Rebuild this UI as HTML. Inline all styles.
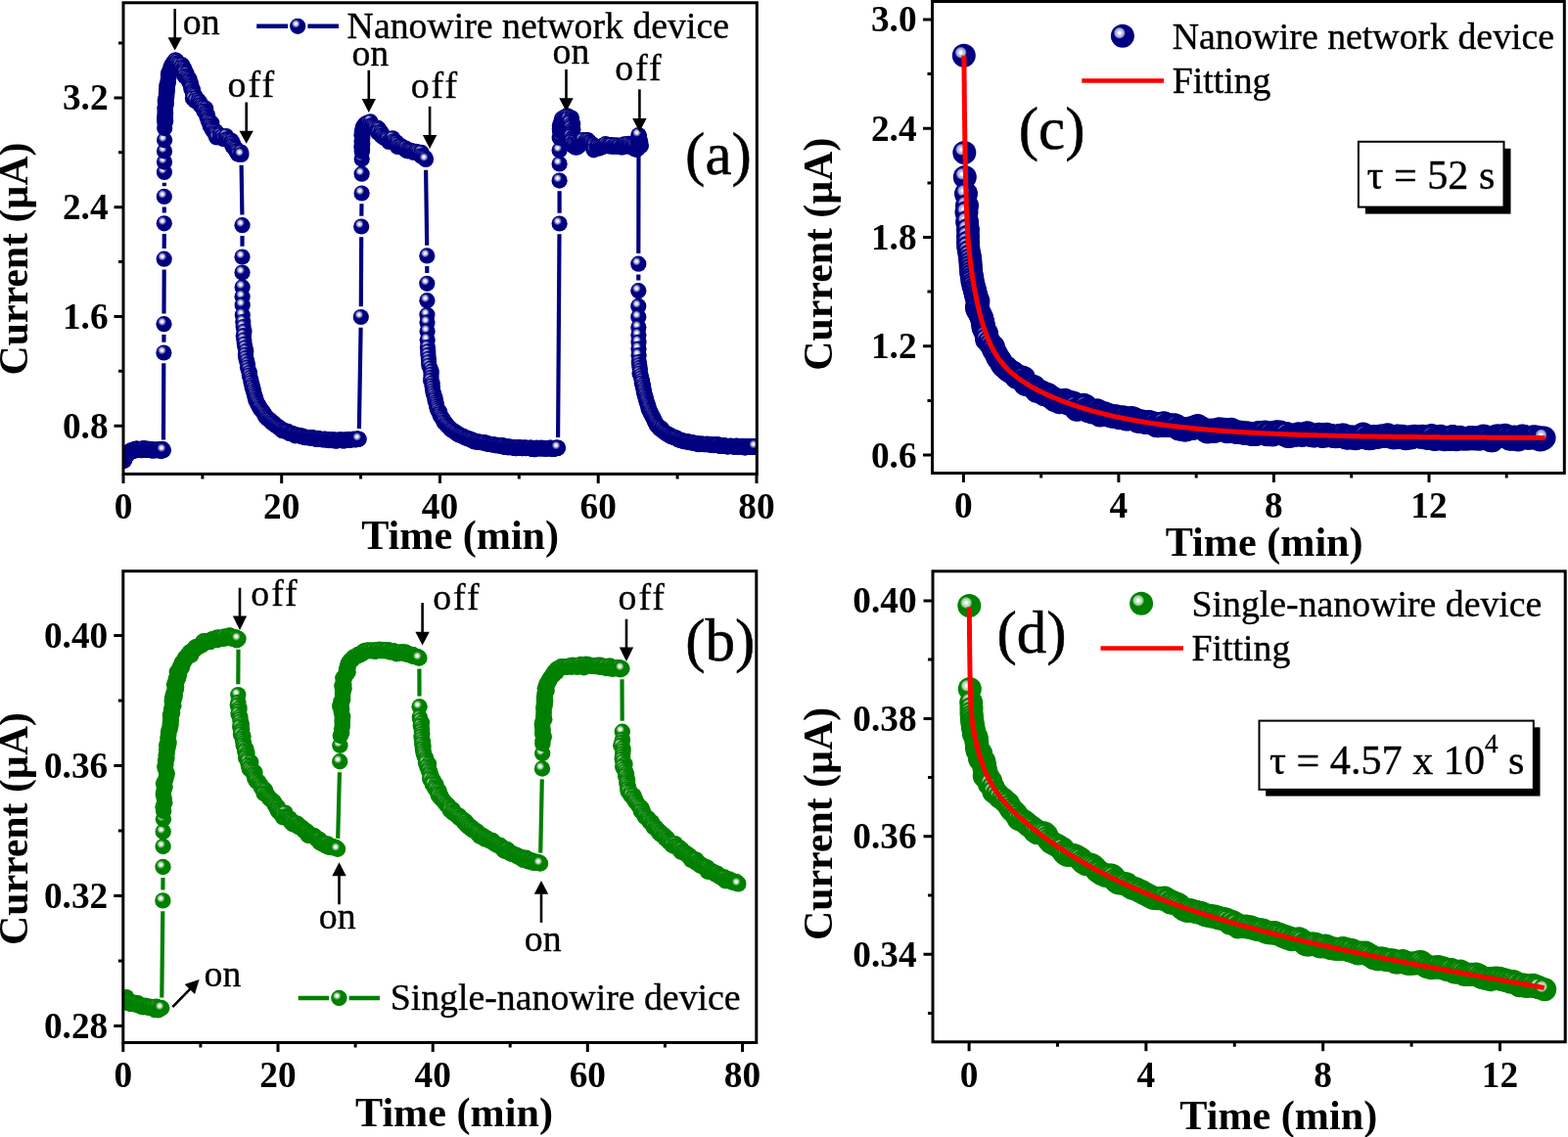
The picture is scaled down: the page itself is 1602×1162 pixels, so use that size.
<!DOCTYPE html>
<html><head><meta charset="utf-8"><title>Photocurrent response</title>
<style>html,body{margin:0;padding:0;background:#fff;}svg{display:block;}</style></head>
<body>
<svg width="1602" height="1162" viewBox="0 0 1602 1162" font-family="'Liberation Serif','Times New Roman',serif">
<rect width="1602" height="1162" fill="#fff"/>
<defs>
<radialGradient id="gN" cx="0.38" cy="0.345" r="0.27">
 <stop offset="0" stop-color="#ffffff"/><stop offset="0.2" stop-color="#f6f6ff"/>
 <stop offset="0.5" stop-color="#b4b4e0"/><stop offset="0.8" stop-color="#4848a0"/><stop offset="1" stop-color="#000080"/></radialGradient>
<radialGradient id="gN2" cx="0.37" cy="0.37" r="0.255">
 <stop offset="0" stop-color="#ffffff"/><stop offset="0.18" stop-color="#ffffff"/>
 <stop offset="0.35" stop-color="#dcdcf2"/><stop offset="0.5" stop-color="#b4b4de"/>
 <stop offset="0.64" stop-color="#bcbce2"/><stop offset="0.78" stop-color="#8484c4"/>
 <stop offset="0.92" stop-color="#3a3a98"/><stop offset="1" stop-color="#000080"/></radialGradient>
<radialGradient id="gG" cx="0.37" cy="0.36" r="0.27">
 <stop offset="0" stop-color="#ffffff"/><stop offset="0.2" stop-color="#f6fbf6"/>
 <stop offset="0.5" stop-color="#b0d8b0"/><stop offset="0.8" stop-color="#409c40"/><stop offset="1" stop-color="#008000"/></radialGradient>
<radialGradient id="gG2" cx="0.37" cy="0.37" r="0.255">
 <stop offset="0" stop-color="#ffffff"/><stop offset="0.18" stop-color="#ffffff"/>
 <stop offset="0.35" stop-color="#dcf0dc"/><stop offset="0.5" stop-color="#b4dab4"/>
 <stop offset="0.64" stop-color="#bcdebc"/><stop offset="0.78" stop-color="#84c084"/>
 <stop offset="0.92" stop-color="#3a9a3a"/><stop offset="1" stop-color="#008000"/></radialGradient>
<circle id="mA" r="8.1" fill="url(#gN)"/>
<circle id="mB" r="8.2" fill="url(#gG)"/>
<circle id="mC" r="12" fill="url(#gN2)"/>
<circle id="mD" r="12" fill="url(#gG2)"/>
<clipPath id="ca"><rect x="126" y="2.8" width="647.3" height="481.6"/></clipPath>
<clipPath id="cb"><rect x="125.8" y="583.7" width="647" height="481.8"/></clipPath>
<clipPath id="cc"><rect x="952.5" y="1.5" width="645.8" height="482"/></clipPath>
<clipPath id="cd"><rect x="953" y="583.8" width="646.2" height="481"/></clipPath>
</defs>
<g clip-path="url(#ca)">
<path d="M167.0 449.5L167.3 371.2M167.4 349.8L167.5 341.9M167.5 320.5L167.7 275.4M167.7 254.0L167.8 239.0M167.8 217.6L167.8 211.6M167.8 190.2L167.9 186.7M246.6 168.7L247.4 219.5M247.5 240.9L247.5 251.8M366.9 438.1L368.6 334.7M368.8 313.3L369.2 242.2M369.3 220.8L369.5 208.2M435.1 173.7L436.2 250.7M436.3 272.1L436.3 279.1M570.1 446.9L571.5 239.2M571.6 217.8L571.6 195.3M652.5 148.7L652.3 259.0M652.3 280.4L652.3 286.5" stroke="#000080" stroke-width="4.2" fill="none"/>
<use href="#mA" x="126.5" y="471.0"/>
<use href="#mA" x="126.9" y="470.5"/>
<use href="#mA" x="127.1" y="469.9"/>
<use href="#mA" x="127.0" y="469.3"/>
<use href="#mA" x="126.9" y="468.6"/>
<use href="#mA" x="126.7" y="467.9"/>
<use href="#mA" x="127.2" y="467.4"/>
<use href="#mA" x="127.4" y="466.9"/>
<use href="#mA" x="127.4" y="466.2"/>
<use href="#mA" x="128.0" y="465.7"/>
<use href="#mA" x="128.7" y="465.5"/>
<use href="#mA" x="129.6" y="465.4"/>
<use href="#mA" x="130.1" y="465.0"/>
<use href="#mA" x="129.7" y="463.9"/>
<use href="#mA" x="129.8" y="463.2"/>
<use href="#mA" x="130.2" y="462.7"/>
<use href="#mA" x="131.0" y="462.7"/>
<use href="#mA" x="131.7" y="462.6"/>
<use href="#mA" x="132.1" y="462.2"/>
<use href="#mA" x="132.6" y="461.8"/>
<use href="#mA" x="133.0" y="461.5"/>
<use href="#mA" x="133.4" y="460.7"/>
<use href="#mA" x="133.9" y="460.3"/>
<use href="#mA" x="134.7" y="460.6"/>
<use href="#mA" x="135.3" y="460.9"/>
<use href="#mA" x="136.0" y="461.2"/>
<use href="#mA" x="136.4" y="460.0"/>
<use href="#mA" x="137.0" y="459.4"/>
<use href="#mA" x="137.6" y="459.8"/>
<use href="#mA" x="138.2" y="459.4"/>
<use href="#mA" x="138.8" y="458.6"/>
<use href="#mA" x="139.4" y="458.8"/>
<use href="#mA" x="140.0" y="458.9"/>
<use href="#mA" x="140.6" y="458.6"/>
<use href="#mA" x="141.2" y="459.1"/>
<use href="#mA" x="141.9" y="459.9"/>
<use href="#mA" x="142.4" y="459.3"/>
<use href="#mA" x="143.0" y="459.2"/>
<use href="#mA" x="143.7" y="460.0"/>
<use href="#mA" x="144.3" y="460.2"/>
<use href="#mA" x="144.9" y="460.1"/>
<use href="#mA" x="145.5" y="459.9"/>
<use href="#mA" x="146.0" y="459.4"/>
<use href="#mA" x="146.6" y="458.1"/>
<use href="#mA" x="147.2" y="458.4"/>
<use href="#mA" x="147.9" y="459.4"/>
<use href="#mA" x="148.5" y="459.7"/>
<use href="#mA" x="149.1" y="459.9"/>
<use href="#mA" x="149.7" y="460.0"/>
<use href="#mA" x="150.3" y="459.4"/>
<use href="#mA" x="150.9" y="458.5"/>
<use href="#mA" x="151.5" y="459.1"/>
<use href="#mA" x="152.1" y="459.4"/>
<use href="#mA" x="152.7" y="459.1"/>
<use href="#mA" x="153.3" y="459.1"/>
<use href="#mA" x="153.9" y="459.2"/>
<use href="#mA" x="154.5" y="460.2"/>
<use href="#mA" x="155.1" y="460.6"/>
<use href="#mA" x="155.7" y="459.6"/>
<use href="#mA" x="156.3" y="459.5"/>
<use href="#mA" x="156.9" y="460.0"/>
<use href="#mA" x="157.5" y="460.5"/>
<use href="#mA" x="158.1" y="460.5"/>
<use href="#mA" x="158.7" y="459.7"/>
<use href="#mA" x="159.3" y="459.7"/>
<use href="#mA" x="159.9" y="459.9"/>
<use href="#mA" x="160.5" y="460.1"/>
<use href="#mA" x="161.1" y="460.1"/>
<use href="#mA" x="161.7" y="460.1"/>
<use href="#mA" x="162.3" y="459.7"/>
<use href="#mA" x="162.9" y="459.0"/>
<use href="#mA" x="163.5" y="459.7"/>
<use href="#mA" x="164.1" y="460.4"/>
<use href="#mA" x="164.6" y="461.1"/>
<use href="#mA" x="165.3" y="460.3"/>
<use href="#mA" x="165.9" y="458.8"/>
<use href="#mA" x="166.5" y="460.1"/>
<use href="#mA" x="166.9" y="460.2"/>
<use href="#mA" x="167.4" y="360.5"/>
<use href="#mA" x="167.5" y="331.2"/>
<use href="#mA" x="167.7" y="264.7"/>
<use href="#mA" x="167.8" y="228.3"/>
<use href="#mA" x="167.8" y="200.9"/>
<use href="#mA" x="167.9" y="176.0"/>
<use href="#mA" x="168.0" y="165.6"/>
<use href="#mA" x="168.0" y="154.5"/>
<use href="#mA" x="168.1" y="143.3"/>
<use href="#mA" x="168.2" y="131.0"/>
<use href="#mA" x="168.3" y="125.0"/>
<use href="#mA" x="169.2" y="123.8"/>
<use href="#mA" x="168.4" y="122.6"/>
<use href="#mA" x="168.2" y="121.4"/>
<use href="#mA" x="168.7" y="120.2"/>
<use href="#mA" x="168.4" y="119.0"/>
<use href="#mA" x="168.8" y="117.8"/>
<use href="#mA" x="168.7" y="116.6"/>
<use href="#mA" x="169.2" y="115.4"/>
<use href="#mA" x="168.6" y="114.2"/>
<use href="#mA" x="168.9" y="113.0"/>
<use href="#mA" x="168.7" y="111.8"/>
<use href="#mA" x="168.7" y="110.6"/>
<use href="#mA" x="168.6" y="109.4"/>
<use href="#mA" x="169.0" y="108.2"/>
<use href="#mA" x="169.6" y="107.1"/>
<use href="#mA" x="169.6" y="105.8"/>
<use href="#mA" x="168.8" y="104.6"/>
<use href="#mA" x="169.5" y="103.4"/>
<use href="#mA" x="168.8" y="102.2"/>
<use href="#mA" x="169.4" y="101.0"/>
<use href="#mA" x="169.8" y="99.9"/>
<use href="#mA" x="170.3" y="98.7"/>
<use href="#mA" x="170.0" y="97.5"/>
<use href="#mA" x="169.9" y="96.2"/>
<use href="#mA" x="170.0" y="95.1"/>
<use href="#mA" x="170.8" y="93.9"/>
<use href="#mA" x="170.2" y="92.7"/>
<use href="#mA" x="170.5" y="91.5"/>
<use href="#mA" x="170.6" y="90.3"/>
<use href="#mA" x="170.6" y="89.1"/>
<use href="#mA" x="170.4" y="87.8"/>
<use href="#mA" x="170.9" y="86.7"/>
<use href="#mA" x="171.5" y="85.6"/>
<use href="#mA" x="171.7" y="84.4"/>
<use href="#mA" x="171.5" y="83.1"/>
<use href="#mA" x="171.9" y="82.0"/>
<use href="#mA" x="172.0" y="80.8"/>
<use href="#mA" x="172.3" y="79.6"/>
<use href="#mA" x="172.5" y="78.5"/>
<use href="#mA" x="171.9" y="77.1"/>
<use href="#mA" x="172.8" y="76.0"/>
<use href="#mA" x="172.2" y="74.7"/>
<use href="#mA" x="172.9" y="73.6"/>
<use href="#mA" x="173.3" y="72.5"/>
<use href="#mA" x="174.0" y="71.4"/>
<use href="#mA" x="175.1" y="70.5"/>
<use href="#mA" x="174.3" y="69.0"/>
<use href="#mA" x="175.0" y="68.0"/>
<use href="#mA" x="175.8" y="67.0"/>
<use href="#mA" x="176.0" y="65.8"/>
<use href="#mA" x="176.8" y="64.8"/>
<use href="#mA" x="177.8" y="64.1"/>
<use href="#mA" x="178.1" y="62.8"/>
<use href="#mA" x="178.9" y="61.9"/>
<use href="#mA" x="179.4" y="61.5"/>
<use href="#mA" x="179.4" y="61.5"/>
<use href="#mA" x="180.8" y="62.5"/>
<use href="#mA" x="180.3" y="64.8"/>
<use href="#mA" x="182.0" y="65.5"/>
<use href="#mA" x="183.5" y="66.4"/>
<use href="#mA" x="186.3" y="66.4"/>
<use href="#mA" x="185.3" y="69.1"/>
<use href="#mA" x="187.7" y="69.2"/>
<use href="#mA" x="188.4" y="70.8"/>
<use href="#mA" x="187.8" y="73.2"/>
<use href="#mA" x="187.9" y="75.0"/>
<use href="#mA" x="190.7" y="75.2"/>
<use href="#mA" x="188.7" y="78.0"/>
<use href="#mA" x="190.7" y="78.8"/>
<use href="#mA" x="192.0" y="80.0"/>
<use href="#mA" x="193.6" y="81.0"/>
<use href="#mA" x="192.9" y="83.1"/>
<use href="#mA" x="193.9" y="84.4"/>
<use href="#mA" x="195.1" y="85.6"/>
<use href="#mA" x="195.2" y="87.4"/>
<use href="#mA" x="195.6" y="88.9"/>
<use href="#mA" x="195.3" y="90.7"/>
<use href="#mA" x="197.1" y="91.9"/>
<use href="#mA" x="197.2" y="93.5"/>
<use href="#mA" x="197.1" y="95.2"/>
<use href="#mA" x="197.6" y="96.7"/>
<use href="#mA" x="199.1" y="97.8"/>
<use href="#mA" x="196.9" y="100.5"/>
<use href="#mA" x="200.3" y="100.4"/>
<use href="#mA" x="199.2" y="103.1"/>
<use href="#mA" x="202.6" y="102.5"/>
<use href="#mA" x="202.6" y="104.5"/>
<use href="#mA" x="204.4" y="104.9"/>
<use href="#mA" x="204.2" y="107.3"/>
<use href="#mA" x="205.9" y="107.8"/>
<use href="#mA" x="206.5" y="109.5"/>
<use href="#mA" x="208.3" y="110.0"/>
<use href="#mA" x="210.2" y="110.9"/>
<use href="#mA" x="208.4" y="113.6"/>
<use href="#mA" x="210.3" y="114.5"/>
<use href="#mA" x="210.7" y="116.1"/>
<use href="#mA" x="211.9" y="117.3"/>
<use href="#mA" x="211.3" y="119.3"/>
<use href="#mA" x="212.7" y="120.4"/>
<use href="#mA" x="212.5" y="122.3"/>
<use href="#mA" x="212.9" y="123.8"/>
<use href="#mA" x="214.7" y="124.8"/>
<use href="#mA" x="216.3" y="125.8"/>
<use href="#mA" x="214.6" y="128.4"/>
<use href="#mA" x="216.3" y="129.3"/>
<use href="#mA" x="216.3" y="131.2"/>
<use href="#mA" x="217.0" y="132.7"/>
<use href="#mA" x="218.9" y="133.4"/>
<use href="#mA" x="220.5" y="134.3"/>
<use href="#mA" x="219.7" y="136.7"/>
<use href="#mA" x="220.5" y="138.2"/>
<use href="#mA" x="221.0" y="140.3"/>
<use href="#mA" x="224.7" y="138.0"/>
<use href="#mA" x="225.2" y="140.5"/>
<use href="#mA" x="227.1" y="139.6"/>
<use href="#mA" x="228.1" y="141.9"/>
<use href="#mA" x="231.0" y="139.0"/>
<use href="#mA" x="231.2" y="142.4"/>
<use href="#mA" x="232.9" y="142.7"/>
<use href="#mA" x="234.3" y="143.7"/>
<use href="#mA" x="236.7" y="143.9"/>
<use href="#mA" x="236.6" y="146.1"/>
<use href="#mA" x="238.1" y="147.0"/>
<use href="#mA" x="237.4" y="149.3"/>
<use href="#mA" x="238.6" y="150.5"/>
<use href="#mA" x="240.1" y="151.3"/>
<use href="#mA" x="241.4" y="152.3"/>
<use href="#mA" x="241.4" y="154.4"/>
<use href="#mA" x="242.4" y="155.6"/>
<use href="#mA" x="243.1" y="157.6"/>
<use href="#mA" x="246.2" y="155.5"/>
<use href="#mA" x="246.5" y="158.0"/>
<use href="#mA" x="247.5" y="230.2"/>
<use href="#mA" x="247.5" y="262.5"/>
<use href="#mA" x="247.5" y="278.6"/>
<use href="#mA" x="247.6" y="293.4"/>
<use href="#mA" x="247.6" y="303.2"/>
<use href="#mA" x="247.7" y="311.7"/>
<use href="#mA" x="247.8" y="322.0"/>
<use href="#mA" x="248.3" y="329.0"/>
<use href="#mA" x="248.6" y="334.0"/>
<use href="#mA" x="249.5" y="338.7"/>
<use href="#mA" x="248.8" y="343.2"/>
<use href="#mA" x="249.3" y="347.4"/>
<use href="#mA" x="249.8" y="351.5"/>
<use href="#mA" x="250.5" y="355.3"/>
<use href="#mA" x="251.3" y="358.9"/>
<use href="#mA" x="250.9" y="362.5"/>
<use href="#mA" x="251.3" y="365.9"/>
<use href="#mA" x="252.1" y="369.1"/>
<use href="#mA" x="253.0" y="372.2"/>
<use href="#mA" x="253.0" y="375.3"/>
<use href="#mA" x="253.7" y="378.1"/>
<use href="#mA" x="254.9" y="380.8"/>
<use href="#mA" x="254.8" y="383.6"/>
<use href="#mA" x="255.7" y="386.2"/>
<use href="#mA" x="256.4" y="388.7"/>
<use href="#mA" x="256.6" y="391.2"/>
<use href="#mA" x="257.7" y="393.5"/>
<use href="#mA" x="257.6" y="395.9"/>
<use href="#mA" x="258.7" y="398.0"/>
<use href="#mA" x="259.0" y="400.3"/>
<use href="#mA" x="259.8" y="402.4"/>
<use href="#mA" x="260.2" y="404.5"/>
<use href="#mA" x="261.1" y="406.4"/>
<use href="#mA" x="261.2" y="408.5"/>
<use href="#mA" x="262.0" y="410.3"/>
<use href="#mA" x="262.8" y="412.1"/>
<use href="#mA" x="263.8" y="413.7"/>
<use href="#mA" x="264.9" y="415.3"/>
<use href="#mA" x="265.3" y="417.1"/>
<use href="#mA" x="266.7" y="418.4"/>
<use href="#mA" x="267.9" y="419.7"/>
<use href="#mA" x="268.7" y="421.2"/>
<use href="#mA" x="269.7" y="422.5"/>
<use href="#mA" x="270.7" y="423.9"/>
<use href="#mA" x="271.1" y="425.7"/>
<use href="#mA" x="272.5" y="426.6"/>
<use href="#mA" x="273.2" y="428.1"/>
<use href="#mA" x="274.8" y="428.6"/>
<use href="#mA" x="276.2" y="429.4"/>
<use href="#mA" x="276.9" y="430.8"/>
<use href="#mA" x="277.7" y="432.1"/>
<use href="#mA" x="279.4" y="432.2"/>
<use href="#mA" x="280.5" y="433.2"/>
<use href="#mA" x="281.3" y="434.4"/>
<use href="#mA" x="282.5" y="435.1"/>
<use href="#mA" x="283.5" y="436.0"/>
<use href="#mA" x="284.7" y="436.6"/>
<use href="#mA" x="285.7" y="437.4"/>
<use href="#mA" x="286.8" y="438.2"/>
<use href="#mA" x="287.8" y="438.9"/>
<use href="#mA" x="288.5" y="440.2"/>
<use href="#mA" x="289.9" y="440.2"/>
<use href="#mA" x="291.3" y="440.3"/>
<use href="#mA" x="292.3" y="441.0"/>
<use href="#mA" x="293.6" y="440.9"/>
<use href="#mA" x="294.6" y="441.4"/>
<use href="#mA" x="295.3" y="442.8"/>
<use href="#mA" x="296.4" y="443.0"/>
<use href="#mA" x="297.7" y="442.9"/>
<use href="#mA" x="298.7" y="443.1"/>
<use href="#mA" x="299.7" y="443.6"/>
<use href="#mA" x="300.6" y="444.3"/>
<use href="#mA" x="301.5" y="445.3"/>
<use href="#mA" x="302.7" y="445.0"/>
<use href="#mA" x="303.8" y="444.7"/>
<use href="#mA" x="304.8" y="444.8"/>
<use href="#mA" x="305.7" y="445.4"/>
<use href="#mA" x="306.7" y="445.6"/>
<use href="#mA" x="307.8" y="445.4"/>
<use href="#mA" x="308.7" y="446.0"/>
<use href="#mA" x="309.7" y="445.8"/>
<use href="#mA" x="310.5" y="446.7"/>
<use href="#mA" x="311.4" y="447.1"/>
<use href="#mA" x="312.3" y="447.2"/>
<use href="#mA" x="313.3" y="447.0"/>
<use href="#mA" x="314.2" y="447.1"/>
<use href="#mA" x="315.1" y="447.3"/>
<use href="#mA" x="316.0" y="447.3"/>
<use href="#mA" x="316.9" y="447.4"/>
<use href="#mA" x="317.8" y="447.4"/>
<use href="#mA" x="318.7" y="447.2"/>
<use href="#mA" x="319.6" y="447.3"/>
<use href="#mA" x="320.3" y="448.1"/>
<use href="#mA" x="321.2" y="448.2"/>
<use href="#mA" x="322.0" y="448.3"/>
<use href="#mA" x="322.8" y="448.6"/>
<use href="#mA" x="323.6" y="448.8"/>
<use href="#mA" x="324.5" y="447.9"/>
<use href="#mA" x="325.3" y="448.2"/>
<use href="#mA" x="326.1" y="448.6"/>
<use href="#mA" x="326.9" y="448.9"/>
<use href="#mA" x="327.6" y="449.0"/>
<use href="#mA" x="328.4" y="448.8"/>
<use href="#mA" x="329.2" y="449.2"/>
<use href="#mA" x="329.9" y="449.4"/>
<use href="#mA" x="330.7" y="449.1"/>
<use href="#mA" x="331.5" y="448.7"/>
<use href="#mA" x="332.3" y="448.8"/>
<use href="#mA" x="333.0" y="449.2"/>
<use href="#mA" x="333.7" y="449.7"/>
<use href="#mA" x="334.4" y="449.6"/>
<use href="#mA" x="335.2" y="449.0"/>
<use href="#mA" x="335.9" y="449.1"/>
<use href="#mA" x="336.5" y="450.1"/>
<use href="#mA" x="337.3" y="449.9"/>
<use href="#mA" x="337.9" y="450.0"/>
<use href="#mA" x="338.6" y="450.1"/>
<use href="#mA" x="339.4" y="449.6"/>
<use href="#mA" x="340.0" y="449.5"/>
<use href="#mA" x="340.7" y="449.5"/>
<use href="#mA" x="341.4" y="449.3"/>
<use href="#mA" x="342.0" y="450.1"/>
<use href="#mA" x="342.7" y="450.7"/>
<use href="#mA" x="343.4" y="449.9"/>
<use href="#mA" x="344.0" y="450.2"/>
<use href="#mA" x="344.6" y="450.5"/>
<use href="#mA" x="345.3" y="449.8"/>
<use href="#mA" x="345.9" y="449.8"/>
<use href="#mA" x="346.6" y="450.0"/>
<use href="#mA" x="347.2" y="449.5"/>
<use href="#mA" x="347.8" y="449.4"/>
<use href="#mA" x="348.5" y="449.8"/>
<use href="#mA" x="349.1" y="450.2"/>
<use href="#mA" x="349.7" y="450.3"/>
<use href="#mA" x="350.3" y="449.7"/>
<use href="#mA" x="350.9" y="449.8"/>
<use href="#mA" x="351.5" y="450.5"/>
<use href="#mA" x="352.1" y="450.3"/>
<use href="#mA" x="352.7" y="450.0"/>
<use href="#mA" x="353.2" y="449.6"/>
<use href="#mA" x="353.8" y="449.5"/>
<use href="#mA" x="354.4" y="449.7"/>
<use href="#mA" x="355.0" y="449.7"/>
<use href="#mA" x="355.6" y="449.6"/>
<use href="#mA" x="356.1" y="449.7"/>
<use href="#mA" x="356.7" y="449.7"/>
<use href="#mA" x="357.2" y="449.5"/>
<use href="#mA" x="357.8" y="449.4"/>
<use href="#mA" x="358.3" y="449.2"/>
<use href="#mA" x="358.9" y="449.3"/>
<use href="#mA" x="359.4" y="449.4"/>
<use href="#mA" x="360.0" y="449.1"/>
<use href="#mA" x="360.5" y="448.9"/>
<use href="#mA" x="361.0" y="448.8"/>
<use href="#mA" x="361.5" y="448.8"/>
<use href="#mA" x="362.1" y="449.0"/>
<use href="#mA" x="362.7" y="449.2"/>
<use href="#mA" x="363.2" y="449.4"/>
<use href="#mA" x="363.7" y="449.2"/>
<use href="#mA" x="364.2" y="448.6"/>
<use href="#mA" x="364.7" y="448.5"/>
<use href="#mA" x="365.2" y="448.8"/>
<use href="#mA" x="365.7" y="448.8"/>
<use href="#mA" x="366.2" y="448.6"/>
<use href="#mA" x="366.7" y="448.8"/>
<use href="#mA" x="368.8" y="324.0"/>
<use href="#mA" x="369.2" y="231.5"/>
<use href="#mA" x="369.6" y="197.5"/>
<use href="#mA" x="369.6" y="177.7"/>
<use href="#mA" x="369.7" y="162.5"/>
<use href="#mA" x="369.8" y="155.0"/>
<use href="#mA" x="369.8" y="153.8"/>
<use href="#mA" x="370.1" y="152.6"/>
<use href="#mA" x="369.8" y="151.4"/>
<use href="#mA" x="369.8" y="150.2"/>
<use href="#mA" x="369.5" y="149.0"/>
<use href="#mA" x="370.2" y="147.8"/>
<use href="#mA" x="370.1" y="146.6"/>
<use href="#mA" x="370.1" y="145.4"/>
<use href="#mA" x="369.6" y="144.2"/>
<use href="#mA" x="370.0" y="143.0"/>
<use href="#mA" x="370.2" y="141.8"/>
<use href="#mA" x="370.2" y="140.6"/>
<use href="#mA" x="370.0" y="139.4"/>
<use href="#mA" x="369.5" y="138.2"/>
<use href="#mA" x="370.6" y="137.0"/>
<use href="#mA" x="369.8" y="135.7"/>
<use href="#mA" x="370.0" y="134.6"/>
<use href="#mA" x="371.1" y="133.5"/>
<use href="#mA" x="370.5" y="132.2"/>
<use href="#mA" x="370.7" y="131.0"/>
<use href="#mA" x="371.1" y="129.8"/>
<use href="#mA" x="371.8" y="128.7"/>
<use href="#mA" x="372.5" y="127.7"/>
<use href="#mA" x="373.3" y="126.7"/>
<use href="#mA" x="374.6" y="126.5"/>
<use href="#mA" x="375.4" y="125.5"/>
<use href="#mA" x="376.0" y="125.5"/>
<use href="#mA" x="376.0" y="125.5"/>
<use href="#mA" x="378.5" y="124.4"/>
<use href="#mA" x="377.7" y="128.8"/>
<use href="#mA" x="379.9" y="128.2"/>
<use href="#mA" x="381.2" y="129.1"/>
<use href="#mA" x="382.4" y="130.2"/>
<use href="#mA" x="383.5" y="131.4"/>
<use href="#mA" x="386.2" y="130.9"/>
<use href="#mA" x="387.2" y="132.3"/>
<use href="#mA" x="386.2" y="135.4"/>
<use href="#mA" x="389.1" y="134.9"/>
<use href="#mA" x="390.0" y="136.3"/>
<use href="#mA" x="389.6" y="138.7"/>
<use href="#mA" x="391.3" y="139.5"/>
<use href="#mA" x="392.2" y="140.7"/>
<use href="#mA" x="394.0" y="141.1"/>
<use href="#mA" x="394.8" y="141.8"/>
<use href="#mA" x="395.9" y="142.8"/>
<use href="#mA" x="397.3" y="144.9"/>
<use href="#mA" x="399.0" y="142.9"/>
<use href="#mA" x="401.2" y="141.3"/>
<use href="#mA" x="402.1" y="144.3"/>
<use href="#mA" x="403.4" y="145.4"/>
<use href="#mA" x="405.3" y="145.6"/>
<use href="#mA" x="405.8" y="147.4"/>
<use href="#mA" x="406.1" y="149.9"/>
<use href="#mA" x="407.9" y="150.1"/>
<use href="#mA" x="410.2" y="149.4"/>
<use href="#mA" x="411.4" y="150.5"/>
<use href="#mA" x="412.7" y="151.5"/>
<use href="#mA" x="414.4" y="151.6"/>
<use href="#mA" x="415.1" y="153.7"/>
<use href="#mA" x="416.6" y="154.3"/>
<use href="#mA" x="418.5" y="153.7"/>
<use href="#mA" x="420.0" y="154.1"/>
<use href="#mA" x="421.5" y="154.7"/>
<use href="#mA" x="422.8" y="155.9"/>
<use href="#mA" x="424.8" y="154.8"/>
<use href="#mA" x="426.4" y="155.3"/>
<use href="#mA" x="427.7" y="156.7"/>
<use href="#mA" x="430.4" y="155.8"/>
<use href="#mA" x="429.9" y="159.3"/>
<use href="#mA" x="431.4" y="159.9"/>
<use href="#mA" x="432.8" y="160.7"/>
<use href="#mA" x="434.4" y="161.3"/>
<use href="#mA" x="435.0" y="163.0"/>
<use href="#mA" x="436.3" y="261.4"/>
<use href="#mA" x="436.3" y="289.8"/>
<use href="#mA" x="436.4" y="307.2"/>
<use href="#mA" x="436.4" y="321.8"/>
<use href="#mA" x="436.5" y="329.6"/>
<use href="#mA" x="436.6" y="338.6"/>
<use href="#mA" x="436.7" y="347.5"/>
<use href="#mA" x="436.9" y="355.0"/>
<use href="#mA" x="437.3" y="359.0"/>
<use href="#mA" x="437.4" y="362.8"/>
<use href="#mA" x="437.9" y="366.5"/>
<use href="#mA" x="438.1" y="370.0"/>
<use href="#mA" x="438.3" y="373.5"/>
<use href="#mA" x="439.7" y="376.6"/>
<use href="#mA" x="440.7" y="379.7"/>
<use href="#mA" x="440.5" y="382.8"/>
<use href="#mA" x="440.5" y="385.9"/>
<use href="#mA" x="440.1" y="388.9"/>
<use href="#mA" x="441.7" y="391.5"/>
<use href="#mA" x="441.5" y="394.3"/>
<use href="#mA" x="441.9" y="396.9"/>
<use href="#mA" x="442.4" y="399.5"/>
<use href="#mA" x="442.7" y="402.0"/>
<use href="#mA" x="443.5" y="404.3"/>
<use href="#mA" x="444.6" y="406.5"/>
<use href="#mA" x="444.4" y="408.9"/>
<use href="#mA" x="445.3" y="411.1"/>
<use href="#mA" x="445.9" y="413.2"/>
<use href="#mA" x="446.2" y="415.4"/>
<use href="#mA" x="446.8" y="417.4"/>
<use href="#mA" x="447.5" y="419.4"/>
<use href="#mA" x="449.2" y="420.9"/>
<use href="#mA" x="449.2" y="423.1"/>
<use href="#mA" x="449.8" y="425.0"/>
<use href="#mA" x="451.2" y="426.4"/>
<use href="#mA" x="452.1" y="428.1"/>
<use href="#mA" x="453.3" y="429.5"/>
<use href="#mA" x="453.6" y="431.5"/>
<use href="#mA" x="455.4" y="432.4"/>
<use href="#mA" x="456.1" y="434.0"/>
<use href="#mA" x="457.4" y="435.2"/>
<use href="#mA" x="458.6" y="436.4"/>
<use href="#mA" x="459.7" y="437.6"/>
<use href="#mA" x="460.6" y="439.1"/>
<use href="#mA" x="462.2" y="439.6"/>
<use href="#mA" x="463.5" y="440.5"/>
<use href="#mA" x="464.7" y="441.5"/>
<use href="#mA" x="466.1" y="442.1"/>
<use href="#mA" x="467.1" y="443.4"/>
<use href="#mA" x="468.5" y="443.9"/>
<use href="#mA" x="469.7" y="444.7"/>
<use href="#mA" x="471.1" y="445.1"/>
<use href="#mA" x="472.3" y="445.8"/>
<use href="#mA" x="473.7" y="446.0"/>
<use href="#mA" x="474.8" y="446.9"/>
<use href="#mA" x="476.0" y="447.6"/>
<use href="#mA" x="477.3" y="448.1"/>
<use href="#mA" x="478.6" y="448.2"/>
<use href="#mA" x="479.8" y="448.8"/>
<use href="#mA" x="480.9" y="449.6"/>
<use href="#mA" x="482.2" y="449.4"/>
<use href="#mA" x="483.3" y="450.1"/>
<use href="#mA" x="484.3" y="451.2"/>
<use href="#mA" x="485.5" y="451.6"/>
<use href="#mA" x="486.9" y="451.0"/>
<use href="#mA" x="488.0" y="451.5"/>
<use href="#mA" x="489.1" y="452.0"/>
<use href="#mA" x="490.3" y="451.6"/>
<use href="#mA" x="491.4" y="452.0"/>
<use href="#mA" x="492.5" y="452.5"/>
<use href="#mA" x="493.7" y="452.3"/>
<use href="#mA" x="494.8" y="452.1"/>
<use href="#mA" x="495.9" y="452.5"/>
<use href="#mA" x="496.8" y="453.4"/>
<use href="#mA" x="497.9" y="453.2"/>
<use href="#mA" x="498.9" y="453.7"/>
<use href="#mA" x="499.9" y="454.0"/>
<use href="#mA" x="500.9" y="454.2"/>
<use href="#mA" x="501.9" y="454.2"/>
<use href="#mA" x="502.9" y="454.3"/>
<use href="#mA" x="504.0" y="454.3"/>
<use href="#mA" x="504.9" y="454.4"/>
<use href="#mA" x="505.9" y="454.8"/>
<use href="#mA" x="506.8" y="455.3"/>
<use href="#mA" x="507.8" y="455.0"/>
<use href="#mA" x="508.8" y="454.9"/>
<use href="#mA" x="509.7" y="455.2"/>
<use href="#mA" x="510.6" y="455.4"/>
<use href="#mA" x="511.5" y="455.8"/>
<use href="#mA" x="512.5" y="455.0"/>
<use href="#mA" x="513.4" y="455.3"/>
<use href="#mA" x="514.2" y="455.7"/>
<use href="#mA" x="515.0" y="456.8"/>
<use href="#mA" x="515.9" y="456.8"/>
<use href="#mA" x="516.8" y="456.4"/>
<use href="#mA" x="517.7" y="456.4"/>
<use href="#mA" x="518.5" y="456.9"/>
<use href="#mA" x="519.3" y="457.4"/>
<use href="#mA" x="520.2" y="456.6"/>
<use href="#mA" x="521.1" y="456.6"/>
<use href="#mA" x="521.9" y="457.0"/>
<use href="#mA" x="522.6" y="457.3"/>
<use href="#mA" x="523.5" y="457.2"/>
<use href="#mA" x="524.3" y="457.4"/>
<use href="#mA" x="525.1" y="457.1"/>
<use href="#mA" x="525.9" y="457.7"/>
<use href="#mA" x="526.6" y="458.2"/>
<use href="#mA" x="527.4" y="458.1"/>
<use href="#mA" x="528.2" y="457.8"/>
<use href="#mA" x="529.0" y="457.8"/>
<use href="#mA" x="529.8" y="457.4"/>
<use href="#mA" x="530.6" y="457.0"/>
<use href="#mA" x="531.2" y="458.0"/>
<use href="#mA" x="532.0" y="457.8"/>
<use href="#mA" x="532.7" y="457.9"/>
<use href="#mA" x="533.5" y="458.1"/>
<use href="#mA" x="534.2" y="458.2"/>
<use href="#mA" x="534.9" y="458.0"/>
<use href="#mA" x="535.7" y="457.7"/>
<use href="#mA" x="536.4" y="457.4"/>
<use href="#mA" x="537.1" y="458.1"/>
<use href="#mA" x="537.8" y="458.1"/>
<use href="#mA" x="538.5" y="457.9"/>
<use href="#mA" x="539.2" y="458.0"/>
<use href="#mA" x="539.8" y="458.0"/>
<use href="#mA" x="540.5" y="458.0"/>
<use href="#mA" x="541.2" y="458.1"/>
<use href="#mA" x="541.9" y="457.6"/>
<use href="#mA" x="542.6" y="457.7"/>
<use href="#mA" x="543.2" y="458.8"/>
<use href="#mA" x="543.8" y="458.7"/>
<use href="#mA" x="544.5" y="458.6"/>
<use href="#mA" x="545.2" y="458.9"/>
<use href="#mA" x="545.8" y="459.1"/>
<use href="#mA" x="546.4" y="459.2"/>
<use href="#mA" x="547.1" y="458.6"/>
<use href="#mA" x="547.7" y="458.1"/>
<use href="#mA" x="548.4" y="457.7"/>
<use href="#mA" x="549.0" y="458.0"/>
<use href="#mA" x="549.6" y="458.0"/>
<use href="#mA" x="550.2" y="458.0"/>
<use href="#mA" x="550.8" y="458.1"/>
<use href="#mA" x="551.4" y="458.3"/>
<use href="#mA" x="552.0" y="458.5"/>
<use href="#mA" x="552.6" y="458.2"/>
<use href="#mA" x="553.2" y="457.6"/>
<use href="#mA" x="553.8" y="458.2"/>
<use href="#mA" x="554.4" y="458.5"/>
<use href="#mA" x="555.0" y="458.0"/>
<use href="#mA" x="555.6" y="458.1"/>
<use href="#mA" x="556.2" y="458.6"/>
<use href="#mA" x="556.8" y="458.5"/>
<use href="#mA" x="557.3" y="458.4"/>
<use href="#mA" x="557.9" y="458.4"/>
<use href="#mA" x="558.5" y="458.3"/>
<use href="#mA" x="559.0" y="458.4"/>
<use href="#mA" x="559.6" y="458.3"/>
<use href="#mA" x="560.1" y="458.2"/>
<use href="#mA" x="560.7" y="458.1"/>
<use href="#mA" x="561.2" y="458.1"/>
<use href="#mA" x="561.8" y="457.8"/>
<use href="#mA" x="562.3" y="457.6"/>
<use href="#mA" x="562.9" y="457.9"/>
<use href="#mA" x="563.4" y="458.3"/>
<use href="#mA" x="564.0" y="458.7"/>
<use href="#mA" x="564.6" y="458.9"/>
<use href="#mA" x="565.1" y="458.9"/>
<use href="#mA" x="565.6" y="458.8"/>
<use href="#mA" x="566.1" y="458.6"/>
<use href="#mA" x="566.6" y="458.4"/>
<use href="#mA" x="567.1" y="458.2"/>
<use href="#mA" x="567.6" y="457.9"/>
<use href="#mA" x="568.1" y="457.5"/>
<use href="#mA" x="568.6" y="457.8"/>
<use href="#mA" x="569.2" y="458.2"/>
<use href="#mA" x="569.7" y="458.0"/>
<use href="#mA" x="570.0" y="457.6"/>
<use href="#mA" x="571.6" y="228.5"/>
<use href="#mA" x="571.6" y="184.6"/>
<use href="#mA" x="571.6" y="167.4"/>
<use href="#mA" x="571.6" y="153.6"/>
<use href="#mA" x="571.7" y="140.7"/>
<use href="#mA" x="572.0" y="134.0"/>
<use href="#mA" x="572.0" y="132.6"/>
<use href="#mA" x="571.9" y="131.2"/>
<use href="#mA" x="572.1" y="129.8"/>
<use href="#mA" x="571.9" y="128.3"/>
<use href="#mA" x="575.9" y="127.7"/>
<use href="#mA" x="573.1" y="125.7"/>
<use href="#mA" x="574.1" y="124.5"/>
<use href="#mA" x="574.5" y="123.2"/>
<use href="#mA" x="573.9" y="121.4"/>
<use href="#mA" x="576.2" y="121.4"/>
<use href="#mA" x="576.6" y="119.9"/>
<use href="#mA" x="578.2" y="120.8"/>
<use href="#mA" x="579.1" y="118.3"/>
<use href="#mA" x="580.6" y="118.9"/>
<use href="#mA" x="580.2" y="121.4"/>
<use href="#mA" x="584.0" y="120.5"/>
<use href="#mA" x="583.5" y="122.4"/>
<use href="#mA" x="582.2" y="124.1"/>
<use href="#mA" x="581.7" y="125.5"/>
<use href="#mA" x="585.2" y="126.7"/>
<use href="#mA" x="582.8" y="128.2"/>
<use href="#mA" x="584.0" y="129.6"/>
<use href="#mA" x="582.9" y="131.0"/>
<use href="#mA" x="585.4" y="132.3"/>
<use href="#mA" x="583.8" y="133.8"/>
<use href="#mA" x="584.9" y="135.1"/>
<use href="#mA" x="583.2" y="136.6"/>
<use href="#mA" x="582.7" y="138.0"/>
<use href="#mA" x="582.8" y="139.4"/>
<use href="#mA" x="585.5" y="140.6"/>
<use href="#mA" x="584.7" y="142.1"/>
<use href="#mA" x="585.3" y="143.4"/>
<use href="#mA" x="583.6" y="145.0"/>
<use href="#mA" x="586.0" y="145.7"/>
<use href="#mA" x="584.1" y="148.1"/>
<use href="#mA" x="585.6" y="148.8"/>
<use href="#mA" x="586.6" y="149.8"/>
<use href="#mA" x="588.1" y="150.7"/>
<use href="#mA" x="589.8" y="150.4"/>
<use href="#mA" x="590.9" y="149.3"/>
<use href="#mA" x="592.0" y="148.4"/>
<use href="#mA" x="592.0" y="146.0"/>
<use href="#mA" x="593.8" y="146.1"/>
<use href="#mA" x="595.0" y="145.4"/>
<use href="#mA" x="595.2" y="143.0"/>
<use href="#mA" x="597.5" y="145.3"/>
<use href="#mA" x="599.1" y="143.1"/>
<use href="#mA" x="600.9" y="143.4"/>
<use href="#mA" x="601.2" y="145.6"/>
<use href="#mA" x="602.7" y="145.8"/>
<use href="#mA" x="603.6" y="147.0"/>
<use href="#mA" x="604.4" y="148.4"/>
<use href="#mA" x="606.2" y="148.2"/>
<use href="#mA" x="606.5" y="150.2"/>
<use href="#mA" x="606.6" y="153.3"/>
<use href="#mA" x="609.7" y="149.9"/>
<use href="#mA" x="610.9" y="150.1"/>
<use href="#mA" x="612.3" y="151.6"/>
<use href="#mA" x="613.4" y="149.8"/>
<use href="#mA" x="614.9" y="150.4"/>
<use href="#mA" x="616.0" y="148.9"/>
<use href="#mA" x="617.6" y="149.2"/>
<use href="#mA" x="618.6" y="147.2"/>
<use href="#mA" x="620.3" y="148.4"/>
<use href="#mA" x="621.8" y="149.4"/>
<use href="#mA" x="623.1" y="148.0"/>
<use href="#mA" x="624.6" y="148.1"/>
<use href="#mA" x="625.9" y="150.0"/>
<use href="#mA" x="627.3" y="149.5"/>
<use href="#mA" x="629.0" y="148.4"/>
<use href="#mA" x="630.1" y="150.0"/>
<use href="#mA" x="631.6" y="148.7"/>
<use href="#mA" x="632.9" y="149.6"/>
<use href="#mA" x="634.6" y="150.5"/>
<use href="#mA" x="636.2" y="150.4"/>
<use href="#mA" x="636.8" y="148.4"/>
<use href="#mA" x="637.8" y="147.3"/>
<use href="#mA" x="639.3" y="147.6"/>
<use href="#mA" x="640.3" y="148.9"/>
<use href="#mA" x="642.2" y="146.9"/>
<use href="#mA" x="643.1" y="148.3"/>
<use href="#mA" x="643.6" y="150.1"/>
<use href="#mA" x="646.0" y="148.9"/>
<use href="#mA" x="647.3" y="149.4"/>
<use href="#mA" x="647.9" y="151.1"/>
<use href="#mA" x="648.9" y="152.5"/>
<use href="#mA" x="650.6" y="152.8"/>
<use href="#mA" x="652.0" y="151.6"/>
<use href="#mA" x="652.1" y="150.0"/>
<use href="#mA" x="654.9" y="149.0"/>
<use href="#mA" x="653.1" y="147.3"/>
<use href="#mA" x="652.7" y="145.9"/>
<use href="#mA" x="654.2" y="144.5"/>
<use href="#mA" x="652.0" y="143.0"/>
<use href="#mA" x="653.2" y="141.6"/>
<use href="#mA" x="652.9" y="140.2"/>
<use href="#mA" x="652.7" y="138.8"/>
<use href="#mA" x="652.5" y="138.0"/>
<use href="#mA" x="652.3" y="269.7"/>
<use href="#mA" x="652.3" y="297.2"/>
<use href="#mA" x="652.3" y="312.9"/>
<use href="#mA" x="652.3" y="324.1"/>
<use href="#mA" x="652.4" y="334.6"/>
<use href="#mA" x="652.4" y="342.6"/>
<use href="#mA" x="652.5" y="349.8"/>
<use href="#mA" x="652.5" y="356.5"/>
<use href="#mA" x="652.6" y="363.2"/>
<use href="#mA" x="652.8" y="370.0"/>
<use href="#mA" x="653.2" y="373.0"/>
<use href="#mA" x="653.6" y="375.9"/>
<use href="#mA" x="653.9" y="378.7"/>
<use href="#mA" x="653.5" y="381.5"/>
<use href="#mA" x="654.7" y="384.0"/>
<use href="#mA" x="655.2" y="386.6"/>
<use href="#mA" x="656.0" y="389.0"/>
<use href="#mA" x="655.8" y="391.5"/>
<use href="#mA" x="657.0" y="393.7"/>
<use href="#mA" x="657.0" y="396.1"/>
<use href="#mA" x="657.8" y="398.3"/>
<use href="#mA" x="657.8" y="400.5"/>
<use href="#mA" x="658.6" y="402.6"/>
<use href="#mA" x="658.9" y="404.7"/>
<use href="#mA" x="659.9" y="406.6"/>
<use href="#mA" x="660.2" y="408.7"/>
<use href="#mA" x="660.6" y="410.6"/>
<use href="#mA" x="661.4" y="412.4"/>
<use href="#mA" x="662.1" y="414.2"/>
<use href="#mA" x="662.5" y="416.0"/>
<use href="#mA" x="662.6" y="418.0"/>
<use href="#mA" x="663.6" y="419.5"/>
<use href="#mA" x="664.4" y="421.1"/>
<use href="#mA" x="665.0" y="422.8"/>
<use href="#mA" x="666.0" y="424.2"/>
<use href="#mA" x="666.6" y="425.8"/>
<use href="#mA" x="667.4" y="427.2"/>
<use href="#mA" x="668.3" y="428.6"/>
<use href="#mA" x="668.7" y="430.2"/>
<use href="#mA" x="669.4" y="431.6"/>
<use href="#mA" x="670.3" y="432.9"/>
<use href="#mA" x="670.8" y="434.4"/>
<use href="#mA" x="672.2" y="435.3"/>
<use href="#mA" x="673.2" y="436.3"/>
<use href="#mA" x="673.7" y="437.9"/>
<use href="#mA" x="675.8" y="437.8"/>
<use href="#mA" x="676.4" y="439.3"/>
<use href="#mA" x="677.2" y="440.5"/>
<use href="#mA" x="678.3" y="441.3"/>
<use href="#mA" x="679.4" y="442.0"/>
<use href="#mA" x="680.4" y="442.9"/>
<use href="#mA" x="681.6" y="443.6"/>
<use href="#mA" x="682.9" y="443.9"/>
<use href="#mA" x="683.7" y="445.0"/>
<use href="#mA" x="685.1" y="445.1"/>
<use href="#mA" x="685.9" y="446.2"/>
<use href="#mA" x="687.3" y="446.3"/>
<use href="#mA" x="688.2" y="447.1"/>
<use href="#mA" x="689.5" y="447.1"/>
<use href="#mA" x="690.6" y="447.5"/>
<use href="#mA" x="691.7" y="447.9"/>
<use href="#mA" x="692.6" y="448.9"/>
<use href="#mA" x="693.6" y="449.5"/>
<use href="#mA" x="694.7" y="449.6"/>
<use href="#mA" x="695.7" y="450.3"/>
<use href="#mA" x="696.9" y="450.2"/>
<use href="#mA" x="697.9" y="450.5"/>
<use href="#mA" x="698.9" y="451.0"/>
<use href="#mA" x="699.9" y="451.3"/>
<use href="#mA" x="701.1" y="451.1"/>
<use href="#mA" x="702.1" y="451.4"/>
<use href="#mA" x="703.1" y="451.6"/>
<use href="#mA" x="704.1" y="451.7"/>
<use href="#mA" x="705.1" y="452.0"/>
<use href="#mA" x="706.0" y="452.4"/>
<use href="#mA" x="707.0" y="452.3"/>
<use href="#mA" x="708.0" y="452.5"/>
<use href="#mA" x="709.0" y="452.5"/>
<use href="#mA" x="709.9" y="453.0"/>
<use href="#mA" x="710.8" y="453.0"/>
<use href="#mA" x="711.8" y="453.1"/>
<use href="#mA" x="712.6" y="454.0"/>
<use href="#mA" x="713.6" y="453.5"/>
<use href="#mA" x="714.4" y="454.2"/>
<use href="#mA" x="715.4" y="454.0"/>
<use href="#mA" x="716.3" y="453.6"/>
<use href="#mA" x="717.2" y="453.6"/>
<use href="#mA" x="718.1" y="453.9"/>
<use href="#mA" x="718.9" y="454.1"/>
<use href="#mA" x="719.8" y="454.1"/>
<use href="#mA" x="720.7" y="454.2"/>
<use href="#mA" x="721.5" y="454.1"/>
<use href="#mA" x="722.4" y="453.7"/>
<use href="#mA" x="723.2" y="454.1"/>
<use href="#mA" x="724.0" y="454.0"/>
<use href="#mA" x="724.9" y="454.0"/>
<use href="#mA" x="725.6" y="454.8"/>
<use href="#mA" x="726.5" y="454.5"/>
<use href="#mA" x="727.3" y="454.5"/>
<use href="#mA" x="728.0" y="454.7"/>
<use href="#mA" x="728.8" y="454.9"/>
<use href="#mA" x="729.6" y="455.1"/>
<use href="#mA" x="730.4" y="454.5"/>
<use href="#mA" x="731.2" y="454.4"/>
<use href="#mA" x="731.9" y="454.5"/>
<use href="#mA" x="732.7" y="454.7"/>
<use href="#mA" x="733.4" y="454.4"/>
<use href="#mA" x="734.2" y="454.7"/>
<use href="#mA" x="734.9" y="455.4"/>
<use href="#mA" x="735.6" y="456.0"/>
<use href="#mA" x="736.3" y="455.2"/>
<use href="#mA" x="737.1" y="455.5"/>
<use href="#mA" x="737.8" y="455.6"/>
<use href="#mA" x="738.5" y="455.0"/>
<use href="#mA" x="739.2" y="455.6"/>
<use href="#mA" x="739.9" y="455.7"/>
<use href="#mA" x="740.6" y="455.6"/>
<use href="#mA" x="741.3" y="455.7"/>
<use href="#mA" x="741.9" y="455.9"/>
<use href="#mA" x="742.6" y="456.2"/>
<use href="#mA" x="743.3" y="456.6"/>
<use href="#mA" x="744.0" y="456.3"/>
<use href="#mA" x="744.6" y="456.0"/>
<use href="#mA" x="745.3" y="456.0"/>
<use href="#mA" x="746.0" y="455.8"/>
<use href="#mA" x="746.6" y="455.7"/>
<use href="#mA" x="747.3" y="456.2"/>
<use href="#mA" x="747.9" y="456.2"/>
<use href="#mA" x="748.6" y="456.1"/>
<use href="#mA" x="749.2" y="456.4"/>
<use href="#mA" x="749.8" y="456.4"/>
<use href="#mA" x="750.5" y="456.2"/>
<use href="#mA" x="751.1" y="456.7"/>
<use href="#mA" x="751.7" y="456.7"/>
<use href="#mA" x="752.3" y="455.7"/>
<use href="#mA" x="752.9" y="455.8"/>
<use href="#mA" x="753.5" y="456.3"/>
<use href="#mA" x="754.1" y="456.6"/>
<use href="#mA" x="754.7" y="456.6"/>
<use href="#mA" x="755.3" y="456.3"/>
<use href="#mA" x="755.9" y="456.2"/>
<use href="#mA" x="756.5" y="456.1"/>
<use href="#mA" x="757.1" y="456.3"/>
<use href="#mA" x="757.7" y="456.2"/>
<use href="#mA" x="758.3" y="455.9"/>
<use href="#mA" x="758.9" y="456.1"/>
<use href="#mA" x="759.4" y="456.5"/>
<use href="#mA" x="760.0" y="457.1"/>
<use href="#mA" x="760.6" y="457.5"/>
<use href="#mA" x="761.1" y="457.2"/>
<use href="#mA" x="761.7" y="456.8"/>
<use href="#mA" x="762.2" y="456.2"/>
<use href="#mA" x="762.8" y="456.0"/>
<use href="#mA" x="763.3" y="456.1"/>
<use href="#mA" x="763.9" y="456.2"/>
<use href="#mA" x="764.4" y="456.3"/>
<use href="#mA" x="765.0" y="456.6"/>
<use href="#mA" x="765.5" y="456.9"/>
<use href="#mA" x="766.0" y="456.5"/>
<use href="#mA" x="766.6" y="456.1"/>
<use href="#mA" x="767.1" y="456.2"/>
<use href="#mA" x="767.6" y="456.3"/>
<use href="#mA" x="768.2" y="456.7"/>
<use href="#mA" x="768.7" y="456.9"/>
<use href="#mA" x="769.2" y="456.9"/>
<use href="#mA" x="769.7" y="456.7"/>
<use href="#mA" x="770.2" y="456.5"/>
<use href="#mA" x="770.7" y="456.2"/>
<use href="#mA" x="771.2" y="456.1"/>
<use href="#mA" x="771.7" y="456.5"/>
</g>
<rect x="126" y="2.8" width="647.3" height="481.6" fill="none" stroke="#000" stroke-width="3.0" stroke-linejoin="miter"/>
<path d="M126.0 484.4V493.9M206.9 484.4V489.4M287.7 484.4V493.9M368.6 484.4V489.4M449.5 484.4V493.9M530.3 484.4V489.4M611.2 484.4V493.9M692.1 484.4V489.4M773.0 484.4V493.9M126 435.2H116.5M126 379.3H121.0M126 323.4H116.5M126 267.6H121.0M126 211.7H116.5M126 155.8H121.0M126 99.9H116.5M126 44.0H121.0" stroke="#000" stroke-width="3.0" fill="none"/>
<text x="110.6" y="447.7" font-size="37.3" font-weight="bold" text-anchor="end" >0.8</text>
<text x="110.6" y="335.9" font-size="37.3" font-weight="bold" text-anchor="end" >1.6</text>
<text x="110.6" y="224.2" font-size="37.3" font-weight="bold" text-anchor="end" >2.4</text>
<text x="110.6" y="112.4" font-size="37.3" font-weight="bold" text-anchor="end" >3.2</text>
<text x="126.0" y="530.0" font-size="37.3" font-weight="bold" text-anchor="middle" >0</text>
<text x="287.7" y="530.0" font-size="37.3" font-weight="bold" text-anchor="middle" >20</text>
<text x="449.5" y="530.0" font-size="37.3" font-weight="bold" text-anchor="middle" >40</text>
<text x="611.2" y="530.0" font-size="37.3" font-weight="bold" text-anchor="middle" >60</text>
<text x="773.0" y="530.0" font-size="37.3" font-weight="bold" text-anchor="middle" >80</text>
<text x="369.2" y="561.1" font-size="42.2" font-weight="bold" text-anchor="start" >Time (min)</text>
<text x="28.3" y="264.5" font-size="41.8" font-weight="bold" text-anchor="middle" transform="rotate(-90 28.3 264.5)">Current (µA)</text>
<path d="M262.2 26.8H294.1M314.4 26.8H346" stroke="#000080" stroke-width="4.6"/>
<use href="#mA" x="304.2" y="26.8"/>
<text x="354.6" y="39.3" font-size="37.8" font-weight="normal" text-anchor="start" stroke="#000" stroke-width="0.35" >Nanowire network device</text>
<text x="700.1" y="177.8" font-size="61" font-weight="normal" text-anchor="start" stroke="#000" stroke-width="0.5" >(a)</text>
<text x="186.8" y="35.0" font-size="37.8" font-weight="normal" text-anchor="start" stroke="#000" stroke-width="0.35" >on</text>
<path d="M178.7 9.0V39.3" stroke="#000" stroke-width="2.6"/><path d="M171.5 38.3L185.9 38.3L178.7 51.6Z" fill="#000"/>
<text x="232.6" y="98.5" font-size="37.8" font-weight="normal" text-anchor="start" stroke="#000" stroke-width="0.35" letter-spacing="2.0">off</text>
<path d="M251.7 104.5V134.8" stroke="#000" stroke-width="2.6"/><path d="M244.5 133.8L258.9 133.8L251.7 146.7Z" fill="#000"/>
<text x="359.4" y="66.7" font-size="37.8" font-weight="normal" text-anchor="start" stroke="#000" stroke-width="0.35" >on</text>
<path d="M376.8 71.8V102.1" stroke="#000" stroke-width="2.6"/><path d="M369.6 101.1L384.0 101.1L376.8 114.9Z" fill="#000"/>
<text x="419.7" y="100.2" font-size="37.8" font-weight="normal" text-anchor="start" stroke="#000" stroke-width="0.35" letter-spacing="2.0">off</text>
<path d="M439.1 108.8V139.0" stroke="#000" stroke-width="2.6"/><path d="M431.9 138.0L446.3 138.0L439.1 151.9Z" fill="#000"/>
<text x="564.6" y="65.0" font-size="37.8" font-weight="normal" text-anchor="start" stroke="#000" stroke-width="0.35" >on</text>
<path d="M578.5 71.0V101.2" stroke="#000" stroke-width="2.6"/><path d="M571.3 100.2L585.7 100.2L578.5 114.0Z" fill="#000"/>
<text x="628.3" y="82.2" font-size="37.8" font-weight="normal" text-anchor="start" stroke="#000" stroke-width="0.35" letter-spacing="2.0">off</text>
<path d="M653.4 91.3V121.9" stroke="#000" stroke-width="2.6"/><path d="M646.2 120.9L660.6 120.9L653.4 134.7Z" fill="#000"/>
<g clip-path="url(#cb)">
<path d="M165.3 1019.4L166.3 931.3M166.4 909.5L166.5 896.9M243.5 663.7L243.3 699.2M345.2 856.9L346.9 789.2M428.4 683.4L428.5 711.4M552.2 871.6L553.8 796.4M635.5 694.2L635.7 736.8" stroke="#008000" stroke-width="4.2" fill="none"/>
<use href="#mB" x="127.0" y="1020.0"/>
<use href="#mB" x="129.1" y="1019.1"/>
<use href="#mB" x="128.2" y="1021.4"/>
<use href="#mB" x="129.1" y="1021.7"/>
<use href="#mB" x="129.6" y="1022.5"/>
<use href="#mB" x="129.6" y="1024.0"/>
<use href="#mB" x="130.2" y="1024.9"/>
<use href="#mB" x="131.6" y="1024.4"/>
<use href="#mB" x="133.0" y="1023.7"/>
<use href="#mB" x="133.2" y="1025.5"/>
<use href="#mB" x="133.9" y="1026.1"/>
<use href="#mB" x="135.4" y="1024.8"/>
<use href="#mB" x="136.3" y="1024.8"/>
<use href="#mB" x="137.0" y="1025.6"/>
<use href="#mB" x="138.1" y="1025.3"/>
<use href="#mB" x="138.6" y="1026.5"/>
<use href="#mB" x="139.4" y="1026.8"/>
<use href="#mB" x="140.9" y="1025.2"/>
<use href="#mB" x="141.4" y="1026.5"/>
<use href="#mB" x="142.1" y="1027.4"/>
<use href="#mB" x="142.9" y="1027.7"/>
<use href="#mB" x="143.7" y="1028.3"/>
<use href="#mB" x="144.5" y="1028.6"/>
<use href="#mB" x="145.5" y="1028.5"/>
<use href="#mB" x="146.3" y="1029.3"/>
<use href="#mB" x="147.3" y="1028.4"/>
<use href="#mB" x="148.3" y="1027.8"/>
<use href="#mB" x="149.1" y="1029.0"/>
<use href="#mB" x="150.0" y="1028.7"/>
<use href="#mB" x="150.8" y="1029.5"/>
<use href="#mB" x="151.7" y="1029.7"/>
<use href="#mB" x="152.7" y="1028.8"/>
<use href="#mB" x="153.5" y="1028.9"/>
<use href="#mB" x="154.4" y="1030.0"/>
<use href="#mB" x="155.3" y="1030.2"/>
<use href="#mB" x="156.2" y="1029.6"/>
<use href="#mB" x="157.1" y="1030.2"/>
<use href="#mB" x="157.9" y="1032.0"/>
<use href="#mB" x="158.8" y="1031.5"/>
<use href="#mB" x="159.9" y="1028.7"/>
<use href="#mB" x="160.7" y="1030.3"/>
<use href="#mB" x="161.5" y="1032.4"/>
<use href="#mB" x="162.4" y="1031.3"/>
<use href="#mB" x="163.4" y="1030.6"/>
<use href="#mB" x="164.3" y="1030.2"/>
<use href="#mB" x="165.2" y="1030.3"/>
<use href="#mB" x="166.4" y="920.4"/>
<use href="#mB" x="166.5" y="886.0"/>
<use href="#mB" x="166.6" y="865.0"/>
<use href="#mB" x="166.7" y="850.0"/>
<use href="#mB" x="166.9" y="837.2"/>
<use href="#mB" x="167.1" y="829.0"/>
<use href="#mB" x="166.5" y="824.5"/>
<use href="#mB" x="168.3" y="820.2"/>
<use href="#mB" x="167.7" y="816.0"/>
<use href="#mB" x="166.8" y="811.9"/>
<use href="#mB" x="167.4" y="808.1"/>
<use href="#mB" x="168.6" y="804.3"/>
<use href="#mB" x="167.0" y="800.6"/>
<use href="#mB" x="169.0" y="797.2"/>
<use href="#mB" x="169.9" y="793.8"/>
<use href="#mB" x="170.8" y="790.5"/>
<use href="#mB" x="169.4" y="787.2"/>
<use href="#mB" x="168.3" y="783.9"/>
<use href="#mB" x="169.5" y="780.9"/>
<use href="#mB" x="169.0" y="777.9"/>
<use href="#mB" x="170.5" y="775.1"/>
<use href="#mB" x="169.6" y="772.1"/>
<use href="#mB" x="170.7" y="769.4"/>
<use href="#mB" x="170.2" y="766.6"/>
<use href="#mB" x="171.6" y="764.1"/>
<use href="#mB" x="170.2" y="761.4"/>
<use href="#mB" x="172.6" y="759.1"/>
<use href="#mB" x="172.0" y="756.5"/>
<use href="#mB" x="171.4" y="754.0"/>
<use href="#mB" x="172.3" y="751.7"/>
<use href="#mB" x="172.1" y="749.3"/>
<use href="#mB" x="172.3" y="747.1"/>
<use href="#mB" x="173.7" y="744.9"/>
<use href="#mB" x="173.5" y="742.7"/>
<use href="#mB" x="174.6" y="740.6"/>
<use href="#mB" x="173.8" y="738.4"/>
<use href="#mB" x="174.8" y="736.4"/>
<use href="#mB" x="174.5" y="734.3"/>
<use href="#mB" x="174.2" y="732.3"/>
<use href="#mB" x="174.0" y="730.2"/>
<use href="#mB" x="176.1" y="728.6"/>
<use href="#mB" x="175.6" y="726.6"/>
<use href="#mB" x="175.1" y="724.6"/>
<use href="#mB" x="176.0" y="722.8"/>
<use href="#mB" x="177.4" y="721.2"/>
<use href="#mB" x="176.1" y="719.2"/>
<use href="#mB" x="175.9" y="717.4"/>
<use href="#mB" x="175.7" y="715.6"/>
<use href="#mB" x="178.0" y="714.2"/>
<use href="#mB" x="176.2" y="712.2"/>
<use href="#mB" x="178.8" y="710.9"/>
<use href="#mB" x="177.3" y="709.0"/>
<use href="#mB" x="177.8" y="707.4"/>
<use href="#mB" x="178.8" y="706.0"/>
<use href="#mB" x="179.7" y="704.5"/>
<use href="#mB" x="180.0" y="703.0"/>
<use href="#mB" x="180.1" y="701.5"/>
<use href="#mB" x="178.0" y="699.5"/>
<use href="#mB" x="179.7" y="698.3"/>
<use href="#mB" x="179.6" y="696.8"/>
<use href="#mB" x="180.7" y="695.5"/>
<use href="#mB" x="179.8" y="693.8"/>
<use href="#mB" x="182.2" y="693.0"/>
<use href="#mB" x="181.7" y="691.4"/>
<use href="#mB" x="182.6" y="690.2"/>
<use href="#mB" x="182.8" y="688.9"/>
<use href="#mB" x="180.8" y="686.7"/>
<use href="#mB" x="182.4" y="685.8"/>
<use href="#mB" x="182.8" y="684.6"/>
<use href="#mB" x="183.9" y="683.6"/>
<use href="#mB" x="185.5" y="682.8"/>
<use href="#mB" x="184.3" y="680.9"/>
<use href="#mB" x="186.3" y="680.4"/>
<use href="#mB" x="185.9" y="678.9"/>
<use href="#mB" x="185.7" y="677.3"/>
<use href="#mB" x="187.5" y="676.9"/>
<use href="#mB" x="187.6" y="675.6"/>
<use href="#mB" x="188.8" y="674.9"/>
<use href="#mB" x="188.7" y="673.4"/>
<use href="#mB" x="189.1" y="672.2"/>
<use href="#mB" x="190.7" y="671.9"/>
<use href="#mB" x="191.1" y="670.8"/>
<use href="#mB" x="191.7" y="669.8"/>
<use href="#mB" x="192.4" y="668.9"/>
<use href="#mB" x="195.1" y="669.7"/>
<use href="#mB" x="193.4" y="666.8"/>
<use href="#mB" x="195.5" y="667.2"/>
<use href="#mB" x="195.3" y="665.6"/>
<use href="#mB" x="196.3" y="665.0"/>
<use href="#mB" x="197.5" y="664.7"/>
<use href="#mB" x="198.5" y="664.3"/>
<use href="#mB" x="199.1" y="663.4"/>
<use href="#mB" x="199.3" y="662.0"/>
<use href="#mB" x="200.0" y="661.1"/>
<use href="#mB" x="201.2" y="661.1"/>
<use href="#mB" x="202.3" y="660.9"/>
<use href="#mB" x="203.4" y="660.8"/>
<use href="#mB" x="204.1" y="659.9"/>
<use href="#mB" x="204.9" y="659.5"/>
<use href="#mB" x="206.0" y="659.5"/>
<use href="#mB" x="206.6" y="658.4"/>
<use href="#mB" x="206.7" y="656.7"/>
<use href="#mB" x="207.4" y="655.7"/>
<use href="#mB" x="208.3" y="655.3"/>
<use href="#mB" x="209.6" y="656.0"/>
<use href="#mB" x="210.8" y="656.4"/>
<use href="#mB" x="211.3" y="655.2"/>
<use href="#mB" x="212.6" y="656.1"/>
<use href="#mB" x="213.4" y="655.5"/>
<use href="#mB" x="214.5" y="656.1"/>
<use href="#mB" x="215.1" y="655.2"/>
<use href="#mB" x="215.7" y="654.0"/>
<use href="#mB" x="216.5" y="653.5"/>
<use href="#mB" x="217.4" y="653.4"/>
<use href="#mB" x="218.3" y="653.3"/>
<use href="#mB" x="219.1" y="652.9"/>
<use href="#mB" x="219.8" y="652.4"/>
<use href="#mB" x="220.8" y="652.8"/>
<use href="#mB" x="221.8" y="654.1"/>
<use href="#mB" x="222.3" y="651.5"/>
<use href="#mB" x="223.2" y="651.9"/>
<use href="#mB" x="224.1" y="652.1"/>
<use href="#mB" x="224.9" y="651.6"/>
<use href="#mB" x="225.8" y="652.4"/>
<use href="#mB" x="226.6" y="652.9"/>
<use href="#mB" x="227.4" y="652.3"/>
<use href="#mB" x="228.2" y="652.4"/>
<use href="#mB" x="229.0" y="651.9"/>
<use href="#mB" x="229.6" y="650.5"/>
<use href="#mB" x="230.6" y="652.5"/>
<use href="#mB" x="231.3" y="651.5"/>
<use href="#mB" x="232.1" y="651.4"/>
<use href="#mB" x="232.9" y="651.9"/>
<use href="#mB" x="233.6" y="651.5"/>
<use href="#mB" x="234.3" y="649.4"/>
<use href="#mB" x="235.1" y="649.6"/>
<use href="#mB" x="235.9" y="650.8"/>
<use href="#mB" x="236.6" y="651.6"/>
<use href="#mB" x="237.2" y="652.7"/>
<use href="#mB" x="237.9" y="652.5"/>
<use href="#mB" x="238.7" y="652.0"/>
<use href="#mB" x="239.5" y="652.1"/>
<use href="#mB" x="240.4" y="651.2"/>
<use href="#mB" x="241.0" y="652.0"/>
<use href="#mB" x="241.3" y="653.8"/>
<use href="#mB" x="241.9" y="654.3"/>
<use href="#mB" x="242.8" y="653.5"/>
<use href="#mB" x="243.5" y="652.8"/>
<use href="#mB" x="243.3" y="710.1"/>
<use href="#mB" x="243.4" y="718.0"/>
<use href="#mB" x="242.8" y="721.0"/>
<use href="#mB" x="244.5" y="723.9"/>
<use href="#mB" x="244.2" y="726.8"/>
<use href="#mB" x="243.5" y="729.7"/>
<use href="#mB" x="245.3" y="732.3"/>
<use href="#mB" x="245.4" y="735.0"/>
<use href="#mB" x="245.6" y="737.6"/>
<use href="#mB" x="246.8" y="740.1"/>
<use href="#mB" x="245.2" y="742.9"/>
<use href="#mB" x="247.1" y="745.2"/>
<use href="#mB" x="246.6" y="747.8"/>
<use href="#mB" x="246.0" y="750.4"/>
<use href="#mB" x="248.5" y="752.4"/>
<use href="#mB" x="247.7" y="754.9"/>
<use href="#mB" x="248.3" y="757.2"/>
<use href="#mB" x="249.0" y="759.4"/>
<use href="#mB" x="248.7" y="761.7"/>
<use href="#mB" x="249.7" y="763.8"/>
<use href="#mB" x="251.4" y="765.6"/>
<use href="#mB" x="250.2" y="768.1"/>
<use href="#mB" x="252.4" y="769.7"/>
<use href="#mB" x="252.2" y="771.9"/>
<use href="#mB" x="251.1" y="774.4"/>
<use href="#mB" x="252.7" y="776.1"/>
<use href="#mB" x="253.0" y="778.1"/>
<use href="#mB" x="256.3" y="779.0"/>
<use href="#mB" x="253.8" y="782.0"/>
<use href="#mB" x="255.8" y="783.3"/>
<use href="#mB" x="254.7" y="785.8"/>
<use href="#mB" x="256.3" y="787.2"/>
<use href="#mB" x="258.5" y="788.2"/>
<use href="#mB" x="260.4" y="789.2"/>
<use href="#mB" x="259.4" y="791.8"/>
<use href="#mB" x="260.5" y="793.2"/>
<use href="#mB" x="260.2" y="795.4"/>
<use href="#mB" x="261.3" y="796.8"/>
<use href="#mB" x="262.0" y="798.4"/>
<use href="#mB" x="264.2" y="799.0"/>
<use href="#mB" x="264.7" y="800.7"/>
<use href="#mB" x="266.0" y="801.8"/>
<use href="#mB" x="266.9" y="803.2"/>
<use href="#mB" x="266.9" y="805.2"/>
<use href="#mB" x="268.4" y="806.1"/>
<use href="#mB" x="270.3" y="806.7"/>
<use href="#mB" x="271.2" y="808.0"/>
<use href="#mB" x="269.6" y="811.0"/>
<use href="#mB" x="272.0" y="811.2"/>
<use href="#mB" x="272.8" y="812.5"/>
<use href="#mB" x="274.0" y="813.5"/>
<use href="#mB" x="274.5" y="815.0"/>
<use href="#mB" x="275.4" y="816.1"/>
<use href="#mB" x="276.7" y="817.0"/>
<use href="#mB" x="277.8" y="817.9"/>
<use href="#mB" x="279.1" y="818.7"/>
<use href="#mB" x="280.2" y="819.7"/>
<use href="#mB" x="280.3" y="821.4"/>
<use href="#mB" x="281.0" y="822.6"/>
<use href="#mB" x="281.5" y="824.0"/>
<use href="#mB" x="283.4" y="824.2"/>
<use href="#mB" x="284.1" y="825.4"/>
<use href="#mB" x="283.5" y="827.6"/>
<use href="#mB" x="284.1" y="828.9"/>
<use href="#mB" x="286.0" y="828.9"/>
<use href="#mB" x="286.0" y="830.7"/>
<use href="#mB" x="288.0" y="830.6"/>
<use href="#mB" x="288.7" y="831.7"/>
<use href="#mB" x="291.4" y="830.6"/>
<use href="#mB" x="288.9" y="835.2"/>
<use href="#mB" x="291.2" y="834.5"/>
<use href="#mB" x="292.6" y="834.9"/>
<use href="#mB" x="293.5" y="835.7"/>
<use href="#mB" x="294.4" y="836.5"/>
<use href="#mB" x="296.0" y="836.4"/>
<use href="#mB" x="296.2" y="838.1"/>
<use href="#mB" x="296.9" y="839.1"/>
<use href="#mB" x="297.4" y="840.4"/>
<use href="#mB" x="298.9" y="840.4"/>
<use href="#mB" x="299.0" y="842.3"/>
<use href="#mB" x="301.1" y="841.2"/>
<use href="#mB" x="302.3" y="841.5"/>
<use href="#mB" x="303.6" y="841.6"/>
<use href="#mB" x="303.3" y="844.0"/>
<use href="#mB" x="305.0" y="843.5"/>
<use href="#mB" x="305.3" y="845.1"/>
<use href="#mB" x="306.5" y="845.2"/>
<use href="#mB" x="307.9" y="845.2"/>
<use href="#mB" x="308.4" y="846.3"/>
<use href="#mB" x="309.4" y="846.8"/>
<use href="#mB" x="310.0" y="847.8"/>
<use href="#mB" x="310.4" y="849.0"/>
<use href="#mB" x="311.6" y="849.1"/>
<use href="#mB" x="312.9" y="849.1"/>
<use href="#mB" x="313.5" y="850.1"/>
<use href="#mB" x="314.1" y="850.9"/>
<use href="#mB" x="314.7" y="851.9"/>
<use href="#mB" x="314.7" y="853.7"/>
<use href="#mB" x="315.8" y="853.9"/>
<use href="#mB" x="317.3" y="853.4"/>
<use href="#mB" x="318.4" y="853.6"/>
<use href="#mB" x="319.4" y="853.8"/>
<use href="#mB" x="320.4" y="854.0"/>
<use href="#mB" x="321.3" y="854.5"/>
<use href="#mB" x="322.0" y="855.3"/>
<use href="#mB" x="322.6" y="856.0"/>
<use href="#mB" x="323.2" y="856.9"/>
<use href="#mB" x="323.8" y="857.6"/>
<use href="#mB" x="325.0" y="857.6"/>
<use href="#mB" x="325.8" y="858.0"/>
<use href="#mB" x="326.8" y="858.2"/>
<use href="#mB" x="326.4" y="860.6"/>
<use href="#mB" x="327.7" y="860.2"/>
<use href="#mB" x="327.9" y="861.7"/>
<use href="#mB" x="329.0" y="861.6"/>
<use href="#mB" x="329.6" y="862.3"/>
<use href="#mB" x="330.9" y="862.0"/>
<use href="#mB" x="331.7" y="862.2"/>
<use href="#mB" x="331.9" y="863.8"/>
<use href="#mB" x="332.7" y="864.3"/>
<use href="#mB" x="334.6" y="862.4"/>
<use href="#mB" x="334.5" y="864.7"/>
<use href="#mB" x="335.1" y="865.5"/>
<use href="#mB" x="336.2" y="865.0"/>
<use href="#mB" x="337.1" y="865.3"/>
<use href="#mB" x="337.7" y="865.9"/>
<use href="#mB" x="338.6" y="866.1"/>
<use href="#mB" x="339.8" y="865.2"/>
<use href="#mB" x="340.3" y="866.3"/>
<use href="#mB" x="341.4" y="865.8"/>
<use href="#mB" x="342.2" y="865.9"/>
<use href="#mB" x="342.9" y="866.3"/>
<use href="#mB" x="343.7" y="866.7"/>
<use href="#mB" x="344.3" y="867.3"/>
<use href="#mB" x="345.0" y="867.8"/>
<use href="#mB" x="347.2" y="778.3"/>
<use href="#mB" x="347.4" y="761.7"/>
<use href="#mB" x="347.8" y="752.0"/>
<use href="#mB" x="349.2" y="748.6"/>
<use href="#mB" x="349.1" y="745.2"/>
<use href="#mB" x="349.8" y="742.0"/>
<use href="#mB" x="349.7" y="738.8"/>
<use href="#mB" x="349.6" y="735.8"/>
<use href="#mB" x="350.2" y="732.8"/>
<use href="#mB" x="349.3" y="730.0"/>
<use href="#mB" x="348.7" y="727.2"/>
<use href="#mB" x="349.2" y="724.5"/>
<use href="#mB" x="347.2" y="721.8"/>
<use href="#mB" x="348.8" y="719.3"/>
<use href="#mB" x="348.4" y="716.8"/>
<use href="#mB" x="350.2" y="714.5"/>
<use href="#mB" x="350.1" y="712.1"/>
<use href="#mB" x="350.0" y="709.8"/>
<use href="#mB" x="350.4" y="707.6"/>
<use href="#mB" x="350.0" y="705.4"/>
<use href="#mB" x="351.6" y="703.4"/>
<use href="#mB" x="349.3" y="701.1"/>
<use href="#mB" x="351.3" y="699.3"/>
<use href="#mB" x="350.8" y="697.2"/>
<use href="#mB" x="351.2" y="695.3"/>
<use href="#mB" x="350.3" y="693.1"/>
<use href="#mB" x="352.1" y="691.6"/>
<use href="#mB" x="353.4" y="690.0"/>
<use href="#mB" x="353.5" y="688.2"/>
<use href="#mB" x="355.6" y="687.0"/>
<use href="#mB" x="353.9" y="684.7"/>
<use href="#mB" x="355.2" y="683.3"/>
<use href="#mB" x="354.7" y="681.3"/>
<use href="#mB" x="355.9" y="680.0"/>
<use href="#mB" x="355.7" y="678.1"/>
<use href="#mB" x="357.3" y="677.1"/>
<use href="#mB" x="357.5" y="675.3"/>
<use href="#mB" x="359.2" y="674.6"/>
<use href="#mB" x="360.4" y="673.7"/>
<use href="#mB" x="360.9" y="671.9"/>
<use href="#mB" x="362.2" y="671.2"/>
<use href="#mB" x="363.7" y="670.7"/>
<use href="#mB" x="365.1" y="670.4"/>
<use href="#mB" x="365.9" y="668.9"/>
<use href="#mB" x="367.7" y="669.4"/>
<use href="#mB" x="368.5" y="667.9"/>
<use href="#mB" x="370.0" y="667.9"/>
<use href="#mB" x="371.1" y="667.2"/>
<use href="#mB" x="371.8" y="665.4"/>
<use href="#mB" x="373.2" y="665.3"/>
<use href="#mB" x="374.4" y="664.8"/>
<use href="#mB" x="375.7" y="664.7"/>
<use href="#mB" x="377.1" y="665.2"/>
<use href="#mB" x="378.3" y="664.4"/>
<use href="#mB" x="379.6" y="665.2"/>
<use href="#mB" x="380.7" y="665.1"/>
<use href="#mB" x="381.9" y="664.5"/>
<use href="#mB" x="383.1" y="665.8"/>
<use href="#mB" x="384.2" y="665.5"/>
<use href="#mB" x="385.3" y="664.2"/>
<use href="#mB" x="386.5" y="664.6"/>
<use href="#mB" x="387.5" y="663.8"/>
<use href="#mB" x="388.6" y="665.0"/>
<use href="#mB" x="389.7" y="665.1"/>
<use href="#mB" x="390.8" y="664.0"/>
<use href="#mB" x="391.8" y="665.0"/>
<use href="#mB" x="392.9" y="665.2"/>
<use href="#mB" x="393.9" y="664.6"/>
<use href="#mB" x="395.0" y="664.6"/>
<use href="#mB" x="396.0" y="664.1"/>
<use href="#mB" x="397.0" y="664.4"/>
<use href="#mB" x="397.8" y="665.9"/>
<use href="#mB" x="398.7" y="666.5"/>
<use href="#mB" x="399.9" y="665.0"/>
<use href="#mB" x="400.8" y="665.1"/>
<use href="#mB" x="401.8" y="665.3"/>
<use href="#mB" x="402.7" y="665.8"/>
<use href="#mB" x="403.5" y="666.5"/>
<use href="#mB" x="404.4" y="666.4"/>
<use href="#mB" x="405.1" y="668.2"/>
<use href="#mB" x="406.2" y="666.7"/>
<use href="#mB" x="407.0" y="667.6"/>
<use href="#mB" x="407.9" y="667.3"/>
<use href="#mB" x="408.8" y="667.2"/>
<use href="#mB" x="409.8" y="666.7"/>
<use href="#mB" x="410.8" y="666.1"/>
<use href="#mB" x="411.4" y="667.2"/>
<use href="#mB" x="412.3" y="667.4"/>
<use href="#mB" x="413.1" y="667.5"/>
<use href="#mB" x="414.2" y="666.5"/>
<use href="#mB" x="414.9" y="667.3"/>
<use href="#mB" x="415.3" y="668.8"/>
<use href="#mB" x="416.3" y="668.1"/>
<use href="#mB" x="417.1" y="668.3"/>
<use href="#mB" x="417.9" y="668.6"/>
<use href="#mB" x="418.6" y="668.9"/>
<use href="#mB" x="419.3" y="669.3"/>
<use href="#mB" x="419.9" y="670.0"/>
<use href="#mB" x="421.0" y="669.0"/>
<use href="#mB" x="421.8" y="669.1"/>
<use href="#mB" x="422.4" y="669.8"/>
<use href="#mB" x="422.8" y="670.9"/>
<use href="#mB" x="423.5" y="671.0"/>
<use href="#mB" x="424.3" y="670.9"/>
<use href="#mB" x="425.1" y="670.9"/>
<use href="#mB" x="425.9" y="671.0"/>
<use href="#mB" x="426.6" y="671.1"/>
<use href="#mB" x="427.2" y="671.6"/>
<use href="#mB" x="427.7" y="672.4"/>
<use href="#mB" x="428.4" y="672.5"/>
<use href="#mB" x="428.6" y="722.3"/>
<use href="#mB" x="428.8" y="733.0"/>
<use href="#mB" x="429.5" y="736.0"/>
<use href="#mB" x="431.0" y="738.8"/>
<use href="#mB" x="429.8" y="741.8"/>
<use href="#mB" x="431.0" y="744.5"/>
<use href="#mB" x="430.9" y="747.3"/>
<use href="#mB" x="431.3" y="750.0"/>
<use href="#mB" x="430.5" y="752.8"/>
<use href="#mB" x="431.0" y="755.4"/>
<use href="#mB" x="431.9" y="757.9"/>
<use href="#mB" x="431.3" y="760.6"/>
<use href="#mB" x="432.5" y="762.9"/>
<use href="#mB" x="431.9" y="765.6"/>
<use href="#mB" x="432.6" y="767.9"/>
<use href="#mB" x="432.8" y="770.3"/>
<use href="#mB" x="433.6" y="772.6"/>
<use href="#mB" x="435.1" y="774.6"/>
<use href="#mB" x="435.2" y="777.0"/>
<use href="#mB" x="435.0" y="779.4"/>
<use href="#mB" x="438.0" y="780.9"/>
<use href="#mB" x="436.3" y="783.6"/>
<use href="#mB" x="438.1" y="785.3"/>
<use href="#mB" x="437.9" y="787.6"/>
<use href="#mB" x="439.5" y="789.3"/>
<use href="#mB" x="439.3" y="791.6"/>
<use href="#mB" x="440.6" y="793.3"/>
<use href="#mB" x="439.2" y="796.1"/>
<use href="#mB" x="442.3" y="796.9"/>
<use href="#mB" x="443.3" y="798.7"/>
<use href="#mB" x="441.8" y="801.5"/>
<use href="#mB" x="445.4" y="801.9"/>
<use href="#mB" x="443.9" y="804.8"/>
<use href="#mB" x="444.9" y="806.4"/>
<use href="#mB" x="447.2" y="807.3"/>
<use href="#mB" x="448.8" y="808.5"/>
<use href="#mB" x="447.7" y="811.3"/>
<use href="#mB" x="447.9" y="813.3"/>
<use href="#mB" x="450.6" y="813.6"/>
<use href="#mB" x="450.3" y="816.0"/>
<use href="#mB" x="452.0" y="816.9"/>
<use href="#mB" x="453.1" y="818.3"/>
<use href="#mB" x="453.9" y="819.8"/>
<use href="#mB" x="455.5" y="820.7"/>
<use href="#mB" x="456.0" y="822.4"/>
<use href="#mB" x="457.8" y="823.1"/>
<use href="#mB" x="458.7" y="824.4"/>
<use href="#mB" x="459.2" y="826.1"/>
<use href="#mB" x="459.7" y="827.9"/>
<use href="#mB" x="462.6" y="827.4"/>
<use href="#mB" x="462.1" y="830.0"/>
<use href="#mB" x="463.3" y="831.0"/>
<use href="#mB" x="464.7" y="831.7"/>
<use href="#mB" x="466.3" y="832.3"/>
<use href="#mB" x="467.1" y="833.6"/>
<use href="#mB" x="469.1" y="833.6"/>
<use href="#mB" x="469.1" y="835.8"/>
<use href="#mB" x="470.4" y="836.6"/>
<use href="#mB" x="472.1" y="836.8"/>
<use href="#mB" x="473.0" y="837.9"/>
<use href="#mB" x="473.4" y="839.7"/>
<use href="#mB" x="475.6" y="839.3"/>
<use href="#mB" x="475.3" y="841.8"/>
<use href="#mB" x="477.3" y="841.6"/>
<use href="#mB" x="477.2" y="843.8"/>
<use href="#mB" x="479.1" y="843.7"/>
<use href="#mB" x="479.3" y="845.6"/>
<use href="#mB" x="481.4" y="845.1"/>
<use href="#mB" x="481.8" y="846.7"/>
<use href="#mB" x="482.5" y="848.1"/>
<use href="#mB" x="484.4" y="847.6"/>
<use href="#mB" x="484.9" y="849.1"/>
<use href="#mB" x="486.1" y="849.7"/>
<use href="#mB" x="487.6" y="849.8"/>
<use href="#mB" x="488.4" y="850.9"/>
<use href="#mB" x="488.6" y="852.7"/>
<use href="#mB" x="490.2" y="852.5"/>
<use href="#mB" x="490.2" y="854.7"/>
<use href="#mB" x="492.2" y="854.0"/>
<use href="#mB" x="493.6" y="854.2"/>
<use href="#mB" x="494.5" y="855.0"/>
<use href="#mB" x="495.1" y="856.3"/>
<use href="#mB" x="495.6" y="857.6"/>
<use href="#mB" x="497.6" y="856.8"/>
<use href="#mB" x="498.5" y="857.5"/>
<use href="#mB" x="499.2" y="858.6"/>
<use href="#mB" x="500.5" y="858.7"/>
<use href="#mB" x="501.1" y="859.8"/>
<use href="#mB" x="503.0" y="858.9"/>
<use href="#mB" x="503.4" y="860.5"/>
<use href="#mB" x="504.3" y="861.1"/>
<use href="#mB" x="505.1" y="861.9"/>
<use href="#mB" x="506.1" y="862.4"/>
<use href="#mB" x="507.2" y="862.7"/>
<use href="#mB" x="507.8" y="863.8"/>
<use href="#mB" x="509.1" y="863.8"/>
<use href="#mB" x="510.4" y="863.7"/>
<use href="#mB" x="511.3" y="864.2"/>
<use href="#mB" x="511.7" y="865.8"/>
<use href="#mB" x="513.0" y="865.6"/>
<use href="#mB" x="513.5" y="866.7"/>
<use href="#mB" x="514.0" y="868.1"/>
<use href="#mB" x="514.9" y="868.6"/>
<use href="#mB" x="515.5" y="869.6"/>
<use href="#mB" x="517.3" y="868.4"/>
<use href="#mB" x="518.5" y="868.3"/>
<use href="#mB" x="518.5" y="870.5"/>
<use href="#mB" x="519.7" y="870.4"/>
<use href="#mB" x="520.3" y="871.5"/>
<use href="#mB" x="521.6" y="871.0"/>
<use href="#mB" x="522.0" y="872.4"/>
<use href="#mB" x="523.0" y="872.6"/>
<use href="#mB" x="523.9" y="872.9"/>
<use href="#mB" x="524.9" y="873.1"/>
<use href="#mB" x="525.8" y="873.4"/>
<use href="#mB" x="526.7" y="873.7"/>
<use href="#mB" x="527.6" y="874.1"/>
<use href="#mB" x="528.2" y="875.0"/>
<use href="#mB" x="529.4" y="874.6"/>
<use href="#mB" x="529.9" y="875.8"/>
<use href="#mB" x="530.8" y="876.1"/>
<use href="#mB" x="531.8" y="876.1"/>
<use href="#mB" x="532.6" y="876.7"/>
<use href="#mB" x="533.7" y="876.4"/>
<use href="#mB" x="534.4" y="877.0"/>
<use href="#mB" x="534.6" y="878.9"/>
<use href="#mB" x="536.2" y="877.3"/>
<use href="#mB" x="537.4" y="876.8"/>
<use href="#mB" x="538.1" y="877.4"/>
<use href="#mB" x="538.8" y="878.0"/>
<use href="#mB" x="539.1" y="879.6"/>
<use href="#mB" x="539.8" y="880.5"/>
<use href="#mB" x="540.9" y="879.7"/>
<use href="#mB" x="541.6" y="880.4"/>
<use href="#mB" x="542.9" y="879.1"/>
<use href="#mB" x="543.5" y="880.2"/>
<use href="#mB" x="544.2" y="880.9"/>
<use href="#mB" x="544.8" y="881.8"/>
<use href="#mB" x="545.6" y="881.8"/>
<use href="#mB" x="546.9" y="880.5"/>
<use href="#mB" x="547.4" y="881.8"/>
<use href="#mB" x="548.2" y="881.8"/>
<use href="#mB" x="549.2" y="881.2"/>
<use href="#mB" x="550.1" y="881.3"/>
<use href="#mB" x="550.7" y="882.1"/>
<use href="#mB" x="551.6" y="882.0"/>
<use href="#mB" x="552.0" y="882.5"/>
<use href="#mB" x="554.0" y="785.5"/>
<use href="#mB" x="554.2" y="770.0"/>
<use href="#mB" x="554.4" y="760.0"/>
<use href="#mB" x="554.5" y="756.5"/>
<use href="#mB" x="555.8" y="753.1"/>
<use href="#mB" x="554.2" y="749.9"/>
<use href="#mB" x="554.7" y="746.8"/>
<use href="#mB" x="554.3" y="743.7"/>
<use href="#mB" x="553.8" y="740.8"/>
<use href="#mB" x="554.2" y="738.0"/>
<use href="#mB" x="556.3" y="735.3"/>
<use href="#mB" x="555.3" y="732.6"/>
<use href="#mB" x="555.5" y="730.0"/>
<use href="#mB" x="555.7" y="727.5"/>
<use href="#mB" x="555.5" y="725.0"/>
<use href="#mB" x="555.4" y="722.7"/>
<use href="#mB" x="556.8" y="720.4"/>
<use href="#mB" x="556.0" y="718.1"/>
<use href="#mB" x="557.2" y="716.0"/>
<use href="#mB" x="555.9" y="713.7"/>
<use href="#mB" x="556.8" y="711.7"/>
<use href="#mB" x="556.5" y="709.6"/>
<use href="#mB" x="556.7" y="707.6"/>
<use href="#mB" x="558.6" y="705.9"/>
<use href="#mB" x="556.8" y="703.6"/>
<use href="#mB" x="558.3" y="702.0"/>
<use href="#mB" x="558.2" y="700.0"/>
<use href="#mB" x="558.8" y="698.2"/>
<use href="#mB" x="560.6" y="697.0"/>
<use href="#mB" x="561.0" y="695.4"/>
<use href="#mB" x="561.5" y="693.7"/>
<use href="#mB" x="562.7" y="692.4"/>
<use href="#mB" x="563.6" y="691.1"/>
<use href="#mB" x="565.2" y="690.3"/>
<use href="#mB" x="565.3" y="688.4"/>
<use href="#mB" x="566.1" y="687.0"/>
<use href="#mB" x="568.5" y="687.2"/>
<use href="#mB" x="568.1" y="684.5"/>
<use href="#mB" x="569.3" y="683.6"/>
<use href="#mB" x="570.7" y="682.9"/>
<use href="#mB" x="572.0" y="682.2"/>
<use href="#mB" x="573.3" y="681.2"/>
<use href="#mB" x="574.8" y="681.5"/>
<use href="#mB" x="576.3" y="681.5"/>
<use href="#mB" x="577.6" y="681.4"/>
<use href="#mB" x="579.0" y="681.9"/>
<use href="#mB" x="580.2" y="681.0"/>
<use href="#mB" x="581.5" y="680.8"/>
<use href="#mB" x="582.7" y="680.4"/>
<use href="#mB" x="584.1" y="681.7"/>
<use href="#mB" x="585.2" y="679.8"/>
<use href="#mB" x="586.4" y="680.3"/>
<use href="#mB" x="587.7" y="681.0"/>
<use href="#mB" x="588.9" y="681.2"/>
<use href="#mB" x="590.1" y="681.8"/>
<use href="#mB" x="591.2" y="680.3"/>
<use href="#mB" x="592.3" y="680.0"/>
<use href="#mB" x="593.4" y="679.0"/>
<use href="#mB" x="594.5" y="680.4"/>
<use href="#mB" x="595.6" y="680.7"/>
<use href="#mB" x="596.7" y="682.3"/>
<use href="#mB" x="597.8" y="679.7"/>
<use href="#mB" x="598.9" y="678.8"/>
<use href="#mB" x="599.9" y="680.0"/>
<use href="#mB" x="601.0" y="679.9"/>
<use href="#mB" x="602.0" y="679.4"/>
<use href="#mB" x="603.0" y="679.9"/>
<use href="#mB" x="604.0" y="680.6"/>
<use href="#mB" x="605.0" y="680.8"/>
<use href="#mB" x="606.0" y="680.2"/>
<use href="#mB" x="606.9" y="680.6"/>
<use href="#mB" x="607.9" y="681.1"/>
<use href="#mB" x="608.9" y="680.4"/>
<use href="#mB" x="609.8" y="680.3"/>
<use href="#mB" x="610.8" y="679.8"/>
<use href="#mB" x="611.6" y="680.6"/>
<use href="#mB" x="612.5" y="681.8"/>
<use href="#mB" x="613.5" y="679.8"/>
<use href="#mB" x="614.3" y="681.0"/>
<use href="#mB" x="615.2" y="681.9"/>
<use href="#mB" x="616.1" y="681.5"/>
<use href="#mB" x="616.9" y="681.4"/>
<use href="#mB" x="617.8" y="681.3"/>
<use href="#mB" x="618.7" y="680.9"/>
<use href="#mB" x="619.4" y="683.0"/>
<use href="#mB" x="620.2" y="682.8"/>
<use href="#mB" x="621.1" y="682.3"/>
<use href="#mB" x="622.0" y="681.1"/>
<use href="#mB" x="622.9" y="680.4"/>
<use href="#mB" x="623.6" y="681.2"/>
<use href="#mB" x="624.3" y="682.8"/>
<use href="#mB" x="625.0" y="683.6"/>
<use href="#mB" x="625.8" y="683.2"/>
<use href="#mB" x="626.6" y="682.8"/>
<use href="#mB" x="627.3" y="683.5"/>
<use href="#mB" x="628.2" y="682.2"/>
<use href="#mB" x="629.0" y="682.2"/>
<use href="#mB" x="629.7" y="682.5"/>
<use href="#mB" x="630.5" y="682.7"/>
<use href="#mB" x="631.2" y="683.1"/>
<use href="#mB" x="632.0" y="682.3"/>
<use href="#mB" x="632.8" y="682.1"/>
<use href="#mB" x="633.3" y="683.9"/>
<use href="#mB" x="633.9" y="684.3"/>
<use href="#mB" x="634.7" y="683.5"/>
<use href="#mB" x="635.4" y="683.3"/>
<use href="#mB" x="635.8" y="747.7"/>
<use href="#mB" x="636.0" y="756.0"/>
<use href="#mB" x="635.3" y="759.0"/>
<use href="#mB" x="634.3" y="762.0"/>
<use href="#mB" x="636.4" y="764.8"/>
<use href="#mB" x="636.5" y="767.6"/>
<use href="#mB" x="636.2" y="770.5"/>
<use href="#mB" x="636.1" y="773.2"/>
<use href="#mB" x="635.7" y="775.9"/>
<use href="#mB" x="636.6" y="778.5"/>
<use href="#mB" x="638.5" y="781.0"/>
<use href="#mB" x="636.2" y="783.7"/>
<use href="#mB" x="637.6" y="786.1"/>
<use href="#mB" x="638.9" y="788.4"/>
<use href="#mB" x="640.0" y="790.6"/>
<use href="#mB" x="639.1" y="793.2"/>
<use href="#mB" x="640.6" y="795.2"/>
<use href="#mB" x="641.1" y="797.5"/>
<use href="#mB" x="640.3" y="800.0"/>
<use href="#mB" x="640.9" y="802.2"/>
<use href="#mB" x="642.1" y="804.2"/>
<use href="#mB" x="641.4" y="806.7"/>
<use href="#mB" x="641.7" y="809.0"/>
<use href="#mB" x="644.1" y="810.3"/>
<use href="#mB" x="644.3" y="812.6"/>
<use href="#mB" x="647.5" y="813.0"/>
<use href="#mB" x="646.9" y="815.8"/>
<use href="#mB" x="648.9" y="816.9"/>
<use href="#mB" x="648.9" y="819.2"/>
<use href="#mB" x="650.5" y="820.5"/>
<use href="#mB" x="651.6" y="822.1"/>
<use href="#mB" x="652.7" y="823.7"/>
<use href="#mB" x="654.3" y="824.9"/>
<use href="#mB" x="655.8" y="826.2"/>
<use href="#mB" x="654.8" y="829.0"/>
<use href="#mB" x="657.0" y="829.7"/>
<use href="#mB" x="657.6" y="831.5"/>
<use href="#mB" x="658.2" y="833.3"/>
<use href="#mB" x="659.0" y="834.9"/>
<use href="#mB" x="660.9" y="835.6"/>
<use href="#mB" x="662.4" y="836.5"/>
<use href="#mB" x="663.0" y="838.3"/>
<use href="#mB" x="663.6" y="840.0"/>
<use href="#mB" x="665.9" y="840.1"/>
<use href="#mB" x="666.5" y="841.8"/>
<use href="#mB" x="667.3" y="843.3"/>
<use href="#mB" x="667.5" y="845.3"/>
<use href="#mB" x="669.7" y="845.4"/>
<use href="#mB" x="670.8" y="846.6"/>
<use href="#mB" x="671.4" y="848.1"/>
<use href="#mB" x="672.9" y="848.8"/>
<use href="#mB" x="673.0" y="850.9"/>
<use href="#mB" x="675.2" y="850.9"/>
<use href="#mB" x="675.2" y="852.9"/>
<use href="#mB" x="677.2" y="853.0"/>
<use href="#mB" x="678.6" y="853.7"/>
<use href="#mB" x="679.4" y="855.0"/>
<use href="#mB" x="679.5" y="856.9"/>
<use href="#mB" x="681.7" y="856.6"/>
<use href="#mB" x="681.9" y="858.5"/>
<use href="#mB" x="683.0" y="859.4"/>
<use href="#mB" x="683.7" y="860.7"/>
<use href="#mB" x="685.1" y="861.3"/>
<use href="#mB" x="686.0" y="862.3"/>
<use href="#mB" x="686.6" y="863.6"/>
<use href="#mB" x="689.7" y="862.1"/>
<use href="#mB" x="689.0" y="864.9"/>
<use href="#mB" x="690.7" y="864.9"/>
<use href="#mB" x="692.1" y="865.2"/>
<use href="#mB" x="693.5" y="865.6"/>
<use href="#mB" x="693.9" y="867.2"/>
<use href="#mB" x="694.4" y="868.5"/>
<use href="#mB" x="696.4" y="868.0"/>
<use href="#mB" x="695.9" y="870.8"/>
<use href="#mB" x="697.5" y="870.7"/>
<use href="#mB" x="698.9" y="870.9"/>
<use href="#mB" x="699.9" y="871.5"/>
<use href="#mB" x="701.1" y="872.1"/>
<use href="#mB" x="701.6" y="873.3"/>
<use href="#mB" x="702.4" y="874.2"/>
<use href="#mB" x="704.0" y="874.1"/>
<use href="#mB" x="704.5" y="875.4"/>
<use href="#mB" x="705.7" y="875.8"/>
<use href="#mB" x="705.8" y="877.5"/>
<use href="#mB" x="706.2" y="878.9"/>
<use href="#mB" x="707.9" y="878.5"/>
<use href="#mB" x="709.6" y="878.1"/>
<use href="#mB" x="710.6" y="878.6"/>
<use href="#mB" x="711.7" y="879.0"/>
<use href="#mB" x="711.2" y="881.6"/>
<use href="#mB" x="712.9" y="881.1"/>
<use href="#mB" x="713.4" y="882.2"/>
<use href="#mB" x="714.5" y="882.6"/>
<use href="#mB" x="714.8" y="884.0"/>
<use href="#mB" x="715.7" y="884.6"/>
<use href="#mB" x="717.2" y="884.3"/>
<use href="#mB" x="718.1" y="884.8"/>
<use href="#mB" x="718.6" y="886.0"/>
<use href="#mB" x="719.7" y="886.2"/>
<use href="#mB" x="721.0" y="886.1"/>
<use href="#mB" x="721.9" y="886.4"/>
<use href="#mB" x="722.9" y="886.9"/>
<use href="#mB" x="723.1" y="888.5"/>
<use href="#mB" x="722.9" y="890.7"/>
<use href="#mB" x="724.6" y="889.7"/>
<use href="#mB" x="725.4" y="890.3"/>
<use href="#mB" x="726.2" y="891.0"/>
<use href="#mB" x="727.6" y="890.5"/>
<use href="#mB" x="728.4" y="891.0"/>
<use href="#mB" x="729.1" y="891.7"/>
<use href="#mB" x="730.1" y="892.0"/>
<use href="#mB" x="730.5" y="893.3"/>
<use href="#mB" x="731.4" y="893.5"/>
<use href="#mB" x="732.9" y="892.7"/>
<use href="#mB" x="733.1" y="894.4"/>
<use href="#mB" x="734.0" y="894.6"/>
<use href="#mB" x="735.1" y="894.5"/>
<use href="#mB" x="735.6" y="895.5"/>
<use href="#mB" x="736.1" y="896.5"/>
<use href="#mB" x="737.2" y="896.4"/>
<use href="#mB" x="738.0" y="896.9"/>
<use href="#mB" x="738.7" y="897.5"/>
<use href="#mB" x="740.1" y="896.5"/>
<use href="#mB" x="740.7" y="897.4"/>
<use href="#mB" x="740.6" y="899.7"/>
<use href="#mB" x="741.4" y="900.3"/>
<use href="#mB" x="742.6" y="899.7"/>
<use href="#mB" x="743.4" y="900.0"/>
<use href="#mB" x="744.9" y="898.5"/>
<use href="#mB" x="745.6" y="899.3"/>
<use href="#mB" x="746.3" y="899.6"/>
<use href="#mB" x="747.2" y="899.7"/>
<use href="#mB" x="747.8" y="900.5"/>
<use href="#mB" x="748.2" y="901.8"/>
<use href="#mB" x="749.5" y="900.8"/>
<use href="#mB" x="750.1" y="901.4"/>
<use href="#mB" x="751.2" y="900.9"/>
<use href="#mB" x="752.0" y="901.1"/>
<use href="#mB" x="752.3" y="902.5"/>
<use href="#mB" x="753.0" y="903.0"/>
<use href="#mB" x="754.0" y="902.7"/>
<use href="#mB" x="754.3" y="903.4"/>
</g>
<rect x="125.8" y="583.7" width="647.0" height="481.8" fill="none" stroke="#000" stroke-width="3.0" stroke-linejoin="miter"/>
<path d="M125.8 1065.5V1075.0M204.9 1065.5V1070.5M284.0 1065.5V1075.0M363.1 1065.5V1070.5M442.2 1065.5V1075.0M521.2 1065.5V1070.5M600.3 1065.5V1075.0M679.4 1065.5V1070.5M758.5 1065.5V1075.0M125.8 1048.6H116.3M125.8 982.1H120.8M125.8 915.5H116.3M125.8 849.0H120.8M125.8 782.5H116.3M125.8 715.9H120.8M125.8 649.4H116.3" stroke="#000" stroke-width="3.0" fill="none"/>
<text x="110.2" y="1061.1" font-size="37.3" font-weight="bold" text-anchor="end" >0.28</text>
<text x="110.2" y="928.0" font-size="37.3" font-weight="bold" text-anchor="end" >0.32</text>
<text x="110.2" y="795.0" font-size="37.3" font-weight="bold" text-anchor="end" >0.36</text>
<text x="110.2" y="661.9" font-size="37.3" font-weight="bold" text-anchor="end" >0.40</text>
<text x="125.8" y="1111.2" font-size="37.3" font-weight="bold" text-anchor="middle" >0</text>
<text x="284.0" y="1111.2" font-size="37.3" font-weight="bold" text-anchor="middle" >20</text>
<text x="442.2" y="1111.2" font-size="37.3" font-weight="bold" text-anchor="middle" >40</text>
<text x="600.3" y="1111.2" font-size="37.3" font-weight="bold" text-anchor="middle" >60</text>
<text x="758.5" y="1111.2" font-size="37.3" font-weight="bold" text-anchor="middle" >80</text>
<text x="363.0" y="1151.2" font-size="42.2" font-weight="bold" text-anchor="start" >Time (min)</text>
<text x="28.3" y="847.0" font-size="41.8" font-weight="bold" text-anchor="middle" transform="rotate(-90 28.3 847)">Current (µA)</text>
<path d="M304.7 1020H336.2M356.6 1020H388" stroke="#008000" stroke-width="4.6"/>
<use href="#mB" x="346.4" y="1020"/>
<text x="398.7" y="1032.3" font-size="37.8" font-weight="normal" text-anchor="start" stroke="#000" stroke-width="0.35" >Single-nanowire device</text>
<text x="700.2" y="674.7" font-size="61" font-weight="normal" text-anchor="start" stroke="#000" stroke-width="0.5" >(b)</text>
<text x="256.3" y="619.2" font-size="37.8" font-weight="normal" text-anchor="start" stroke="#000" stroke-width="0.35" letter-spacing="2.0">off</text>
<path d="M245.0 600.7V630.6" stroke="#000" stroke-width="2.6"/><path d="M237.8 629.6L252.2 629.6L245.0 644.0Z" fill="#000"/>
<text x="442.2" y="623.4" font-size="37.8" font-weight="normal" text-anchor="start" stroke="#000" stroke-width="0.35" letter-spacing="2.0">off</text>
<path d="M431.6 616.1V646.7" stroke="#000" stroke-width="2.6"/><path d="M424.4 645.7L438.8 645.7L431.6 659.5Z" fill="#000"/>
<text x="631.5" y="623.4" font-size="37.8" font-weight="normal" text-anchor="start" stroke="#000" stroke-width="0.35" letter-spacing="2.0">off</text>
<path d="M640.0 632.7V662.6" stroke="#000" stroke-width="2.6"/><path d="M632.8 661.6L647.2 661.6L640.0 676.0Z" fill="#000"/>
<path d="M176.3 1029.2L194.6 1010.3" stroke="#000" stroke-width="2.6"/><path d="M199.0 1016.1L188.7 1006.1L203.6 1001.0Z" fill="#000"/>
<text x="208.5" y="1007.5" font-size="37.8" font-weight="normal" text-anchor="start" stroke="#000" stroke-width="0.35" >on</text>
<path d="M346.5 924.3V894.3" stroke="#000" stroke-width="2.6"/><path d="M339.3 895.3L353.7 895.3L346.5 881.3Z" fill="#000"/>
<text x="325.8" y="948.7" font-size="37.8" font-weight="normal" text-anchor="start" stroke="#000" stroke-width="0.35" >on</text>
<path d="M553.0 942.9V912.8" stroke="#000" stroke-width="2.6"/><path d="M545.8 913.8L560.2 913.8L553.0 899.9Z" fill="#000"/>
<text x="535.8" y="971.9" font-size="37.8" font-weight="normal" text-anchor="start" stroke="#000" stroke-width="0.35" >on</text>
<g clip-path="url(#cc)">
<use href="#mC" x="984.8" y="56.8"/>
<use href="#mC" x="985.3" y="155.9"/>
<use href="#mC" x="985.8" y="180.9"/>
<use href="#mC" x="987.0" y="198.1"/>
<use href="#mC" x="988.0" y="210.2"/>
<use href="#mC" x="987.5" y="217.0"/>
<use href="#mC" x="988.1" y="226.7"/>
<use href="#mC" x="989.0" y="234.7"/>
<use href="#mC" x="989.0" y="241.5"/>
<use href="#mC" x="989.0" y="247.4"/>
<use href="#mC" x="989.2" y="252.5"/>
<use href="#mC" x="989.9" y="257.1"/>
<use href="#mC" x="990.9" y="261.3"/>
<use href="#mC" x="991.2" y="265.2"/>
<use href="#mC" x="991.6" y="268.8"/>
<use href="#mC" x="991.7" y="272.3"/>
<use href="#mC" x="992.0" y="275.5"/>
<use href="#mC" x="992.2" y="278.7"/>
<use href="#mC" x="992.8" y="281.6"/>
<use href="#mC" x="993.4" y="284.5"/>
<use href="#mC" x="993.4" y="287.3"/>
<use href="#mC" x="994.3" y="289.9"/>
<use href="#mC" x="994.6" y="292.5"/>
<use href="#mC" x="995.6" y="294.9"/>
<use href="#mC" x="996.0" y="297.3"/>
<use href="#mC" x="996.7" y="299.6"/>
<use href="#mC" x="997.1" y="301.9"/>
<use href="#mC" x="997.7" y="304.1"/>
<use href="#mC" x="998.7" y="306.1"/>
<use href="#mC" x="999.4" y="308.1"/>
<use href="#mC" x="999.0" y="310.3"/>
<use href="#mC" x="998.2" y="312.6"/>
<use href="#mC" x="998.0" y="314.6"/>
<use href="#mC" x="998.5" y="316.5"/>
<use href="#mC" x="999.9" y="318.1"/>
<use href="#mC" x="1000.6" y="319.8"/>
<use href="#mC" x="1001.4" y="321.4"/>
<use href="#mC" x="1002.1" y="323.0"/>
<use href="#mC" x="1002.9" y="324.5"/>
<use href="#mC" x="1003.4" y="326.1"/>
<use href="#mC" x="1003.5" y="327.7"/>
<use href="#mC" x="1004.0" y="329.2"/>
<use href="#mC" x="1004.4" y="330.7"/>
<use href="#mC" x="1004.8" y="332.1"/>
<use href="#mC" x="1004.3" y="333.8"/>
<use href="#mC" x="1004.9" y="335.1"/>
<use href="#mC" x="1005.3" y="336.4"/>
<use href="#mC" x="1006.2" y="337.6"/>
<use href="#mC" x="1006.7" y="338.8"/>
<use href="#mC" x="1007.3" y="340.0"/>
<use href="#mC" x="1008.1" y="341.0"/>
<use href="#mC" x="1008.0" y="342.4"/>
<use href="#mC" x="1007.7" y="343.4"/>
<use href="#mC" x="1008.1" y="347.1"/>
<use href="#mC" x="1010.7" y="349.6"/>
<use href="#mC" x="1012.6" y="352.2"/>
<use href="#mC" x="1014.8" y="354.3"/>
<use href="#mC" x="1015.1" y="357.3"/>
<use href="#mC" x="1016.5" y="359.6"/>
<use href="#mC" x="1017.8" y="361.8"/>
<use href="#mC" x="1018.8" y="364.0"/>
<use href="#mC" x="1019.8" y="366.2"/>
<use href="#mC" x="1021.5" y="367.8"/>
<use href="#mC" x="1022.5" y="369.7"/>
<use href="#mC" x="1023.4" y="371.7"/>
<use href="#mC" x="1024.5" y="373.6"/>
<use href="#mC" x="1026.1" y="374.9"/>
<use href="#mC" x="1028.2" y="375.5"/>
<use href="#mC" x="1028.7" y="377.6"/>
<use href="#mC" x="1030.6" y="378.5"/>
<use href="#mC" x="1031.9" y="379.7"/>
<use href="#mC" x="1033.9" y="380.1"/>
<use href="#mC" x="1035.4" y="381.0"/>
<use href="#mC" x="1036.3" y="382.6"/>
<use href="#mC" x="1037.4" y="384.0"/>
<use href="#mC" x="1038.4" y="385.4"/>
<use href="#mC" x="1040.0" y="386.0"/>
<use href="#mC" x="1042.8" y="384.9"/>
<use href="#mC" x="1044.1" y="385.9"/>
<use href="#mC" x="1045.9" y="386.0"/>
<use href="#mC" x="1045.7" y="389.1"/>
<use href="#mC" x="1046.7" y="390.5"/>
<use href="#mC" x="1047.2" y="392.6"/>
<use href="#mC" x="1048.8" y="393.0"/>
<use href="#mC" x="1050.6" y="393.1"/>
<use href="#mC" x="1052.0" y="393.7"/>
<use href="#mC" x="1053.4" y="394.3"/>
<use href="#mC" x="1054.8" y="394.9"/>
<use href="#mC" x="1056.4" y="395.1"/>
<use href="#mC" x="1057.2" y="396.9"/>
<use href="#mC" x="1058.3" y="397.9"/>
<use href="#mC" x="1059.0" y="399.7"/>
<use href="#mC" x="1060.8" y="399.5"/>
<use href="#mC" x="1062.1" y="400.3"/>
<use href="#mC" x="1063.8" y="400.3"/>
<use href="#mC" x="1064.9" y="401.3"/>
<use href="#mC" x="1066.0" y="402.4"/>
<use href="#mC" x="1067.2" y="403.3"/>
<use href="#mC" x="1068.8" y="403.2"/>
<use href="#mC" x="1070.6" y="402.9"/>
<use href="#mC" x="1071.5" y="404.3"/>
<use href="#mC" x="1072.7" y="405.1"/>
<use href="#mC" x="1073.9" y="406.0"/>
<use href="#mC" x="1075.3" y="406.5"/>
<use href="#mC" x="1076.3" y="407.9"/>
<use href="#mC" x="1077.4" y="408.9"/>
<use href="#mC" x="1079.2" y="408.3"/>
<use href="#mC" x="1080.2" y="409.6"/>
<use href="#mC" x="1081.6" y="410.1"/>
<use href="#mC" x="1082.7" y="411.2"/>
<use href="#mC" x="1084.6" y="410.1"/>
<use href="#mC" x="1086.4" y="409.5"/>
<use href="#mC" x="1088.1" y="408.8"/>
<use href="#mC" x="1089.3" y="409.7"/>
<use href="#mC" x="1090.2" y="411.3"/>
<use href="#mC" x="1091.3" y="412.5"/>
<use href="#mC" x="1092.9" y="411.9"/>
<use href="#mC" x="1094.7" y="411.2"/>
<use href="#mC" x="1096.0" y="411.6"/>
<use href="#mC" x="1097.4" y="411.9"/>
<use href="#mC" x="1098.2" y="413.8"/>
<use href="#mC" x="1099.2" y="415.2"/>
<use href="#mC" x="1099.6" y="418.4"/>
<use href="#mC" x="1101.0" y="418.8"/>
<use href="#mC" x="1102.7" y="418.1"/>
<use href="#mC" x="1104.7" y="416.2"/>
<use href="#mC" x="1106.9" y="413.8"/>
<use href="#mC" x="1108.2" y="414.2"/>
<use href="#mC" x="1109.4" y="415.0"/>
<use href="#mC" x="1109.9" y="418.3"/>
<use href="#mC" x="1111.0" y="419.4"/>
<use href="#mC" x="1112.1" y="420.3"/>
<use href="#mC" x="1113.6" y="420.2"/>
<use href="#mC" x="1114.9" y="420.6"/>
<use href="#mC" x="1116.1" y="421.5"/>
<use href="#mC" x="1117.6" y="421.1"/>
<use href="#mC" x="1119.2" y="420.7"/>
<use href="#mC" x="1121.0" y="419.2"/>
<use href="#mC" x="1121.8" y="421.3"/>
<use href="#mC" x="1122.8" y="422.8"/>
<use href="#mC" x="1123.8" y="424.5"/>
<use href="#mC" x="1125.6" y="423.0"/>
<use href="#mC" x="1127.1" y="422.6"/>
<use href="#mC" x="1128.6" y="422.3"/>
<use href="#mC" x="1129.7" y="423.5"/>
<use href="#mC" x="1131.1" y="423.5"/>
<use href="#mC" x="1132.3" y="424.3"/>
<use href="#mC" x="1133.7" y="424.3"/>
<use href="#mC" x="1134.8" y="425.3"/>
<use href="#mC" x="1136.2" y="425.5"/>
<use href="#mC" x="1137.5" y="425.8"/>
<use href="#mC" x="1139.0" y="425.5"/>
<use href="#mC" x="1140.4" y="425.3"/>
<use href="#mC" x="1141.6" y="426.3"/>
<use href="#mC" x="1142.9" y="426.5"/>
<use href="#mC" x="1144.1" y="427.3"/>
<use href="#mC" x="1145.6" y="426.8"/>
<use href="#mC" x="1147.1" y="426.2"/>
<use href="#mC" x="1148.3" y="426.9"/>
<use href="#mC" x="1149.7" y="426.7"/>
<use href="#mC" x="1150.8" y="428.4"/>
<use href="#mC" x="1152.2" y="428.3"/>
<use href="#mC" x="1153.6" y="428.2"/>
<use href="#mC" x="1155.1" y="427.4"/>
<use href="#mC" x="1156.5" y="427.0"/>
<use href="#mC" x="1157.7" y="427.8"/>
<use href="#mC" x="1159.1" y="427.9"/>
<use href="#mC" x="1160.2" y="429.0"/>
<use href="#mC" x="1161.5" y="429.6"/>
<use href="#mC" x="1162.6" y="430.8"/>
<use href="#mC" x="1164.1" y="430.3"/>
<use href="#mC" x="1165.3" y="430.9"/>
<use href="#mC" x="1166.8" y="430.4"/>
<use href="#mC" x="1168.1" y="430.8"/>
<use href="#mC" x="1169.4" y="431.2"/>
<use href="#mC" x="1170.6" y="432.0"/>
<use href="#mC" x="1172.0" y="431.9"/>
<use href="#mC" x="1173.5" y="431.0"/>
<use href="#mC" x="1174.8" y="431.3"/>
<use href="#mC" x="1176.0" y="432.0"/>
<use href="#mC" x="1177.2" y="432.8"/>
<use href="#mC" x="1178.7" y="432.4"/>
<use href="#mC" x="1180.0" y="432.7"/>
<use href="#mC" x="1181.0" y="434.7"/>
<use href="#mC" x="1182.3" y="435.2"/>
<use href="#mC" x="1183.6" y="435.2"/>
<use href="#mC" x="1185.2" y="434.0"/>
<use href="#mC" x="1186.7" y="432.7"/>
<use href="#mC" x="1188.0" y="432.8"/>
<use href="#mC" x="1189.4" y="432.2"/>
<use href="#mC" x="1190.4" y="435.0"/>
<use href="#mC" x="1191.8" y="434.9"/>
<use href="#mC" x="1193.1" y="435.1"/>
<use href="#mC" x="1194.5" y="434.2"/>
<use href="#mC" x="1195.8" y="434.6"/>
<use href="#mC" x="1197.1" y="434.9"/>
<use href="#mC" x="1198.4" y="435.2"/>
<use href="#mC" x="1199.9" y="434.3"/>
<use href="#mC" x="1201.2" y="434.7"/>
<use href="#mC" x="1202.4" y="435.4"/>
<use href="#mC" x="1203.5" y="437.8"/>
<use href="#mC" x="1204.7" y="438.5"/>
<use href="#mC" x="1206.1" y="438.4"/>
<use href="#mC" x="1207.5" y="438.0"/>
<use href="#mC" x="1208.8" y="438.3"/>
<use href="#mC" x="1210.0" y="439.4"/>
<use href="#mC" x="1211.3" y="439.5"/>
<use href="#mC" x="1212.7" y="438.9"/>
<use href="#mC" x="1214.2" y="438.1"/>
<use href="#mC" x="1215.6" y="437.6"/>
<use href="#mC" x="1216.8" y="438.0"/>
<use href="#mC" x="1218.2" y="438.1"/>
<use href="#mC" x="1219.6" y="437.6"/>
<use href="#mC" x="1221.0" y="436.1"/>
<use href="#mC" x="1222.4" y="435.7"/>
<use href="#mC" x="1223.8" y="435.0"/>
<use href="#mC" x="1225.0" y="436.6"/>
<use href="#mC" x="1226.3" y="437.1"/>
<use href="#mC" x="1227.6" y="437.5"/>
<use href="#mC" x="1228.8" y="438.0"/>
<use href="#mC" x="1230.1" y="438.7"/>
<use href="#mC" x="1231.3" y="440.0"/>
<use href="#mC" x="1232.6" y="440.8"/>
<use href="#mC" x="1233.9" y="441.5"/>
<use href="#mC" x="1235.3" y="440.8"/>
<use href="#mC" x="1236.6" y="440.5"/>
<use href="#mC" x="1238.0" y="439.6"/>
<use href="#mC" x="1239.3" y="440.8"/>
<use href="#mC" x="1240.6" y="440.9"/>
<use href="#mC" x="1242.0" y="440.2"/>
<use href="#mC" x="1243.3" y="439.6"/>
<use href="#mC" x="1244.7" y="438.6"/>
<use href="#mC" x="1246.1" y="438.6"/>
<use href="#mC" x="1247.4" y="439.1"/>
<use href="#mC" x="1248.7" y="438.7"/>
<use href="#mC" x="1250.0" y="438.7"/>
<use href="#mC" x="1251.3" y="439.2"/>
<use href="#mC" x="1252.6" y="440.2"/>
<use href="#mC" x="1253.8" y="441.3"/>
<use href="#mC" x="1255.3" y="439.7"/>
<use href="#mC" x="1256.6" y="439.3"/>
<use href="#mC" x="1258.0" y="438.8"/>
<use href="#mC" x="1259.2" y="440.2"/>
<use href="#mC" x="1260.5" y="440.4"/>
<use href="#mC" x="1261.8" y="441.4"/>
<use href="#mC" x="1263.1" y="441.5"/>
<use href="#mC" x="1264.4" y="442.0"/>
<use href="#mC" x="1265.8" y="441.4"/>
<use href="#mC" x="1267.1" y="442.0"/>
<use href="#mC" x="1268.4" y="441.8"/>
<use href="#mC" x="1269.7" y="442.6"/>
<use href="#mC" x="1271.0" y="442.5"/>
<use href="#mC" x="1272.3" y="443.0"/>
<use href="#mC" x="1273.7" y="442.4"/>
<use href="#mC" x="1275.0" y="442.5"/>
<use href="#mC" x="1276.3" y="443.1"/>
<use href="#mC" x="1277.6" y="443.8"/>
<use href="#mC" x="1278.9" y="443.8"/>
<use href="#mC" x="1280.2" y="443.7"/>
<use href="#mC" x="1281.6" y="443.3"/>
<use href="#mC" x="1282.9" y="443.9"/>
<use href="#mC" x="1284.2" y="443.4"/>
<use href="#mC" x="1285.6" y="442.0"/>
<use href="#mC" x="1286.9" y="442.1"/>
<use href="#mC" x="1288.3" y="442.3"/>
<use href="#mC" x="1289.5" y="442.9"/>
<use href="#mC" x="1290.9" y="442.0"/>
<use href="#mC" x="1292.3" y="441.4"/>
<use href="#mC" x="1293.5" y="443.6"/>
<use href="#mC" x="1294.8" y="444.2"/>
<use href="#mC" x="1296.1" y="443.8"/>
<use href="#mC" x="1297.5" y="442.8"/>
<use href="#mC" x="1298.8" y="442.2"/>
<use href="#mC" x="1300.1" y="444.6"/>
<use href="#mC" x="1301.4" y="443.6"/>
<use href="#mC" x="1302.8" y="442.4"/>
<use href="#mC" x="1304.2" y="441.3"/>
<use href="#mC" x="1305.5" y="441.8"/>
<use href="#mC" x="1306.7" y="443.1"/>
<use href="#mC" x="1308.1" y="441.6"/>
<use href="#mC" x="1309.4" y="442.2"/>
<use href="#mC" x="1310.7" y="443.7"/>
<use href="#mC" x="1312.0" y="443.9"/>
<use href="#mC" x="1313.3" y="444.4"/>
<use href="#mC" x="1314.7" y="443.0"/>
<use href="#mC" x="1315.9" y="445.9"/>
<use href="#mC" x="1317.2" y="445.4"/>
<use href="#mC" x="1318.5" y="445.7"/>
<use href="#mC" x="1319.9" y="444.9"/>
<use href="#mC" x="1321.2" y="445.0"/>
<use href="#mC" x="1322.6" y="444.8"/>
<use href="#mC" x="1323.9" y="444.6"/>
<use href="#mC" x="1325.2" y="444.0"/>
<use href="#mC" x="1326.6" y="443.2"/>
<use href="#mC" x="1327.9" y="444.1"/>
<use href="#mC" x="1329.2" y="444.3"/>
<use href="#mC" x="1330.5" y="445.1"/>
<use href="#mC" x="1331.8" y="444.0"/>
<use href="#mC" x="1333.2" y="443.3"/>
<use href="#mC" x="1334.5" y="442.8"/>
<use href="#mC" x="1335.9" y="442.3"/>
<use href="#mC" x="1337.2" y="443.0"/>
<use href="#mC" x="1338.4" y="444.0"/>
<use href="#mC" x="1339.7" y="445.1"/>
<use href="#mC" x="1341.1" y="445.2"/>
<use href="#mC" x="1342.4" y="445.5"/>
<use href="#mC" x="1343.7" y="445.2"/>
<use href="#mC" x="1345.0" y="444.8"/>
<use href="#mC" x="1346.4" y="444.7"/>
<use href="#mC" x="1347.7" y="443.7"/>
<use href="#mC" x="1349.0" y="445.2"/>
<use href="#mC" x="1350.3" y="445.4"/>
<use href="#mC" x="1351.6" y="446.0"/>
<use href="#mC" x="1353.0" y="444.5"/>
<use href="#mC" x="1354.3" y="444.3"/>
<use href="#mC" x="1355.6" y="443.8"/>
<use href="#mC" x="1356.9" y="445.2"/>
<use href="#mC" x="1358.2" y="445.1"/>
<use href="#mC" x="1359.6" y="445.1"/>
<use href="#mC" x="1360.9" y="445.2"/>
<use href="#mC" x="1362.2" y="445.8"/>
<use href="#mC" x="1363.5" y="446.0"/>
<use href="#mC" x="1364.8" y="446.2"/>
<use href="#mC" x="1366.2" y="445.6"/>
<use href="#mC" x="1367.5" y="445.8"/>
<use href="#mC" x="1368.8" y="445.1"/>
<use href="#mC" x="1370.1" y="444.8"/>
<use href="#mC" x="1371.5" y="444.8"/>
<use href="#mC" x="1372.8" y="444.6"/>
<use href="#mC" x="1374.1" y="446.2"/>
<use href="#mC" x="1375.4" y="447.5"/>
<use href="#mC" x="1376.7" y="447.4"/>
<use href="#mC" x="1378.0" y="447.5"/>
<use href="#mC" x="1379.4" y="446.5"/>
<use href="#mC" x="1380.7" y="447.0"/>
<use href="#mC" x="1382.0" y="446.5"/>
<use href="#mC" x="1383.3" y="446.8"/>
<use href="#mC" x="1384.6" y="448.2"/>
<use href="#mC" x="1385.9" y="447.7"/>
<use href="#mC" x="1387.3" y="446.8"/>
<use href="#mC" x="1388.6" y="446.1"/>
<use href="#mC" x="1390.0" y="445.7"/>
<use href="#mC" x="1391.3" y="446.3"/>
<use href="#mC" x="1392.6" y="443.4"/>
<use href="#mC" x="1393.9" y="444.4"/>
<use href="#mC" x="1395.2" y="445.2"/>
<use href="#mC" x="1396.5" y="447.7"/>
<use href="#mC" x="1397.8" y="447.7"/>
<use href="#mC" x="1399.2" y="448.3"/>
<use href="#mC" x="1400.5" y="447.8"/>
<use href="#mC" x="1401.8" y="447.8"/>
<use href="#mC" x="1403.2" y="446.2"/>
<use href="#mC" x="1404.5" y="446.0"/>
<use href="#mC" x="1405.8" y="446.1"/>
<use href="#mC" x="1407.1" y="446.9"/>
<use href="#mC" x="1408.4" y="446.2"/>
<use href="#mC" x="1409.8" y="445.8"/>
<use href="#mC" x="1411.1" y="445.4"/>
<use href="#mC" x="1412.4" y="445.8"/>
<use href="#mC" x="1413.7" y="445.9"/>
<use href="#mC" x="1415.1" y="445.7"/>
<use href="#mC" x="1416.4" y="445.2"/>
<use href="#mC" x="1417.7" y="444.2"/>
<use href="#mC" x="1419.0" y="445.7"/>
<use href="#mC" x="1420.3" y="445.8"/>
<use href="#mC" x="1421.6" y="446.7"/>
<use href="#mC" x="1423.0" y="445.9"/>
<use href="#mC" x="1424.3" y="447.4"/>
<use href="#mC" x="1425.6" y="446.4"/>
<use href="#mC" x="1426.9" y="445.8"/>
<use href="#mC" x="1428.3" y="445.5"/>
<use href="#mC" x="1429.6" y="446.9"/>
<use href="#mC" x="1430.9" y="446.7"/>
<use href="#mC" x="1432.2" y="445.8"/>
<use href="#mC" x="1433.5" y="446.0"/>
<use href="#mC" x="1434.9" y="447.1"/>
<use href="#mC" x="1436.2" y="448.2"/>
<use href="#mC" x="1437.5" y="447.1"/>
<use href="#mC" x="1438.8" y="446.7"/>
<use href="#mC" x="1440.1" y="446.5"/>
<use href="#mC" x="1441.5" y="447.5"/>
<use href="#mC" x="1442.8" y="446.4"/>
<use href="#mC" x="1444.1" y="446.4"/>
<use href="#mC" x="1445.4" y="445.8"/>
<use href="#mC" x="1446.8" y="445.9"/>
<use href="#mC" x="1448.1" y="445.9"/>
<use href="#mC" x="1449.4" y="446.1"/>
<use href="#mC" x="1450.7" y="446.6"/>
<use href="#mC" x="1452.0" y="446.7"/>
<use href="#mC" x="1453.4" y="445.7"/>
<use href="#mC" x="1454.7" y="446.0"/>
<use href="#mC" x="1456.0" y="446.0"/>
<use href="#mC" x="1457.3" y="447.2"/>
<use href="#mC" x="1458.6" y="447.9"/>
<use href="#mC" x="1460.0" y="446.9"/>
<use href="#mC" x="1461.3" y="445.7"/>
<use href="#mC" x="1462.6" y="445.1"/>
<use href="#mC" x="1463.9" y="446.2"/>
<use href="#mC" x="1465.2" y="448.7"/>
<use href="#mC" x="1466.5" y="448.9"/>
<use href="#mC" x="1467.9" y="448.1"/>
<use href="#mC" x="1469.2" y="447.2"/>
<use href="#mC" x="1470.5" y="446.2"/>
<use href="#mC" x="1471.9" y="445.8"/>
<use href="#mC" x="1473.2" y="447.1"/>
<use href="#mC" x="1474.5" y="447.8"/>
<use href="#mC" x="1475.8" y="449.3"/>
<use href="#mC" x="1477.1" y="448.0"/>
<use href="#mC" x="1478.4" y="449.0"/>
<use href="#mC" x="1479.8" y="448.7"/>
<use href="#mC" x="1481.1" y="449.1"/>
<use href="#mC" x="1482.4" y="447.3"/>
<use href="#mC" x="1483.7" y="446.1"/>
<use href="#mC" x="1485.1" y="446.3"/>
<use href="#mC" x="1486.4" y="448.0"/>
<use href="#mC" x="1487.7" y="449.2"/>
<use href="#mC" x="1489.0" y="448.5"/>
<use href="#mC" x="1490.3" y="447.6"/>
<use href="#mC" x="1491.7" y="446.8"/>
<use href="#mC" x="1493.0" y="447.7"/>
<use href="#mC" x="1494.3" y="448.0"/>
<use href="#mC" x="1495.6" y="448.8"/>
<use href="#mC" x="1496.9" y="448.1"/>
<use href="#mC" x="1498.3" y="448.3"/>
<use href="#mC" x="1499.6" y="448.3"/>
<use href="#mC" x="1500.9" y="448.6"/>
<use href="#mC" x="1502.2" y="447.1"/>
<use href="#mC" x="1503.6" y="447.1"/>
<use href="#mC" x="1504.9" y="448.1"/>
<use href="#mC" x="1506.2" y="448.5"/>
<use href="#mC" x="1507.5" y="448.1"/>
<use href="#mC" x="1508.8" y="447.3"/>
<use href="#mC" x="1510.2" y="448.3"/>
<use href="#mC" x="1511.5" y="448.8"/>
<use href="#mC" x="1512.8" y="447.1"/>
<use href="#mC" x="1514.1" y="446.8"/>
<use href="#mC" x="1515.4" y="445.6"/>
<use href="#mC" x="1516.8" y="446.1"/>
<use href="#mC" x="1518.1" y="446.2"/>
<use href="#mC" x="1519.4" y="446.8"/>
<use href="#mC" x="1520.7" y="447.9"/>
<use href="#mC" x="1522.0" y="449.6"/>
<use href="#mC" x="1523.4" y="450.3"/>
<use href="#mC" x="1524.7" y="450.3"/>
<use href="#mC" x="1526.0" y="447.6"/>
<use href="#mC" x="1527.3" y="446.6"/>
<use href="#mC" x="1528.7" y="445.5"/>
<use href="#mC" x="1530.0" y="445.7"/>
<use href="#mC" x="1531.3" y="445.4"/>
<use href="#mC" x="1532.6" y="445.7"/>
<use href="#mC" x="1533.9" y="445.9"/>
<use href="#mC" x="1535.3" y="446.0"/>
<use href="#mC" x="1536.6" y="445.5"/>
<use href="#mC" x="1537.9" y="444.7"/>
<use href="#mC" x="1539.2" y="445.7"/>
<use href="#mC" x="1540.5" y="446.7"/>
<use href="#mC" x="1541.9" y="448.3"/>
<use href="#mC" x="1543.2" y="448.7"/>
<use href="#mC" x="1544.5" y="448.4"/>
<use href="#mC" x="1545.8" y="448.2"/>
<use href="#mC" x="1547.1" y="446.5"/>
<use href="#mC" x="1548.5" y="448.3"/>
<use href="#mC" x="1549.8" y="448.6"/>
<use href="#mC" x="1551.1" y="449.5"/>
<use href="#mC" x="1552.4" y="447.2"/>
<use href="#mC" x="1553.8" y="446.6"/>
<use href="#mC" x="1555.1" y="445.5"/>
<use href="#mC" x="1556.4" y="445.8"/>
<use href="#mC" x="1557.7" y="446.0"/>
<use href="#mC" x="1559.0" y="447.3"/>
<use href="#mC" x="1560.4" y="447.5"/>
<use href="#mC" x="1561.7" y="447.7"/>
<use href="#mC" x="1563.0" y="446.9"/>
<use href="#mC" x="1564.3" y="447.5"/>
<use href="#mC" x="1565.6" y="446.5"/>
<use href="#mC" x="1567.0" y="446.6"/>
<use href="#mC" x="1568.3" y="446.8"/>
<use href="#mC" x="1569.6" y="446.4"/>
<use href="#mC" x="1570.9" y="448.3"/>
<use href="#mC" x="1572.2" y="447.6"/>
<use href="#mC" x="1573.6" y="449.6"/>
<use href="#mC" x="1574.9" y="447.6"/>
<use href="#mC" x="1576.2" y="448.4"/>
<use href="#mC" x="1577.6" y="447.6"/>
</g>
<path d="M984.9 56.7L984.9 60.2L985.0 63.7L985.0 67.1L985.0 70.4L985.0 73.7L985.1 76.9L985.1 80.0L985.1 83.1L985.2 86.1L985.2 89.1L985.2 92.0L985.2 94.9L985.3 97.7L985.3 100.4L985.3 103.1L985.4 105.8L985.4 108.4L985.4 110.9L985.4 113.4L985.5 115.9L985.5 118.3L985.5 120.7L985.6 123.0L985.6 125.2L985.6 127.5L985.6 129.7L985.7 131.8L985.7 133.9L985.7 136.0L985.8 138.1L985.8 140.1L985.8 142.0L985.8 143.9L985.9 145.8L985.9 147.7L985.9 149.5L986.0 151.3L986.0 153.1L986.0 154.8L986.0 156.5L986.1 158.2L986.1 159.8L986.1 161.4L986.2 163.0L986.2 164.6L986.2 166.1L986.2 167.6L986.3 169.1L986.3 170.5L986.3 171.9L986.4 173.3L986.4 174.7L986.4 176.1L986.4 177.4L986.5 178.7L986.5 180.0L986.5 181.2L986.6 182.5L986.6 183.7L986.6 184.9L986.6 186.1L986.7 187.3L986.7 188.4L986.7 189.5L986.8 190.6L986.8 191.7L986.8 192.8L986.8 193.8L986.9 194.9L986.9 195.9L986.9 196.9L987.0 197.9L987.0 198.9L987.0 199.8L987.0 200.8L987.1 201.7L987.1 202.6L987.1 203.5L987.2 204.4L987.2 205.3L987.2 206.1L987.2 207.0L987.3 207.8L987.3 208.6L987.3 209.5L987.4 210.3L987.4 211.0L987.4 211.8L987.4 212.6L987.5 213.3L987.5 214.1L987.5 214.8L987.6 215.5L987.6 216.2L987.6 216.9L987.6 217.6L987.7 218.3L987.7 219.0L987.7 219.7L987.8 220.3L987.8 221.0L987.8 221.6L987.8 222.2L987.9 222.9L987.9 223.5L987.9 224.1L988.0 224.7L988.0 225.3L988.0 225.9L988.0 226.4L988.1 227.0L988.1 227.6L988.1 228.1L988.2 228.7L988.2 229.2L988.2 229.7L988.2 230.3L988.3 230.8L988.3 231.3L988.3 231.8L988.4 232.3L988.4 232.8L988.4 233.3L988.4 233.8L988.5 234.3L988.5 234.8L988.5 235.2L988.6 235.7L988.6 236.2L988.6 236.6L988.6 237.1L988.7 237.5L988.7 238.0L988.7 238.4L988.8 238.8L988.8 239.3L988.8 239.7L988.8 240.1L988.9 240.5L988.9 240.9L988.9 241.4L989.0 241.8L989.0 242.2L989.0 242.6L989.0 243.0L989.1 243.3L989.1 243.7L989.1 244.1L989.2 244.5L989.2 244.9L989.2 245.2L989.2 245.6L989.3 246.0L989.3 246.3L989.3 246.7L989.4 247.1L989.4 247.4L989.4 247.8L989.4 248.1L989.5 248.5L989.5 248.8L989.5 249.1L989.6 249.5L989.6 249.8L989.6 250.2L989.6 250.5L989.7 250.8L989.7 251.1L989.7 251.5L989.8 251.8L989.8 252.1L989.8 252.4L989.8 252.7L989.9 253.0L989.9 253.3L989.9 253.7L990.0 254.0L990.0 254.3L990.0 254.6L990.0 254.9L990.1 255.2L990.1 255.5L990.1 255.8L990.2 256.0L990.2 256.3L990.2 256.6L990.2 256.9L990.3 257.2L990.3 257.5L990.3 257.8L990.4 258.0L990.4 258.3L990.4 258.6L990.4 258.9L990.5 259.1L990.5 259.4L990.5 259.7L990.6 259.9L990.6 260.2L990.6 260.5L990.6 260.7L990.7 261.0L990.7 261.3L990.7 261.5L990.8 261.8L990.8 262.1L990.8 262.3L990.8 262.6L990.9 262.8L990.9 263.1L990.9 263.3L991.0 263.6L991.0 263.8L991.0 264.1L991.0 264.3L991.1 264.6L991.1 264.8L991.1 265.1L991.2 265.3L991.2 265.5L991.2 265.8L991.2 266.0L991.3 266.3L991.3 266.5L991.3 266.7L991.4 267.0L991.4 267.2L991.4 267.4L991.4 267.7L991.5 267.9L991.5 268.1L991.5 268.4L991.6 268.6L991.6 268.8L991.6 269.0L991.6 269.3L991.7 269.5L991.7 269.7L991.7 269.9L991.8 270.2L991.8 270.4L991.8 270.6L991.8 270.8L991.9 271.1L991.9 271.3L991.9 271.5L992.0 271.7L992.0 271.9L992.0 272.1L992.0 272.4L992.1 272.6L992.1 272.8L992.1 273.0L992.1 273.2L992.2 273.4L992.2 273.6L992.2 273.8L992.3 274.1L992.3 274.3L992.3 274.5L992.3 274.7L992.4 274.9L992.4 275.1L992.4 275.3L992.5 275.5L992.5 275.7L992.5 275.9L992.5 276.1L992.6 276.3L992.6 276.5L992.6 276.7L992.7 276.9L992.7 277.1L992.7 277.3L992.7 277.5L992.8 277.7L992.8 277.9L992.8 278.1L992.9 278.3L992.9 278.5L992.9 278.7L992.9 278.9L993.0 279.1L993.0 279.3L993.0 279.5L993.1 279.7L993.1 279.9L993.1 280.1L993.1 280.3L993.2 280.5L993.2 280.7L993.2 280.8L993.3 281.0L993.3 281.2L993.3 281.4L993.3 281.6L993.4 281.8L993.4 282.0L993.4 282.2L993.5 282.4L993.5 282.5L993.5 282.7L993.5 282.9L993.6 283.1L993.6 283.3L993.6 283.5L993.7 283.7L993.7 283.8L993.7 284.0L993.7 284.2L993.8 284.4L993.8 284.6L993.8 284.7L993.9 284.9L993.9 285.1L993.9 285.3L993.9 285.5L994.0 285.6L994.0 285.8L994.0 286.0L994.1 286.2L994.1 286.4L994.1 286.5L994.1 286.7L994.2 286.9L994.2 287.1L994.2 287.2L994.3 287.4L994.3 287.6L994.3 287.8L994.3 287.9L994.4 288.1L994.4 288.3L994.4 288.5L994.5 288.6L994.5 288.8L994.5 289.0L994.5 289.1L994.6 289.3L994.6 289.5L994.6 289.7L994.7 289.8L994.7 290.0L994.7 290.2L994.7 290.3L994.8 290.5L994.8 290.7L994.8 290.8L994.9 291.0L994.9 291.2L994.9 291.3L994.9 291.5L995.0 291.7L995.0 291.8L995.0 292.0L995.1 292.2L995.1 292.3L995.1 292.5L995.1 292.7L995.2 292.8L995.2 293.0L995.2 293.1L995.3 293.3L995.3 293.5L995.3 293.6L995.3 293.8L995.4 294.0L995.4 294.1L995.4 294.3L995.5 294.4L995.5 294.6L995.5 294.8L995.5 294.9L995.6 295.1L995.6 295.2L995.6 295.4L995.7 295.6L995.7 295.7L995.7 295.9L995.7 296.0L995.8 296.2L995.8 296.3L995.8 296.5L995.9 296.7L995.9 296.8L995.9 297.0L995.9 297.1L996.0 297.3L996.0 297.4L996.0 297.6L996.1 297.7L996.1 297.9L996.1 298.0L996.1 298.2L996.2 298.3L996.2 298.5L996.2 298.6L996.3 298.8L996.3 299.0L996.3 299.0L997.3 303.9L998.2 308.6L999.2 313.0L1000.2 317.1L1001.1 321.0L1002.1 324.7L1003.1 328.1L1004.1 331.4L1005.0 334.4L1006.0 337.3L1007.0 340.1L1008.0 342.7L1008.9 345.1L1009.9 347.4L1010.9 349.6L1011.8 351.8L1012.8 353.7L1013.8 355.6L1014.8 357.5L1015.7 359.2L1016.7 360.8L1017.7 362.4L1018.6 363.9L1019.6 365.4L1020.6 366.8L1021.6 368.1L1022.5 369.4L1023.5 370.6L1024.5 371.8L1025.4 372.9L1026.4 374.0L1027.4 375.1L1028.4 376.1L1029.3 377.1L1030.3 378.1L1031.3 379.0L1032.2 379.9L1033.2 380.8L1034.2 381.6L1035.2 382.5L1036.1 383.3L1037.1 384.1L1038.1 384.8L1039.1 385.6L1040.0 386.3L1041.0 387.0L1042.0 387.7L1042.9 388.4L1043.9 389.1L1044.9 389.7L1045.9 390.4L1046.8 391.0L1047.8 391.6L1048.8 392.2L1049.7 392.8L1050.7 393.4L1051.7 394.0L1052.7 394.6L1053.6 395.1L1054.6 395.7L1055.6 396.2L1056.5 396.8L1057.5 397.3L1058.5 397.8L1059.5 398.3L1060.4 398.8L1061.4 399.3L1062.4 399.8L1063.3 400.3L1064.3 400.8L1065.3 401.3L1066.3 401.7L1067.2 402.2L1068.2 402.6L1069.2 403.1L1070.2 403.5L1071.1 404.0L1072.1 404.4L1073.1 404.8L1074.0 405.3L1075.0 405.7L1076.0 406.1L1077.0 406.5L1077.9 406.9L1078.9 407.3L1079.9 407.7L1080.8 408.1L1081.8 408.5L1082.8 408.9L1083.8 409.3L1084.7 409.6L1085.7 410.0L1086.7 410.4L1087.6 410.7L1088.6 411.1L1089.6 411.5L1090.6 411.8L1091.5 412.2L1092.5 412.5L1093.5 412.8L1094.5 413.2L1095.4 413.5L1096.4 413.8L1097.4 414.2L1098.3 414.5L1099.3 414.8L1100.3 415.1L1101.3 415.5L1102.2 415.8L1103.2 416.1L1104.2 416.4L1105.1 416.7L1106.1 417.0L1107.1 417.3L1108.1 417.6L1109.0 417.9L1110.0 418.2L1111.0 418.5L1111.9 418.7L1112.9 419.0L1113.9 419.3L1114.9 419.6L1115.8 419.8L1116.8 420.1L1117.8 420.4L1118.7 420.6L1119.7 420.9L1120.7 421.2L1121.7 421.4L1122.6 421.7L1123.6 421.9L1124.6 422.2L1125.6 422.4L1126.5 422.7L1127.5 422.9L1128.5 423.1L1129.4 423.4L1130.4 423.6L1131.4 423.8L1132.4 424.1L1133.3 424.3L1134.3 424.5L1135.3 424.8L1136.2 425.0L1137.2 425.2L1138.2 425.4L1139.2 425.6L1140.1 425.8L1141.1 426.1L1142.1 426.3L1143.0 426.5L1144.0 426.7L1145.0 426.9L1146.0 427.1L1146.9 427.3L1147.9 427.5L1148.9 427.7L1149.8 427.9L1150.8 428.1L1151.8 428.2L1152.8 428.4L1153.7 428.6L1154.7 428.8L1155.7 429.0L1156.7 429.2L1157.6 429.3L1158.6 429.5L1159.6 429.7L1160.5 429.9L1161.5 430.0L1162.5 430.2L1163.5 430.4L1164.4 430.6L1165.4 430.7L1166.4 430.9L1167.3 431.0L1168.3 431.2L1169.3 431.4L1170.3 431.5L1171.2 431.7L1172.2 431.8L1173.2 432.0L1174.1 432.1L1175.1 432.3L1176.1 432.4L1177.1 432.6L1178.0 432.7L1179.0 432.9L1180.0 433.0L1180.9 433.2L1181.9 433.3L1182.9 433.4L1183.9 433.6L1184.8 433.7L1185.8 433.8L1186.8 434.0L1187.8 434.1L1188.7 434.2L1189.7 434.4L1190.7 434.5L1191.6 434.6L1192.6 434.8L1193.6 434.9L1194.6 435.0L1195.5 435.1L1196.5 435.2L1197.5 435.4L1198.4 435.5L1199.4 435.6L1200.4 435.7L1201.4 435.8L1202.3 435.9L1203.3 436.1L1204.3 436.2L1205.2 436.3L1206.2 436.4L1207.2 436.5L1208.2 436.6L1209.1 436.7L1210.1 436.8L1211.1 436.9L1212.0 437.0L1213.0 437.1L1214.0 437.2L1215.0 437.3L1215.9 437.4L1216.9 437.5L1217.9 437.6L1218.9 437.7L1219.8 437.8L1220.8 437.9L1221.8 438.0L1222.7 438.1L1223.7 438.2L1224.7 438.3L1225.7 438.4L1226.6 438.5L1227.6 438.6L1228.6 438.6L1229.5 438.7L1230.5 438.8L1231.5 438.9L1232.5 439.0L1233.4 439.1L1234.4 439.2L1235.4 439.2L1236.3 439.3L1237.3 439.4L1238.3 439.5L1239.3 439.6L1240.2 439.6L1241.2 439.7L1242.2 439.8L1243.2 439.9L1244.1 439.9L1245.1 440.0L1246.1 440.1L1247.0 440.2L1248.0 440.2L1249.0 440.3L1250.0 440.4L1250.9 440.5L1251.9 440.5L1252.9 440.6L1253.8 440.7L1254.8 440.7L1255.8 440.8L1256.8 440.9L1257.7 440.9L1258.7 441.0L1259.7 441.1L1260.6 441.1L1261.6 441.2L1262.6 441.2L1263.6 441.3L1264.5 441.4L1265.5 441.4L1266.5 441.5L1267.4 441.5L1268.4 441.6L1269.4 441.7L1270.4 441.7L1271.3 441.8L1272.3 441.8L1273.3 441.9L1274.3 441.9L1275.2 442.0L1276.2 442.1L1277.2 442.1L1278.1 442.2L1279.1 442.2L1280.1 442.3L1281.1 442.3L1282.0 442.4L1283.0 442.4L1284.0 442.5L1284.9 442.5L1285.9 442.6L1286.9 442.6L1287.9 442.7L1288.8 442.7L1289.8 442.8L1290.8 442.8L1291.7 442.9L1292.7 442.9L1293.7 443.0L1294.7 443.0L1295.6 443.0L1296.6 443.1L1297.6 443.1L1298.5 443.2L1299.5 443.2L1300.5 443.3L1301.5 443.3L1302.4 443.3L1303.4 443.4L1304.4 443.4L1305.4 443.5L1306.3 443.5L1307.3 443.6L1308.3 443.6L1309.2 443.6L1310.2 443.7L1311.2 443.7L1312.2 443.7L1313.1 443.8L1314.1 443.8L1315.1 443.9L1316.0 443.9L1317.0 443.9L1318.0 444.0L1319.0 444.0L1319.9 444.0L1320.9 444.1L1321.9 444.1L1322.8 444.1L1323.8 444.2L1324.8 444.2L1325.8 444.2L1326.7 444.3L1327.7 444.3L1328.7 444.3L1329.6 444.4L1330.6 444.4L1331.6 444.4L1332.6 444.5L1333.5 444.5L1334.5 444.5L1335.5 444.6L1336.5 444.6L1337.4 444.6L1338.4 444.6L1339.4 444.7L1340.3 444.7L1341.3 444.7L1342.3 444.8L1343.3 444.8L1344.2 444.8L1345.2 444.8L1346.2 444.9L1347.1 444.9L1348.1 444.9L1349.1 445.0L1350.1 445.0L1351.0 445.0L1352.0 445.0L1353.0 445.1L1353.9 445.1L1354.9 445.1L1355.9 445.1L1356.9 445.2L1357.8 445.2L1358.8 445.2L1359.8 445.2L1360.7 445.2L1361.7 445.3L1362.7 445.3L1363.7 445.3L1364.6 445.3L1365.6 445.4L1366.6 445.4L1367.6 445.4L1368.5 445.4L1369.5 445.4L1370.5 445.5L1371.4 445.5L1372.4 445.5L1373.4 445.5L1374.4 445.6L1375.3 445.6L1376.3 445.6L1377.3 445.6L1378.2 445.6L1379.2 445.7L1380.2 445.7L1381.2 445.7L1382.1 445.7L1383.1 445.7L1384.1 445.7L1385.0 445.8L1386.0 445.8L1387.0 445.8L1388.0 445.8L1388.9 445.8L1389.9 445.9L1390.9 445.9L1391.8 445.9L1392.8 445.9L1393.8 445.9L1394.8 445.9L1395.7 446.0L1396.7 446.0L1397.7 446.0L1398.7 446.0L1399.6 446.0L1400.6 446.0L1401.6 446.1L1402.5 446.1L1403.5 446.1L1404.5 446.1L1405.5 446.1L1406.4 446.1L1407.4 446.1L1408.4 446.2L1409.3 446.2L1410.3 446.2L1411.3 446.2L1412.3 446.2L1413.2 446.2L1414.2 446.2L1415.2 446.3L1416.1 446.3L1417.1 446.3L1418.1 446.3L1419.1 446.3L1420.0 446.3L1421.0 446.3L1422.0 446.3L1423.0 446.4L1423.9 446.4L1424.9 446.4L1425.9 446.4L1426.8 446.4L1427.8 446.4L1428.8 446.4L1429.8 446.4L1430.7 446.5L1431.7 446.5L1432.7 446.5L1433.6 446.5L1434.6 446.5L1435.6 446.5L1436.6 446.5L1437.5 446.5L1438.5 446.5L1439.5 446.6L1440.4 446.6L1441.4 446.6L1442.4 446.6L1443.4 446.6L1444.3 446.6L1445.3 446.6L1446.3 446.6L1447.2 446.6L1448.2 446.6L1449.2 446.7L1450.2 446.7L1451.1 446.7L1452.1 446.7L1453.1 446.7L1454.1 446.7L1455.0 446.7L1456.0 446.7L1457.0 446.7L1457.9 446.7L1458.9 446.7L1459.9 446.8L1460.9 446.8L1461.8 446.8L1462.8 446.8L1463.8 446.8L1464.7 446.8L1465.7 446.8L1466.7 446.8L1467.7 446.8L1468.6 446.8L1469.6 446.8L1470.6 446.8L1471.5 446.9L1472.5 446.9L1473.5 446.9L1474.5 446.9L1475.4 446.9L1476.4 446.9L1477.4 446.9L1478.3 446.9L1479.3 446.9L1480.3 446.9L1481.3 446.9L1482.2 446.9L1483.2 446.9L1484.2 446.9L1485.2 447.0L1486.1 447.0L1487.1 447.0L1488.1 447.0L1489.0 447.0L1490.0 447.0L1491.0 447.0L1492.0 447.0L1492.9 447.0L1493.9 447.0L1494.9 447.0L1495.8 447.0L1496.8 447.0L1497.8 447.0L1498.8 447.0L1499.7 447.0L1500.7 447.1L1501.7 447.1L1502.6 447.1L1503.6 447.1L1504.6 447.1L1505.6 447.1L1506.5 447.1L1507.5 447.1L1508.5 447.1L1509.4 447.1L1510.4 447.1L1511.4 447.1L1512.4 447.1L1513.3 447.1L1514.3 447.1L1515.3 447.1L1516.3 447.1L1517.2 447.1L1518.2 447.1L1519.2 447.2L1520.1 447.2L1521.1 447.2L1522.1 447.2L1523.1 447.2L1524.0 447.2L1525.0 447.2L1526.0 447.2L1526.9 447.2L1527.9 447.2L1528.9 447.2L1529.9 447.2L1530.8 447.2L1531.8 447.2L1532.8 447.2L1533.7 447.2L1534.7 447.2L1535.7 447.2L1536.7 447.2L1537.6 447.2L1538.6 447.2L1539.6 447.2L1540.5 447.2L1541.5 447.3L1542.5 447.3L1543.5 447.3L1544.4 447.3L1545.4 447.3L1546.4 447.3L1547.4 447.3L1548.3 447.3L1549.3 447.3L1550.3 447.3L1551.2 447.3L1552.2 447.3L1553.2 447.3L1554.2 447.3L1555.1 447.3L1556.1 447.3L1557.1 447.3L1558.0 447.3L1559.0 447.3L1560.0 447.3L1561.0 447.3L1561.9 447.3L1562.9 447.3L1563.9 447.3L1564.8 447.3L1565.8 447.3L1566.8 447.3L1567.8 447.3L1568.7 447.3L1569.7 447.3L1570.7 447.4L1571.7 447.4L1572.6 447.4L1573.6 447.4L1574.6 447.4L1575.5 447.4L1576.5 447.4L1577.5 447.4L1578.5 447.4" stroke="#ff0000" stroke-width="5" fill="none" clip-path="url(#cc)"/>
<rect x="952.5" y="1.5" width="645.8" height="482.0" fill="none" stroke="#000" stroke-width="3.0" stroke-linejoin="miter"/>
<path d="M984.4 483.5V493.0M1063.7 483.5V488.5M1142.9 483.5V493.0M1222.2 483.5V488.5M1301.4 483.5V493.0M1380.7 483.5V488.5M1460.0 483.5V493.0M1539.2 483.5V488.5M952.5 465.1H943.0M952.5 409.5H947.5M952.5 353.8H943.0M952.5 298.1H947.5M952.5 242.5H943.0M952.5 186.9H947.5M952.5 131.2H943.0M952.5 75.6H947.5M952.5 19.9H943.0" stroke="#000" stroke-width="3.0" fill="none"/>
<text x="936.6" y="477.6" font-size="37.3" font-weight="bold" text-anchor="end" >0.6</text>
<text x="936.6" y="366.3" font-size="37.3" font-weight="bold" text-anchor="end" >1.2</text>
<text x="936.6" y="255.0" font-size="37.3" font-weight="bold" text-anchor="end" >1.8</text>
<text x="936.6" y="143.7" font-size="37.3" font-weight="bold" text-anchor="end" >2.4</text>
<text x="936.6" y="32.4" font-size="37.3" font-weight="bold" text-anchor="end" >3.0</text>
<text x="984.4" y="529.3" font-size="37.3" font-weight="bold" text-anchor="middle" >0</text>
<text x="1142.9" y="529.3" font-size="37.3" font-weight="bold" text-anchor="middle" >4</text>
<text x="1301.4" y="529.3" font-size="37.3" font-weight="bold" text-anchor="middle" >8</text>
<text x="1460.0" y="529.3" font-size="37.3" font-weight="bold" text-anchor="middle" >12</text>
<text x="1190.7" y="567.7" font-size="42.2" font-weight="bold" text-anchor="start" >Time (min)</text>
<text x="850.0" y="259.6" font-size="41.8" font-weight="bold" text-anchor="middle" transform="rotate(-90 850 259.6)">Current (µA)</text>
<use href="#mC" x="1146.9" y="36.8"/>
<path d="M1105.3 82.5H1189.1" stroke="#ff0000" stroke-width="4.6"/>
<text x="1197.7" y="49.5" font-size="37.8" font-weight="normal" text-anchor="start" stroke="#000" stroke-width="0.35" >Nanowire network device</text>
<text x="1197.7" y="95.2" font-size="37.8" font-weight="normal" text-anchor="start" stroke="#000" stroke-width="0.35" >Fitting</text>
<text x="1040.8" y="151.5" font-size="61" font-weight="normal" text-anchor="start" stroke="#000" stroke-width="0.5" >(c)</text>
<rect x="1394.9" y="151.8" width="148.6" height="66.8" fill="#000"/>
<rect x="1387.9" y="144.8" width="148.6" height="66.8" fill="#fff" stroke="#000" stroke-width="2"/>
<text x="1396.4" y="192.7" font-size="42.2" font-weight="normal" text-anchor="start" stroke="#000" stroke-width="0.35" >τ = 52 s</text>
<g clip-path="url(#cd)">
<use href="#mD" x="990.3" y="619.1"/>
<use href="#mD" x="990.8" y="703.9"/>
<use href="#mD" x="992.2" y="718.0"/>
<use href="#mD" x="992.5" y="723.9"/>
<use href="#mD" x="992.5" y="728.4"/>
<use href="#mD" x="992.8" y="732.0"/>
<use href="#mD" x="992.9" y="734.9"/>
<use href="#mD" x="993.5" y="737.4"/>
<use href="#mD" x="993.5" y="739.7"/>
<use href="#mD" x="994.0" y="741.7"/>
<use href="#mD" x="994.0" y="743.6"/>
<use href="#mD" x="994.8" y="745.2"/>
<use href="#mD" x="994.7" y="747.0"/>
<use href="#mD" x="995.1" y="748.6"/>
<use href="#mD" x="995.0" y="750.2"/>
<use href="#mD" x="996.0" y="751.5"/>
<use href="#mD" x="997.1" y="752.8"/>
<use href="#mD" x="997.7" y="754.1"/>
<use href="#mD" x="997.5" y="755.6"/>
<use href="#mD" x="997.4" y="757.1"/>
<use href="#mD" x="997.6" y="758.4"/>
<use href="#mD" x="998.3" y="759.6"/>
<use href="#mD" x="997.9" y="761.0"/>
<use href="#mD" x="997.9" y="762.3"/>
<use href="#mD" x="998.2" y="763.5"/>
<use href="#mD" x="998.6" y="764.7"/>
<use href="#mD" x="998.5" y="765.9"/>
<use href="#mD" x="998.5" y="767.1"/>
<use href="#mD" x="999.7" y="768.0"/>
<use href="#mD" x="1001.0" y="768.8"/>
<use href="#mD" x="1001.9" y="769.7"/>
<use href="#mD" x="1002.2" y="770.7"/>
<use href="#mD" x="1001.9" y="771.9"/>
<use href="#mD" x="1001.4" y="773.2"/>
<use href="#mD" x="1001.1" y="774.3"/>
<use href="#mD" x="1001.2" y="775.4"/>
<use href="#mD" x="1001.5" y="776.3"/>
<use href="#mD" x="1002.7" y="776.9"/>
<use href="#mD" x="1004.4" y="777.4"/>
<use href="#mD" x="1005.2" y="778.1"/>
<use href="#mD" x="1005.5" y="778.9"/>
<use href="#mD" x="1004.9" y="780.1"/>
<use href="#mD" x="1005.1" y="781.0"/>
<use href="#mD" x="1005.6" y="781.8"/>
<use href="#mD" x="1006.1" y="782.5"/>
<use href="#mD" x="1006.3" y="783.3"/>
<use href="#mD" x="1005.8" y="784.4"/>
<use href="#mD" x="1005.8" y="785.3"/>
<use href="#mD" x="1005.7" y="786.2"/>
<use href="#mD" x="1006.2" y="786.8"/>
<use href="#mD" x="1006.8" y="787.5"/>
<use href="#mD" x="1007.3" y="788.1"/>
<use href="#mD" x="1006.4" y="789.3"/>
<use href="#mD" x="1006.5" y="790.1"/>
<use href="#mD" x="1006.1" y="791.1"/>
<use href="#mD" x="1006.7" y="791.6"/>
<use href="#mD" x="1005.7" y="792.9"/>
<use href="#mD" x="1007.2" y="793.0"/>
<use href="#mD" x="1007.1" y="793.9"/>
<use href="#mD" x="1008.2" y="794.1"/>
<use href="#mD" x="1008.2" y="794.9"/>
<use href="#mD" x="1009.8" y="794.9"/>
<use href="#mD" x="1009.9" y="795.6"/>
<use href="#mD" x="1010.0" y="796.3"/>
<use href="#mD" x="1010.2" y="796.9"/>
<use href="#mD" x="1010.1" y="797.7"/>
<use href="#mD" x="1010.9" y="798.0"/>
<use href="#mD" x="1011.7" y="798.3"/>
<use href="#mD" x="1012.3" y="798.7"/>
<use href="#mD" x="1011.8" y="799.7"/>
<use href="#mD" x="1010.8" y="801.0"/>
<use href="#mD" x="1012.2" y="800.9"/>
<use href="#mD" x="1012.1" y="801.1"/>
<use href="#mD" x="1014.7" y="804.7"/>
<use href="#mD" x="1015.4" y="809.3"/>
<use href="#mD" x="1018.9" y="811.6"/>
<use href="#mD" x="1021.4" y="814.5"/>
<use href="#mD" x="1024.7" y="816.5"/>
<use href="#mD" x="1027.1" y="818.9"/>
<use href="#mD" x="1029.8" y="821.0"/>
<use href="#mD" x="1031.3" y="824.1"/>
<use href="#mD" x="1033.1" y="826.9"/>
<use href="#mD" x="1035.3" y="829.2"/>
<use href="#mD" x="1037.7" y="831.2"/>
<use href="#mD" x="1039.3" y="834.0"/>
<use href="#mD" x="1040.8" y="836.9"/>
<use href="#mD" x="1043.8" y="838.1"/>
<use href="#mD" x="1046.5" y="839.6"/>
<use href="#mD" x="1048.8" y="841.5"/>
<use href="#mD" x="1051.0" y="843.5"/>
<use href="#mD" x="1053.5" y="845.0"/>
<use href="#mD" x="1055.9" y="846.7"/>
<use href="#mD" x="1057.2" y="849.6"/>
<use href="#mD" x="1059.7" y="851.2"/>
<use href="#mD" x="1063.3" y="851.1"/>
<use href="#mD" x="1066.8" y="851.2"/>
<use href="#mD" x="1068.9" y="852.9"/>
<use href="#mD" x="1070.2" y="855.9"/>
<use href="#mD" x="1071.7" y="858.6"/>
<use href="#mD" x="1073.6" y="860.7"/>
<use href="#mD" x="1076.1" y="862.0"/>
<use href="#mD" x="1078.5" y="863.3"/>
<use href="#mD" x="1081.1" y="864.4"/>
<use href="#mD" x="1083.1" y="866.2"/>
<use href="#mD" x="1085.6" y="867.3"/>
<use href="#mD" x="1086.6" y="870.8"/>
<use href="#mD" x="1088.5" y="872.7"/>
<use href="#mD" x="1090.9" y="874.1"/>
<use href="#mD" x="1094.4" y="873.4"/>
<use href="#mD" x="1097.1" y="874.1"/>
<use href="#mD" x="1099.6" y="875.0"/>
<use href="#mD" x="1101.8" y="876.5"/>
<use href="#mD" x="1104.2" y="877.7"/>
<use href="#mD" x="1105.6" y="880.4"/>
<use href="#mD" x="1107.7" y="881.9"/>
<use href="#mD" x="1110.0" y="883.2"/>
<use href="#mD" x="1113.0" y="883.2"/>
<use href="#mD" x="1115.5" y="884.0"/>
<use href="#mD" x="1117.5" y="885.6"/>
<use href="#mD" x="1119.4" y="887.5"/>
<use href="#mD" x="1120.9" y="890.1"/>
<use href="#mD" x="1123.3" y="891.0"/>
<use href="#mD" x="1125.2" y="892.9"/>
<use href="#mD" x="1127.8" y="893.6"/>
<use href="#mD" x="1129.8" y="895.1"/>
<use href="#mD" x="1133.0" y="894.4"/>
<use href="#mD" x="1135.7" y="894.6"/>
<use href="#mD" x="1137.7" y="896.1"/>
<use href="#mD" x="1139.0" y="899.3"/>
<use href="#mD" x="1140.8" y="901.3"/>
<use href="#mD" x="1143.1" y="902.4"/>
<use href="#mD" x="1145.9" y="902.3"/>
<use href="#mD" x="1148.3" y="903.0"/>
<use href="#mD" x="1151.0" y="903.2"/>
<use href="#mD" x="1152.8" y="905.1"/>
<use href="#mD" x="1154.9" y="906.5"/>
<use href="#mD" x="1157.0" y="907.8"/>
<use href="#mD" x="1159.7" y="908.0"/>
<use href="#mD" x="1161.9" y="909.1"/>
<use href="#mD" x="1164.0" y="910.4"/>
<use href="#mD" x="1166.4" y="911.0"/>
<use href="#mD" x="1168.3" y="912.7"/>
<use href="#mD" x="1170.6" y="913.6"/>
<use href="#mD" x="1172.7" y="915.0"/>
<use href="#mD" x="1175.0" y="915.8"/>
<use href="#mD" x="1177.1" y="917.2"/>
<use href="#mD" x="1179.3" y="918.0"/>
<use href="#mD" x="1181.8" y="918.3"/>
<use href="#mD" x="1184.6" y="917.9"/>
<use href="#mD" x="1187.0" y="918.4"/>
<use href="#mD" x="1189.9" y="917.6"/>
<use href="#mD" x="1191.6" y="919.8"/>
<use href="#mD" x="1194.2" y="919.9"/>
<use href="#mD" x="1195.8" y="922.6"/>
<use href="#mD" x="1198.5" y="922.1"/>
<use href="#mD" x="1200.5" y="923.5"/>
<use href="#mD" x="1203.0" y="923.8"/>
<use href="#mD" x="1205.0" y="925.3"/>
<use href="#mD" x="1206.9" y="927.1"/>
<use href="#mD" x="1208.7" y="929.1"/>
<use href="#mD" x="1211.0" y="929.9"/>
<use href="#mD" x="1213.2" y="930.9"/>
<use href="#mD" x="1216.0" y="930.1"/>
<use href="#mD" x="1218.1" y="931.1"/>
<use href="#mD" x="1220.6" y="931.4"/>
<use href="#mD" x="1222.8" y="932.2"/>
<use href="#mD" x="1225.2" y="932.5"/>
<use href="#mD" x="1227.5" y="933.1"/>
<use href="#mD" x="1229.7" y="934.2"/>
<use href="#mD" x="1231.8" y="935.2"/>
<use href="#mD" x="1234.2" y="935.7"/>
<use href="#mD" x="1236.6" y="935.8"/>
<use href="#mD" x="1238.8" y="936.7"/>
<use href="#mD" x="1241.3" y="936.6"/>
<use href="#mD" x="1243.5" y="937.4"/>
<use href="#mD" x="1245.6" y="938.6"/>
<use href="#mD" x="1248.1" y="938.6"/>
<use href="#mD" x="1250.3" y="939.3"/>
<use href="#mD" x="1252.8" y="939.4"/>
<use href="#mD" x="1254.8" y="940.7"/>
<use href="#mD" x="1256.5" y="943.5"/>
<use href="#mD" x="1259.3" y="942.0"/>
<use href="#mD" x="1261.0" y="944.6"/>
<use href="#mD" x="1263.5" y="944.6"/>
<use href="#mD" x="1265.1" y="947.5"/>
<use href="#mD" x="1267.7" y="947.1"/>
<use href="#mD" x="1270.2" y="946.9"/>
<use href="#mD" x="1272.7" y="946.4"/>
<use href="#mD" x="1274.8" y="947.7"/>
<use href="#mD" x="1277.3" y="947.3"/>
<use href="#mD" x="1279.5" y="948.3"/>
<use href="#mD" x="1281.7" y="949.1"/>
<use href="#mD" x="1284.0" y="949.7"/>
<use href="#mD" x="1286.2" y="950.2"/>
<use href="#mD" x="1288.6" y="950.3"/>
<use href="#mD" x="1290.9" y="950.7"/>
<use href="#mD" x="1292.9" y="952.3"/>
<use href="#mD" x="1295.2" y="953.0"/>
<use href="#mD" x="1297.5" y="953.4"/>
<use href="#mD" x="1299.9" y="953.2"/>
<use href="#mD" x="1302.4" y="953.1"/>
<use href="#mD" x="1304.5" y="954.2"/>
<use href="#mD" x="1306.7" y="954.8"/>
<use href="#mD" x="1309.0" y="955.4"/>
<use href="#mD" x="1311.0" y="957.0"/>
<use href="#mD" x="1313.4" y="957.1"/>
<use href="#mD" x="1315.3" y="958.7"/>
<use href="#mD" x="1317.8" y="958.6"/>
<use href="#mD" x="1319.8" y="960.2"/>
<use href="#mD" x="1322.3" y="959.7"/>
<use href="#mD" x="1324.6" y="960.0"/>
<use href="#mD" x="1327.2" y="959.2"/>
<use href="#mD" x="1329.3" y="960.4"/>
<use href="#mD" x="1331.3" y="961.9"/>
<use href="#mD" x="1333.1" y="964.6"/>
<use href="#mD" x="1335.2" y="965.5"/>
<use href="#mD" x="1337.6" y="965.6"/>
<use href="#mD" x="1340.2" y="964.6"/>
<use href="#mD" x="1342.6" y="964.6"/>
<use href="#mD" x="1344.9" y="964.9"/>
<use href="#mD" x="1346.9" y="966.5"/>
<use href="#mD" x="1349.1" y="967.4"/>
<use href="#mD" x="1351.5" y="967.3"/>
<use href="#mD" x="1354.0" y="966.4"/>
<use href="#mD" x="1356.2" y="967.2"/>
<use href="#mD" x="1358.3" y="968.4"/>
<use href="#mD" x="1360.5" y="969.2"/>
<use href="#mD" x="1362.8" y="969.6"/>
<use href="#mD" x="1365.2" y="969.7"/>
<use href="#mD" x="1367.4" y="970.1"/>
<use href="#mD" x="1369.9" y="969.5"/>
<use href="#mD" x="1372.4" y="969.0"/>
<use href="#mD" x="1374.5" y="970.2"/>
<use href="#mD" x="1376.9" y="970.2"/>
<use href="#mD" x="1378.9" y="971.6"/>
<use href="#mD" x="1381.4" y="971.0"/>
<use href="#mD" x="1383.4" y="972.8"/>
<use href="#mD" x="1385.6" y="973.5"/>
<use href="#mD" x="1387.8" y="974.5"/>
<use href="#mD" x="1390.4" y="973.4"/>
<use href="#mD" x="1392.6" y="973.9"/>
<use href="#mD" x="1395.1" y="973.4"/>
<use href="#mD" x="1397.1" y="975.1"/>
<use href="#mD" x="1399.3" y="975.9"/>
<use href="#mD" x="1401.3" y="977.3"/>
<use href="#mD" x="1403.4" y="978.9"/>
<use href="#mD" x="1405.6" y="979.4"/>
<use href="#mD" x="1407.8" y="980.3"/>
<use href="#mD" x="1410.3" y="979.5"/>
<use href="#mD" x="1412.6" y="979.5"/>
<use href="#mD" x="1414.9" y="980.2"/>
<use href="#mD" x="1417.0" y="981.3"/>
<use href="#mD" x="1419.4" y="981.0"/>
<use href="#mD" x="1421.6" y="981.5"/>
<use href="#mD" x="1424.0" y="981.6"/>
<use href="#mD" x="1426.0" y="983.5"/>
<use href="#mD" x="1428.3" y="983.5"/>
<use href="#mD" x="1430.8" y="982.8"/>
<use href="#mD" x="1433.3" y="981.9"/>
<use href="#mD" x="1435.4" y="983.2"/>
<use href="#mD" x="1437.5" y="984.6"/>
<use href="#mD" x="1439.8" y="984.9"/>
<use href="#mD" x="1442.2" y="984.4"/>
<use href="#mD" x="1444.5" y="984.4"/>
<use href="#mD" x="1446.9" y="984.5"/>
<use href="#mD" x="1449.4" y="983.3"/>
<use href="#mD" x="1451.9" y="982.9"/>
<use href="#mD" x="1453.9" y="984.7"/>
<use href="#mD" x="1455.8" y="986.6"/>
<use href="#mD" x="1457.9" y="987.9"/>
<use href="#mD" x="1460.2" y="988.3"/>
<use href="#mD" x="1462.4" y="989.2"/>
<use href="#mD" x="1464.8" y="988.4"/>
<use href="#mD" x="1467.2" y="988.4"/>
<use href="#mD" x="1469.6" y="987.9"/>
<use href="#mD" x="1471.8" y="988.9"/>
<use href="#mD" x="1474.1" y="989.2"/>
<use href="#mD" x="1476.2" y="990.1"/>
<use href="#mD" x="1478.4" y="991.1"/>
<use href="#mD" x="1480.7" y="990.9"/>
<use href="#mD" x="1483.0" y="991.1"/>
<use href="#mD" x="1485.0" y="993.0"/>
<use href="#mD" x="1487.2" y="993.7"/>
<use href="#mD" x="1489.6" y="993.3"/>
<use href="#mD" x="1492.1" y="992.6"/>
<use href="#mD" x="1494.2" y="994.1"/>
<use href="#mD" x="1496.2" y="995.9"/>
<use href="#mD" x="1498.6" y="995.4"/>
<use href="#mD" x="1500.8" y="996.1"/>
<use href="#mD" x="1503.2" y="995.7"/>
<use href="#mD" x="1505.5" y="996.1"/>
<use href="#mD" x="1507.9" y="995.4"/>
<use href="#mD" x="1510.1" y="996.3"/>
<use href="#mD" x="1512.2" y="997.9"/>
<use href="#mD" x="1514.3" y="999.1"/>
<use href="#mD" x="1516.5" y="999.6"/>
<use href="#mD" x="1518.8" y="1000.1"/>
<use href="#mD" x="1521.1" y="1000.2"/>
<use href="#mD" x="1523.2" y="1001.2"/>
<use href="#mD" x="1525.8" y="1000.1"/>
<use href="#mD" x="1528.2" y="999.4"/>
<use href="#mD" x="1530.5" y="999.7"/>
<use href="#mD" x="1532.8" y="1000.1"/>
<use href="#mD" x="1534.9" y="1001.3"/>
<use href="#mD" x="1537.2" y="1001.2"/>
<use href="#mD" x="1539.4" y="1002.2"/>
<use href="#mD" x="1541.7" y="1002.5"/>
<use href="#mD" x="1543.7" y="1003.8"/>
<use href="#mD" x="1546.2" y="1002.9"/>
<use href="#mD" x="1548.3" y="1004.2"/>
<use href="#mD" x="1550.5" y="1005.2"/>
<use href="#mD" x="1552.5" y="1007.2"/>
<use href="#mD" x="1554.8" y="1007.0"/>
<use href="#mD" x="1557.3" y="1006.4"/>
<use href="#mD" x="1559.3" y="1008.0"/>
<use href="#mD" x="1561.7" y="1007.6"/>
<use href="#mD" x="1564.1" y="1007.6"/>
<use href="#mD" x="1566.5" y="1006.7"/>
<use href="#mD" x="1568.6" y="1008.2"/>
<use href="#mD" x="1570.9" y="1008.6"/>
<use href="#mD" x="1573.0" y="1009.6"/>
<use href="#mD" x="1578.2" y="1011.3"/>
</g>
<path d="M990.3 620.6L990.3 625.3L990.4 629.7L990.4 634.0L990.4 638.1L990.5 642.1L990.5 645.8L990.5 649.4L990.6 652.9L990.6 656.2L990.6 659.4L990.7 662.4L990.7 665.3L990.7 668.1L990.8 670.8L990.8 673.3L990.8 675.8L990.9 678.1L990.9 680.4L990.9 682.6L991.0 684.7L991.0 686.6L991.0 688.6L991.1 690.4L991.1 692.2L991.1 693.9L991.2 695.5L991.2 697.1L991.2 698.6L991.3 700.0L991.3 701.4L991.3 702.7L991.4 704.0L991.4 705.3L991.4 706.5L991.5 707.6L991.5 708.7L991.5 709.8L991.6 710.8L991.6 711.8L991.6 712.8L991.7 713.7L991.7 714.6L991.7 715.4L991.8 716.3L991.8 717.1L991.8 717.8L991.9 718.6L991.9 719.3L991.9 720.0L992.0 720.7L992.0 721.3L992.0 722.0L992.1 722.6L992.1 723.2L992.1 723.8L992.2 724.3L992.2 724.9L992.2 725.4L992.3 725.9L992.3 726.4L992.3 726.9L992.4 727.4L992.4 727.9L992.4 728.3L992.5 728.8L992.5 729.2L992.5 729.6L992.6 730.0L992.6 730.4L992.6 730.8L992.7 731.2L992.7 731.5L992.7 731.9L992.8 732.3L992.8 732.6L992.8 732.9L992.9 733.3L992.9 733.6L992.9 733.9L993.0 734.2L993.0 734.6L993.0 734.9L993.1 735.2L993.1 735.5L993.1 735.7L993.2 736.0L993.2 736.3L993.2 736.6L993.3 736.9L993.3 737.1L993.3 737.4L993.4 737.6L993.4 737.9L993.4 738.2L993.5 738.4L993.5 738.7L993.5 738.9L993.6 739.1L993.6 739.4L993.6 739.6L993.7 739.8L993.7 740.1L993.7 740.3L993.8 740.5L993.8 740.8L993.8 741.0L993.9 741.2L993.9 741.4L993.9 741.6L994.0 741.8L994.0 742.0L994.0 742.3L994.1 742.5L994.1 742.7L994.2 742.9L994.2 743.1L994.2 743.3L994.3 743.5L994.3 743.7L994.3 743.9L994.4 744.1L994.4 744.3L994.4 744.5L994.5 744.7L994.5 744.9L994.5 745.0L994.6 745.2L994.6 745.4L994.6 745.6L994.7 745.8L994.7 746.0L994.7 746.2L994.8 746.4L994.8 746.5L994.8 746.7L994.9 746.9L994.9 747.1L994.9 747.3L995.0 747.4L995.0 747.6L995.0 747.8L995.1 748.0L995.1 748.2L995.1 748.3L995.2 748.5L995.2 748.7L995.2 748.8L995.3 749.0L995.3 749.2L995.3 749.4L995.4 749.5L995.4 749.7L995.4 749.9L995.5 750.0L995.5 750.2L995.5 750.4L995.6 750.5L995.6 750.7L995.6 750.9L995.7 751.0L995.7 751.2L995.7 751.4L995.8 751.5L995.8 751.7L995.8 751.9L995.9 752.0L995.9 752.2L995.9 752.3L996.0 752.5L996.0 752.7L996.0 752.8L996.1 753.0L996.1 753.1L996.1 753.3L996.2 753.5L996.2 753.6L996.2 753.8L996.3 753.9L996.3 754.1L996.3 754.2L996.4 754.4L996.4 754.6L996.4 754.7L996.5 754.9L996.5 755.0L996.5 755.2L996.6 755.3L996.6 755.5L996.6 755.6L996.7 755.8L996.7 755.9L996.7 756.1L996.8 756.2L996.8 756.4L996.8 756.5L996.9 756.7L996.9 756.8L996.9 757.0L997.0 757.1L997.0 757.3L997.0 757.4L997.1 757.6L997.1 757.7L997.1 757.9L997.2 758.0L997.2 758.2L997.2 758.3L997.3 758.4L997.3 758.6L997.3 758.7L997.4 758.9L997.4 759.0L997.4 759.2L997.5 759.3L997.5 759.5L997.5 759.6L997.6 759.7L997.6 759.9L997.6 760.0L997.7 760.2L997.7 760.3L997.7 760.4L997.8 760.6L997.8 760.7L997.8 760.9L997.9 761.0L997.9 761.1L997.9 761.3L998.0 761.4L998.0 761.5L998.0 761.7L998.1 761.8L998.1 762.0L998.1 762.1L998.2 762.2L998.2 762.4L998.2 762.5L998.3 762.6L998.3 762.8L998.3 762.9L998.4 763.0L998.4 763.2L998.4 763.3L998.5 763.4L998.5 763.6L998.5 763.7L998.6 763.8L998.6 764.0L998.6 764.1L998.7 764.2L998.7 764.3L998.7 764.5L998.8 764.6L998.8 764.7L998.8 764.9L998.9 765.0L998.9 765.1L998.9 765.3L999.0 765.4L999.0 765.5L999.0 765.6L999.1 765.8L999.1 765.9L999.1 766.0L999.2 766.1L999.2 766.3L999.2 766.4L999.3 766.5L999.3 766.6L999.3 766.8L999.4 766.9L999.4 767.0L999.4 767.1L999.5 767.3L999.5 767.4L999.5 767.5L999.6 767.6L999.6 767.8L999.6 767.9L999.7 768.0L999.7 768.1L999.7 768.2L999.8 768.4L999.8 768.5L999.8 768.6L999.9 768.7L999.9 768.9L999.9 769.0L1000.0 769.1L1000.0 769.2L1000.0 769.3L1000.1 769.4L1000.1 769.6L1000.1 769.7L1000.2 769.8L1000.2 769.9L1000.2 770.0L1000.3 770.2L1000.3 770.3L1000.3 770.4L1000.4 770.5L1000.4 770.6L1000.4 770.7L1000.5 770.9L1000.5 771.0L1000.5 771.1L1000.6 771.2L1000.6 771.3L1000.6 771.4L1000.7 771.5L1000.7 771.7L1000.7 771.8L1000.8 771.9L1000.8 772.0L1000.8 772.1L1000.9 772.2L1000.9 772.3L1000.9 772.4L1001.0 772.6L1001.0 772.7L1001.0 772.8L1001.1 772.9L1001.1 773.0L1001.1 773.1L1001.2 773.2L1001.2 773.3L1001.2 773.4L1001.3 773.5L1001.3 773.7L1001.3 773.8L1001.4 773.9L1001.4 774.0L1001.4 774.1L1001.5 774.2L1001.5 774.3L1001.6 774.4L1001.6 774.5L1001.6 774.6L1001.7 774.7L1001.7 774.8L1001.7 775.0L1001.8 775.1L1001.8 775.2L1001.8 775.3L1001.9 775.4L1001.9 775.5L1001.9 775.6L1002.0 775.7L1002.0 775.8L1002.0 775.9L1002.1 776.0L1002.1 776.1L1002.1 776.2L1002.2 776.3L1002.2 776.4L1002.2 776.5L1002.3 776.6L1002.3 776.7L1002.3 776.8L1002.4 776.9L1002.4 777.0L1002.4 777.1L1002.5 777.2L1002.5 777.3L1002.5 777.4L1002.6 777.5L1002.6 777.6L1002.6 777.7L1002.7 777.8L1002.7 777.9L1002.7 778.0L1002.8 778.1L1002.8 778.2L1002.8 778.3L1002.9 778.4L1002.9 778.5L1002.9 778.6L1003.0 778.7L1003.0 778.8L1003.0 778.9L1003.1 779.0L1003.1 779.1L1003.1 779.2L1003.2 779.3L1003.2 779.4L1003.2 779.5L1003.3 779.6L1003.3 779.7L1003.3 779.8L1003.4 779.9L1003.4 780.0L1003.4 780.1L1003.5 780.2L1003.5 780.3L1003.5 780.4L1003.6 780.5L1003.6 780.6L1003.6 780.7L1003.7 780.8L1003.7 780.8L1004.6 783.4L1005.6 785.8L1006.5 788.2L1007.5 790.4L1008.5 792.5L1009.4 794.5L1010.4 796.4L1011.3 798.3L1012.3 800.0L1013.2 801.7L1014.2 803.3L1015.2 804.9L1016.1 806.4L1017.1 807.8L1018.0 809.2L1019.0 810.6L1020.0 811.9L1020.9 813.1L1021.9 814.4L1022.8 815.6L1023.8 816.8L1024.7 817.9L1025.7 819.0L1026.7 820.1L1027.6 821.2L1028.6 822.3L1029.5 823.3L1030.5 824.3L1031.5 825.3L1032.4 826.3L1033.4 827.3L1034.3 828.2L1035.3 829.2L1036.2 830.1L1037.2 831.0L1038.2 831.9L1039.1 832.8L1040.1 833.7L1041.0 834.6L1042.0 835.5L1043.0 836.3L1043.9 837.2L1044.9 838.0L1045.8 838.8L1046.8 839.7L1047.7 840.5L1048.7 841.3L1049.7 842.1L1050.6 842.9L1051.6 843.7L1052.5 844.5L1053.5 845.3L1054.5 846.0L1055.4 846.8L1056.4 847.6L1057.3 848.3L1058.3 849.1L1059.2 849.8L1060.2 850.6L1061.2 851.3L1062.1 852.0L1063.1 852.8L1064.0 853.5L1065.0 854.2L1066.0 854.9L1066.9 855.6L1067.9 856.3L1068.8 857.0L1069.8 857.7L1070.7 858.4L1071.7 859.1L1072.7 859.8L1073.6 860.4L1074.6 861.1L1075.5 861.8L1076.5 862.5L1077.5 863.1L1078.4 863.8L1079.4 864.4L1080.3 865.1L1081.3 865.7L1082.2 866.4L1083.2 867.0L1084.2 867.6L1085.1 868.3L1086.1 868.9L1087.0 869.5L1088.0 870.1L1089.0 870.8L1089.9 871.4L1090.9 872.0L1091.8 872.6L1092.8 873.2L1093.7 873.8L1094.7 874.4L1095.7 875.0L1096.6 875.6L1097.6 876.1L1098.5 876.7L1099.5 877.3L1100.5 877.9L1101.4 878.5L1102.4 879.0L1103.3 879.6L1104.3 880.2L1105.2 880.7L1106.2 881.3L1107.2 881.8L1108.1 882.4L1109.1 882.9L1110.0 883.5L1111.0 884.0L1112.0 884.6L1112.9 885.1L1113.9 885.6L1114.8 886.2L1115.8 886.7L1116.7 887.2L1117.7 887.7L1118.7 888.2L1119.6 888.8L1120.6 889.3L1121.5 889.8L1122.5 890.3L1123.5 890.8L1124.4 891.3L1125.4 891.8L1126.3 892.3L1127.3 892.8L1128.2 893.3L1129.2 893.8L1130.2 894.3L1131.1 894.8L1132.1 895.2L1133.0 895.7L1134.0 896.2L1135.0 896.7L1135.9 897.1L1136.9 897.6L1137.8 898.1L1138.8 898.5L1139.7 899.0L1140.7 899.5L1141.7 899.9L1142.6 900.4L1143.6 900.8L1144.5 901.3L1145.5 901.7L1146.5 902.2L1147.4 902.6L1148.4 903.1L1149.3 903.5L1150.3 904.0L1151.2 904.4L1152.2 904.8L1153.2 905.3L1154.1 905.7L1155.1 906.1L1156.0 906.5L1157.0 907.0L1158.0 907.4L1158.9 907.8L1159.9 908.2L1160.8 908.6L1161.8 909.1L1162.7 909.5L1163.7 909.9L1164.7 910.3L1165.6 910.7L1166.6 911.1L1167.5 911.5L1168.5 911.9L1169.5 912.3L1170.4 912.7L1171.4 913.1L1172.3 913.5L1173.3 913.9L1174.2 914.3L1175.2 914.7L1176.2 915.0L1177.1 915.4L1178.1 915.8L1179.0 916.2L1180.0 916.6L1181.0 916.9L1181.9 917.3L1182.9 917.7L1183.8 918.1L1184.8 918.4L1185.7 918.8L1186.7 919.2L1187.7 919.5L1188.6 919.9L1189.6 920.3L1190.5 920.6L1191.5 921.0L1192.5 921.3L1193.4 921.7L1194.4 922.1L1195.3 922.4L1196.3 922.8L1197.2 923.1L1198.2 923.5L1199.2 923.8L1200.1 924.2L1201.1 924.5L1202.0 924.8L1203.0 925.2L1204.0 925.5L1204.9 925.9L1205.9 926.2L1206.8 926.5L1207.8 926.9L1208.7 927.2L1209.7 927.5L1210.7 927.9L1211.6 928.2L1212.6 928.5L1213.5 928.9L1214.5 929.2L1215.5 929.5L1216.4 929.8L1217.4 930.2L1218.3 930.5L1219.3 930.8L1220.2 931.1L1221.2 931.4L1222.2 931.7L1223.1 932.1L1224.1 932.4L1225.0 932.7L1226.0 933.0L1227.0 933.3L1227.9 933.6L1228.9 933.9L1229.8 934.2L1230.8 934.5L1231.7 934.8L1232.7 935.1L1233.7 935.4L1234.6 935.7L1235.6 936.0L1236.5 936.3L1237.5 936.6L1238.5 936.9L1239.4 937.2L1240.4 937.5L1241.3 937.8L1242.3 938.1L1243.2 938.4L1244.2 938.7L1245.2 939.0L1246.1 939.3L1247.1 939.6L1248.0 939.8L1249.0 940.1L1250.0 940.4L1250.9 940.7L1251.9 941.0L1252.8 941.3L1253.8 941.5L1254.7 941.8L1255.7 942.1L1256.7 942.4L1257.6 942.7L1258.6 942.9L1259.5 943.2L1260.5 943.5L1261.5 943.8L1262.4 944.0L1263.4 944.3L1264.3 944.6L1265.3 944.8L1266.2 945.1L1267.2 945.4L1268.2 945.6L1269.1 945.9L1270.1 946.2L1271.0 946.4L1272.0 946.7L1273.0 947.0L1273.9 947.2L1274.9 947.5L1275.8 947.7L1276.8 948.0L1277.7 948.3L1278.7 948.5L1279.7 948.8L1280.6 949.0L1281.6 949.3L1282.5 949.6L1283.5 949.8L1284.5 950.1L1285.4 950.3L1286.4 950.6L1287.3 950.8L1288.3 951.1L1289.2 951.3L1290.2 951.6L1291.2 951.8L1292.1 952.1L1293.1 952.3L1294.0 952.6L1295.0 952.8L1296.0 953.0L1296.9 953.3L1297.9 953.5L1298.8 953.8L1299.8 954.0L1300.7 954.3L1301.7 954.5L1302.7 954.7L1303.6 955.0L1304.6 955.2L1305.5 955.5L1306.5 955.7L1307.5 955.9L1308.4 956.2L1309.4 956.4L1310.3 956.6L1311.3 956.9L1312.2 957.1L1313.2 957.4L1314.2 957.6L1315.1 957.8L1316.1 958.0L1317.0 958.3L1318.0 958.5L1319.0 958.7L1319.9 959.0L1320.9 959.2L1321.8 959.4L1322.8 959.7L1323.7 959.9L1324.7 960.1L1325.7 960.3L1326.6 960.6L1327.6 960.8L1328.5 961.0L1329.5 961.2L1330.5 961.5L1331.4 961.7L1332.4 961.9L1333.3 962.1L1334.3 962.4L1335.2 962.6L1336.2 962.8L1337.2 963.0L1338.1 963.2L1339.1 963.5L1340.0 963.7L1341.0 963.9L1342.0 964.1L1342.9 964.3L1343.9 964.5L1344.8 964.8L1345.8 965.0L1346.7 965.2L1347.7 965.4L1348.7 965.6L1349.6 965.8L1350.6 966.1L1351.5 966.3L1352.5 966.5L1353.5 966.7L1354.4 966.9L1355.4 967.1L1356.3 967.3L1357.3 967.5L1358.2 967.8L1359.2 968.0L1360.2 968.2L1361.1 968.4L1362.1 968.6L1363.0 968.8L1364.0 969.0L1365.0 969.2L1365.9 969.4L1366.9 969.6L1367.8 969.8L1368.8 970.0L1369.7 970.2L1370.7 970.5L1371.7 970.7L1372.6 970.9L1373.6 971.1L1374.5 971.3L1375.5 971.5L1376.5 971.7L1377.4 971.9L1378.4 972.1L1379.3 972.3L1380.3 972.5L1381.2 972.7L1382.2 972.9L1383.2 973.1L1384.1 973.3L1385.1 973.5L1386.0 973.7L1387.0 973.9L1388.0 974.1L1388.9 974.3L1389.9 974.5L1390.8 974.7L1391.8 974.9L1392.7 975.1L1393.7 975.3L1394.7 975.5L1395.6 975.7L1396.6 975.9L1397.5 976.1L1398.5 976.3L1399.5 976.5L1400.4 976.7L1401.4 976.9L1402.3 977.0L1403.3 977.2L1404.2 977.4L1405.2 977.6L1406.2 977.8L1407.1 978.0L1408.1 978.2L1409.0 978.4L1410.0 978.6L1411.0 978.8L1411.9 979.0L1412.9 979.2L1413.8 979.4L1414.8 979.6L1415.7 979.7L1416.7 979.9L1417.7 980.1L1418.6 980.3L1419.6 980.5L1420.5 980.7L1421.5 980.9L1422.5 981.1L1423.4 981.3L1424.4 981.5L1425.3 981.6L1426.3 981.8L1427.2 982.0L1428.2 982.2L1429.2 982.4L1430.1 982.6L1431.1 982.8L1432.0 983.0L1433.0 983.1L1434.0 983.3L1434.9 983.5L1435.9 983.7L1436.8 983.9L1437.8 984.1L1438.7 984.3L1439.7 984.4L1440.7 984.6L1441.6 984.8L1442.6 985.0L1443.5 985.2L1444.5 985.4L1445.5 985.5L1446.4 985.7L1447.4 985.9L1448.3 986.1L1449.3 986.3L1450.2 986.5L1451.2 986.6L1452.2 986.8L1453.1 987.0L1454.1 987.2L1455.0 987.4L1456.0 987.5L1457.0 987.7L1457.9 987.9L1458.9 988.1L1459.8 988.3L1460.8 988.5L1461.7 988.6L1462.7 988.8L1463.7 989.0L1464.6 989.2L1465.6 989.4L1466.5 989.5L1467.5 989.7L1468.5 989.9L1469.4 990.1L1470.4 990.3L1471.3 990.4L1472.3 990.6L1473.2 990.8L1474.2 991.0L1475.2 991.1L1476.1 991.3L1477.1 991.5L1478.0 991.7L1479.0 991.9L1480.0 992.0L1480.9 992.2L1481.9 992.4L1482.8 992.6L1483.8 992.7L1484.7 992.9L1485.7 993.1L1486.7 993.3L1487.6 993.4L1488.6 993.6L1489.5 993.8L1490.5 994.0L1491.5 994.1L1492.4 994.3L1493.4 994.5L1494.3 994.7L1495.3 994.8L1496.2 995.0L1497.2 995.2L1498.2 995.4L1499.1 995.5L1500.1 995.7L1501.0 995.9L1502.0 996.1L1503.0 996.2L1503.9 996.4L1504.9 996.6L1505.8 996.8L1506.8 996.9L1507.7 997.1L1508.7 997.3L1509.7 997.5L1510.6 997.6L1511.6 997.8L1512.5 998.0L1513.5 998.1L1514.5 998.3L1515.4 998.5L1516.4 998.7L1517.3 998.8L1518.3 999.0L1519.2 999.2L1520.2 999.3L1521.2 999.5L1522.1 999.7L1523.1 999.9L1524.0 1000.0L1525.0 1000.2L1526.0 1000.4L1526.9 1000.5L1527.9 1000.7L1528.8 1000.9L1529.8 1001.1L1530.7 1001.2L1531.7 1001.4L1532.7 1001.6L1533.6 1001.7L1534.6 1001.9L1535.5 1002.1L1536.5 1002.2L1537.5 1002.4L1538.4 1002.6L1539.4 1002.8L1540.3 1002.9L1541.3 1003.1L1542.2 1003.3L1543.2 1003.4L1544.2 1003.6L1545.1 1003.8L1546.1 1003.9L1547.0 1004.1L1548.0 1004.3L1549.0 1004.4L1549.9 1004.6L1550.9 1004.8L1551.8 1005.0L1552.8 1005.1L1553.7 1005.3L1554.7 1005.5L1555.7 1005.6L1556.6 1005.8L1557.6 1006.0L1558.5 1006.1L1559.5 1006.3L1560.5 1006.5L1561.4 1006.6L1562.4 1006.8L1563.3 1007.0L1564.3 1007.1L1565.2 1007.3L1566.2 1007.5L1567.2 1007.6L1568.1 1007.8L1569.1 1008.0L1570.0 1008.1L1571.0 1008.3L1572.0 1008.5L1572.9 1008.6L1573.9 1008.8L1574.8 1009.0L1575.8 1009.1L1576.7 1009.3L1577.7 1009.5" stroke="#ff0000" stroke-width="5" fill="none" clip-path="url(#cd)"/>
<rect x="953" y="583.8" width="646.2" height="481.0" fill="none" stroke="#000" stroke-width="3.0" stroke-linejoin="miter"/>
<path d="M990.1 1064.8V1074.3M1080.5 1064.8V1069.8M1170.9 1064.8V1074.3M1261.3 1064.8V1069.8M1351.7 1064.8V1074.3M1442.1 1064.8V1069.8M1532.5 1064.8V1074.3M953 1035.5H948.0M953 975.3H943.5M953 915.1H948.0M953 854.8H943.5M953 794.6H948.0M953 734.4H943.5M953 674.1H948.0M953 613.9H943.5" stroke="#000" stroke-width="3.0" fill="none"/>
<text x="936.6" y="987.8" font-size="37.3" font-weight="bold" text-anchor="end" >0.34</text>
<text x="936.6" y="867.3" font-size="37.3" font-weight="bold" text-anchor="end" >0.36</text>
<text x="936.6" y="746.9" font-size="37.3" font-weight="bold" text-anchor="end" >0.38</text>
<text x="936.6" y="626.4" font-size="37.3" font-weight="bold" text-anchor="end" >0.40</text>
<text x="990.1" y="1111.1" font-size="37.3" font-weight="bold" text-anchor="middle" >0</text>
<text x="1170.9" y="1111.1" font-size="37.3" font-weight="bold" text-anchor="middle" >4</text>
<text x="1351.7" y="1111.1" font-size="37.3" font-weight="bold" text-anchor="middle" >8</text>
<text x="1532.5" y="1111.1" font-size="37.3" font-weight="bold" text-anchor="middle" >12</text>
<text x="1205.3" y="1153.6" font-size="42.2" font-weight="bold" text-anchor="start" >Time (min)</text>
<text x="850.2" y="841.9" font-size="41.8" font-weight="bold" text-anchor="middle" transform="rotate(-90 850.2 841.9)">Current (µA)</text>
<use href="#mD" x="1166.1" y="616.8"/>
<path d="M1124.5 662.5H1208.9" stroke="#ff0000" stroke-width="4.6"/>
<text x="1217.5" y="629.5" font-size="37.8" font-weight="normal" text-anchor="start" stroke="#000" stroke-width="0.35" >Single-nanowire device</text>
<text x="1217.5" y="675.2" font-size="37.8" font-weight="normal" text-anchor="start" stroke="#000" stroke-width="0.35" >Fitting</text>
<text x="1018.4" y="667.4" font-size="61" font-weight="normal" text-anchor="start" stroke="#000" stroke-width="0.5" >(d)</text>
<rect x="1293.2" y="743.3" width="280.3" height="70.3" fill="#000"/>
<rect x="1286.5" y="736.6" width="280.3" height="70.3" fill="#fff" stroke="#000" stroke-width="2"/>
<text x="1297" y="790.8" font-size="42.2" stroke="#000" stroke-width="0.35">τ = 4.57 x 10<tspan font-size="27" dy="-22">4</tspan><tspan dy="22"> s</tspan></text>
</svg>
</body></html>
